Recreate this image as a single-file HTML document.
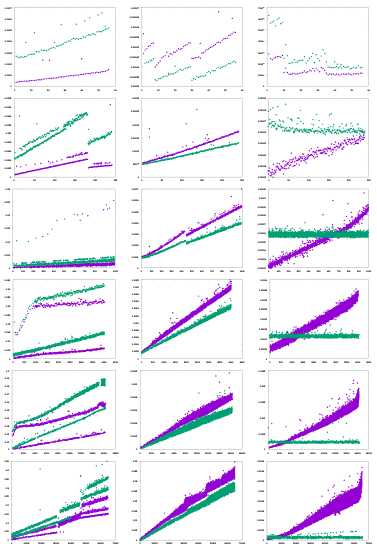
<!DOCTYPE html><html><head><meta charset="utf-8"><title>plots</title><style>html,body{margin:0;padding:0;background:#fff}svg{display:block}</style></head><body><svg width="377" height="550" viewBox="0 0 377 550">
<rect width="377" height="550" fill="#fff"/>
<g font-family="Liberation Sans, sans-serif" font-size="22" fill="#000" stroke="#000" stroke-width="1.0" text-rendering="geometricPrecision">
<g>
<rect x="14.50" y="7.50" width="101.00" height="78.85" fill="none" stroke="#8a8a8a" stroke-width="0.35"/>
<text transform="translate(14.50 90.55) scale(.1)" text-anchor="middle">0</text>
<text transform="translate(31.33 90.55) scale(.1)" text-anchor="middle">10</text>
<text transform="translate(48.17 90.55) scale(.1)" text-anchor="middle">20</text>
<text transform="translate(65.00 90.55) scale(.1)" text-anchor="middle">30</text>
<text transform="translate(81.83 90.55) scale(.1)" text-anchor="middle">40</text>
<text transform="translate(98.67 90.55) scale(.1)" text-anchor="middle">50</text>
<text transform="translate(115.50 90.55) scale(.1)" text-anchor="middle">60</text>
<text transform="translate(11.60 87.40) scale(.1)" text-anchor="end">0</text>
<text transform="translate(11.60 76.14) scale(.1)" text-anchor="end">0.0001</text>
<text transform="translate(11.60 64.87) scale(.1)" text-anchor="end">0.0002</text>
<text transform="translate(11.60 53.61) scale(.1)" text-anchor="end">0.0003</text>
<text transform="translate(11.60 42.34) scale(.1)" text-anchor="end">0.0004</text>
<text transform="translate(11.60 31.08) scale(.1)" text-anchor="end">0.0005</text>
<text transform="translate(11.60 19.81) scale(.1)" text-anchor="end">0.0006</text>
<text transform="translate(11.60 8.55) scale(.1)" text-anchor="end">0.0007</text>
<path d="M31.33 86.35v-1M31.33 7.50v1M48.17 86.35v-1M48.17 7.50v1M65.00 86.35v-1M65.00 7.50v1M81.83 86.35v-1M81.83 7.50v1M98.67 86.35v-1M98.67 7.50v1M14.50 75.09h1M115.50 75.09h-1M14.50 63.82h1M115.50 63.82h-1M14.50 52.56h1M115.50 52.56h-1M14.50 41.29h1M115.50 41.29h-1M14.50 30.03h1M115.50 30.03h-1M14.50 18.76h1M115.50 18.76h-1" stroke="#8a8a8a" stroke-width="0.3" fill="none"/>
<path transform="scale(.1)" d="M162 822h0m17-1h0m17-3h0m16-4h0m17 0h0m17-3h0m17 1h0m17 1h0m16-6h0m17-2h0m17 1h0m17-2h0m17-3h0m17-4h0m17 1h0m16 0h0m17-7h0m17 0h0m17-5h0m17 0h0m17-3h0m16 2h0m17-5h0m17 1h0m17-2h0m17-3h0m17-8h0m16 2h0m17-1h0m17-2h0m17-6h0m17 0h0m16-3h0m17-2h0m17 2h0m17-6h0m17-1h0m17 0h0m17-6h0m16-1h0m17-2h0m17-2h0m17-5h0m17 1h0m16 1h0m17-9h0m17 3h0m17-4h0m17-4h0m17 4h0m17-5h0m16-7h0m17 1h0m17-1h0m17-11h0m17-8h0" stroke="#9400d3" stroke-width="14.0" stroke-linecap="round" fill="none"/>
<path transform="scale(.1)" d="M428 602h0m67 0h0m321-15h0" stroke="#9400d3" stroke-width="14.0" stroke-linecap="round" fill="none"/>
<path transform="scale(.1)" d="M162 562h0m17 8h0m17 8h0m16-11h0m17 8h0m17-8h0m17-3h0m17-15h0m16-3h0m17-4h0m17 0h0m17-3h0m17-21h0m17-2h0m17 5h0m16-22h0m17 6h0m17-3h0m17 5h0m17-9h0m17-11h0m16-6h0m17-6h0m17 6h0m17-19h0m17-5h0m17-1h0m16-9h0m17-7h0m17-16h0m17-3h0m17-12h0m16 1h0m17-14h0m17-12h0m17 6h0m17-6h0m17 10h0m17-8h0m16 0h0m17-18h0m17 7h0m17-19h0m17-8h0m16 4h0m17-11h0m17-1h0m17 6h0m17-27h0m17-3h0m17 1h0m16-2h0m17-11h0m17-11h0m17-4h0m17-10h0" stroke="#009e73" stroke-width="14.0" stroke-linecap="round" fill="none"/>
<path transform="scale(.1)" d="M257 424h0m87-96h0m201 96h0m67-177h0m152-5h0m83-33h0m50-30h0m84-29h0m37-20h0m35 131h0" stroke="#009e73" stroke-width="14.0" stroke-linecap="round" fill="none"/>
</g>
<g>
<rect x="141.80" y="7.50" width="100.35" height="78.85" fill="none" stroke="#8a8a8a" stroke-width="0.35"/>
<text transform="translate(141.80 90.55) scale(.1)" text-anchor="middle">0</text>
<text transform="translate(158.53 90.55) scale(.1)" text-anchor="middle">10</text>
<text transform="translate(175.25 90.55) scale(.1)" text-anchor="middle">20</text>
<text transform="translate(191.97 90.55) scale(.1)" text-anchor="middle">30</text>
<text transform="translate(208.70 90.55) scale(.1)" text-anchor="middle">40</text>
<text transform="translate(225.43 90.55) scale(.1)" text-anchor="middle">50</text>
<text transform="translate(242.15 90.55) scale(.1)" text-anchor="middle">60</text>
<text transform="translate(138.90 87.40) scale(.1)" text-anchor="end">0.00003</text>
<text transform="translate(138.90 77.54) scale(.1)" text-anchor="end">0.000035</text>
<text transform="translate(138.90 67.69) scale(.1)" text-anchor="end">0.00004</text>
<text transform="translate(138.90 57.83) scale(.1)" text-anchor="end">0.000045</text>
<text transform="translate(138.90 47.97) scale(.1)" text-anchor="end">0.00005</text>
<text transform="translate(138.90 38.12) scale(.1)" text-anchor="end">0.000055</text>
<text transform="translate(138.90 28.26) scale(.1)" text-anchor="end">0.00006</text>
<text transform="translate(138.90 18.41) scale(.1)" text-anchor="end">0.000065</text>
<text transform="translate(138.90 8.55) scale(.1)" text-anchor="end">0.00007</text>
<path d="M158.53 86.35v-1M158.53 7.50v1M175.25 86.35v-1M175.25 7.50v1M191.97 86.35v-1M191.97 7.50v1M208.70 86.35v-1M208.70 7.50v1M225.43 86.35v-1M225.43 7.50v1M141.80 76.49h1M242.15 76.49h-1M141.80 66.64h1M242.15 66.64h-1M141.80 56.78h1M242.15 56.78h-1M141.80 46.92h1M242.15 46.92h-1M141.80 37.07h1M242.15 37.07h-1M141.80 27.21h1M242.15 27.21h-1M141.80 17.36h1M242.15 17.36h-1" stroke="#8a8a8a" stroke-width="0.3" fill="none"/>
<path transform="scale(.1)" d="M1435 338h0m16 163h0m17-15h0m17-22h0m17-7h0m16-22h0m17-5h0m17 240h0m17-20h0m16-23h0m17-17h0m17-30h0m16-14h0m17-10h0m17-34h0m17 41h0m16-26h0m17 5h0m17-20h0m16 0h0m17-14h0m17-21h0m17 7h0m16-9h0m17-20h0m17-11h0m17-10h0m16-15h0m17 2h0m17 154h0m16 0h0m17-7h0m17-2h0m17-6h0m16 12h0m17-52h0m17-3h0m17-17h0m16-14h0m17-9h0m17-12h0m16-7h0m17-13h0m17-10h0m17-17h0m16-7h0m17 5h0m17-25h0m17-13h0m16-2h0m17-4h0m17-28h0m16-3h0m17-13h0m17-17h0m17 4h0" stroke="#9400d3" stroke-width="14.0" stroke-linecap="round" fill="none"/>
<path transform="scale(.1)" d="M2002 434h0m184-317h0m137 67h0" stroke="#9400d3" stroke-width="14.0" stroke-linecap="round" fill="none"/>
<path transform="scale(.1)" d="M1435 535h0m16 101h0m17-15h0m17 1h0m17-15h0m16-5h0m17-15h0m17 210h0m17 11h0m16-20h0m17-1h0m17-9h0m16-10h0m17-7h0m17 1h0m17-13h0m16-6h0m17-6h0m17 2h0m16-11h0m17-9h0m17-13h0m17-13h0m16 10h0m17-7h0m17-15h0m17-2h0m16-5h0m17-6h0m17 134h0m16-17h0m17 8h0m17-27h0m17 9h0m16-10h0m17-4h0m17 1h0m17-10h0m16-26h0m17-11h0m17 12h0m16-21h0m17 1h0m17-1h0m17-25h0m16-10h0m17 11h0m17-9h0m17-9h0m16-5h0m17-13h0m17-12h0m16 4h0m17-13h0m17-12h0m17 9h0" stroke="#009e73" stroke-width="14.0" stroke-linecap="round" fill="none"/>
<path transform="scale(.1)" d="M1684 735h0m67-73h0" stroke="#009e73" stroke-width="14.0" stroke-linecap="round" fill="none"/>
</g>
<g>
<rect x="267.10" y="7.50" width="101.70" height="78.85" fill="none" stroke="#8a8a8a" stroke-width="0.35"/>
<text transform="translate(267.10 90.55) scale(.1)" text-anchor="middle">0</text>
<text transform="translate(284.05 90.55) scale(.1)" text-anchor="middle">10</text>
<text transform="translate(301.00 90.55) scale(.1)" text-anchor="middle">20</text>
<text transform="translate(317.95 90.55) scale(.1)" text-anchor="middle">30</text>
<text transform="translate(334.90 90.55) scale(.1)" text-anchor="middle">40</text>
<text transform="translate(351.85 90.55) scale(.1)" text-anchor="middle">50</text>
<text transform="translate(368.80 90.55) scale(.1)" text-anchor="middle">60</text>
<text transform="translate(264.20 87.40) scale(.1)" text-anchor="end">0</text>
<text transform="translate(264.20 76.14) scale(.1)" text-anchor="end">1x10<tspan dy='-6' font-size='14'>-7</tspan></text>
<text transform="translate(264.20 64.87) scale(.1)" text-anchor="end">2x10<tspan dy='-6' font-size='14'>-7</tspan></text>
<text transform="translate(264.20 53.61) scale(.1)" text-anchor="end">3x10<tspan dy='-6' font-size='14'>-7</tspan></text>
<text transform="translate(264.20 42.34) scale(.1)" text-anchor="end">4x10<tspan dy='-6' font-size='14'>-7</tspan></text>
<text transform="translate(264.20 31.08) scale(.1)" text-anchor="end">5x10<tspan dy='-6' font-size='14'>-7</tspan></text>
<text transform="translate(264.20 19.81) scale(.1)" text-anchor="end">6x10<tspan dy='-6' font-size='14'>-7</tspan></text>
<text transform="translate(264.20 8.55) scale(.1)" text-anchor="end">7x10<tspan dy='-6' font-size='14'>-7</tspan></text>
<path d="M284.05 86.35v-1M284.05 7.50v1M301.00 86.35v-1M301.00 7.50v1M317.95 86.35v-1M317.95 7.50v1M334.90 86.35v-1M334.90 7.50v1M351.85 86.35v-1M351.85 7.50v1M267.10 75.09h1M368.80 75.09h-1M267.10 63.82h1M368.80 63.82h-1M267.10 52.56h1M368.80 52.56h-1M267.10 41.29h1M368.80 41.29h-1M267.10 30.03h1M368.80 30.03h-1M267.10 18.76h1M368.80 18.76h-1" stroke="#8a8a8a" stroke-width="0.3" fill="none"/>
<path transform="scale(.1)" d="M2688 541h0m17 43h0m17 14h0m17-17h0m17-6h0m17-7h0m17-4h0m17 8h0m17-17h0m16 170h0m17-44h0m17 44h0m17 17h0m17 0h0m17-4h0m17-7h0m17 11h0m17-4h0m17-7h0m17 0h0m17-6h0m17-16h0m17 16h0m17-7h0m17-17h0m17 8h0m17-25h0m17 25h0m17-28h0m17 20h0m16 17h0m17-43h0m17 10h0m17 17h0m17 31h0m17 17h0m17-13h0m17 7h0m17-4h0m17 9h0m17-9h0m17 6h0m17 5h0m17-10h0m17-2h0m17 4h0m17-1h0m17-6h0m17 7h0m16 8h0m17-12h0m17 0h0m17-5h0m17 7h0m17-9h0m17 1h0" stroke="#9400d3" stroke-width="14.0" stroke-linecap="round" fill="none"/>
<path transform="scale(.1)" d="M2688 154h0m17 77h0m17-9h0m17-13h0m17 50h0m17-63h0m17-16h0m17 57h0m17-11h0m16 356h0m17-134h0m17 110h0m17 76h0m17-3h0m17-6h0m17-27h0m17 24h0m17-4h0m17-13h0m17-3h0m17 0h0m17-34h0m17 63h0m17-23h0m17-23h0m17-17h0m17-33h0m17 90h0m17-77h0m17 37h0m16 23h0m17-47h0m17-63h0m17 37h0m17 85h0m17 50h0m17 2h0m17 6h0m17-2h0m17-2h0m17-9h0m17 12h0m17-9h0m17 13h0m17-17h0m17 8h0m17 2h0m17-10h0m17 23h0m16-2h0m17-14h0m17 9h0m17-3h0m17-21h0m17 21h0m17-2h0" stroke="#009e73" stroke-width="14.0" stroke-linecap="round" fill="none"/>
<path transform="scale(.1)" d="M3346 618h0m26 24h0m40 3h0" stroke="#009e73" stroke-width="14.0" stroke-linecap="round" fill="none"/>
</g>
<g>
<rect x="14.20" y="98.25" width="101.30" height="78.85" fill="none" stroke="#8a8a8a" stroke-width="0.35"/>
<text transform="translate(14.20 181.30) scale(.1)" text-anchor="middle">0</text>
<text transform="translate(34.46 181.30) scale(.1)" text-anchor="middle">50</text>
<text transform="translate(54.72 181.30) scale(.1)" text-anchor="middle">100</text>
<text transform="translate(74.98 181.30) scale(.1)" text-anchor="middle">150</text>
<text transform="translate(95.24 181.30) scale(.1)" text-anchor="middle">200</text>
<text transform="translate(115.50 181.30) scale(.1)" text-anchor="middle">250</text>
<text transform="translate(11.30 178.15) scale(.1)" text-anchor="end">0</text>
<text transform="translate(11.30 169.39) scale(.1)" text-anchor="end">0.0002</text>
<text transform="translate(11.30 160.63) scale(.1)" text-anchor="end">0.0004</text>
<text transform="translate(11.30 151.87) scale(.1)" text-anchor="end">0.0006</text>
<text transform="translate(11.30 143.11) scale(.1)" text-anchor="end">0.0008</text>
<text transform="translate(11.30 134.34) scale(.1)" text-anchor="end">0.001</text>
<text transform="translate(11.30 125.58) scale(.1)" text-anchor="end">0.0012</text>
<text transform="translate(11.30 116.82) scale(.1)" text-anchor="end">0.0014</text>
<text transform="translate(11.30 108.06) scale(.1)" text-anchor="end">0.0016</text>
<text transform="translate(11.30 99.30) scale(.1)" text-anchor="end">0.0018</text>
<path d="M34.46 177.10v-1M34.46 98.25v1M54.72 177.10v-1M54.72 98.25v1M74.98 177.10v-1M74.98 98.25v1M95.24 177.10v-1M95.24 98.25v1M14.20 168.34h1M115.50 168.34h-1M14.20 159.58h1M115.50 159.58h-1M14.20 150.82h1M115.50 150.82h-1M14.20 142.06h1M115.50 142.06h-1M14.20 133.29h1M115.50 133.29h-1M14.20 124.53h1M115.50 124.53h-1M14.20 115.77h1M115.50 115.77h-1M14.20 107.01h1M115.50 107.01h-1" stroke="#8a8a8a" stroke-width="0.3" fill="none"/>
<path transform="scale(.1)" d="M150 1748h0m4-5h0m5 3h0m4 0h0m4-3h0m4-1h0m4 2h0m4-5h0m4-1h0m4-2h0m4 1h0m4 2h0m4-2h0m4-4h0m4-1h0m4 0h0m4 0h0m4-1h0m4-1h0m4 0h0m4-2h0m4-1h0m5 0h0m4-1h0m4 0h0m4 1h0m4-3h0m4-2h0m4-3h0m4 2h0m4-4h0m4 0h0m4 2h0m4-1h0m4-2h0m4-3h0m4 1h0m4-1h0m4 1h0m4 2h0m4-4h0m5-3h0m4-1h0m4 1h0m4-2h0m4-2h0m4 1h0m4-3h0m4 3h0m4-1h0m4-1h0m4-3h0m4 1h0m4-2h0m4-1h0m4-1h0m4-3h0m4-1h0m4 3h0m4-2h0m5-1h0m4 1h0m4-6h0m4 1h0m4 1h0m4-1h0m4-2h0m4 2h0m4-3h0m4-3h0m4 0h0m4 2h0m4-2h0m4-4h0m4 4h0m4-2h0m4 1h0m4-4h0m4-1h0m4-2h0m5 5h0m4-5h0m4 2h0m4-5h0m4 1h0m4-4h0m4 1h0m4 1h0m4-4h0m4 3h0m4-2h0m4-3h0m4 0h0m4-1h0m4 0h0m4-2h0m4-1h0m4 0h0m4-2h0m5-2h0m4 2h0m4 0h0m4-5h0m4 2h0m4-2h0m4-1h0m4 2h0m4-3h0m4 2h0m4-4h0m4 1h0m4-2h0m4-2h0m4 1h0m4-2h0m4 1h0m4-2h0m4-3h0m5 1h0m4-1h0m4 1h0m4-4h0m4 1h0m4-4h0m4 3h0m4-4h0m4-2h0m4 2h0m4 1h0m4-5h0m4 0h0m4 0h0m4-2h0m4 2h0m4-3h0m4-1h0m4 2h0m4-3h0m5 1h0m4-3h0m4-2h0m4-2h0m4 6h0m4-5h0m4 0h0m4-1h0m4-1h0m4-1h0m4 3h0m4-6h0m4-2h0m4 0h0m4-1h0m4 2h0m4 0h0m4-4h0m4-2h0m5 1h0m4 2h0m4-8h0m4 5h0m4-4h0m4 3h0m4-4h0m4 0h0m4-3h0m4 0h0m4 3h0m4-1h0m4-3h0m4-2h0m4-3h0m4 2h0m4 0h0m4-1h0m4-1h0m5-3h0m4 1h0m4 0h0m4 1h0" stroke="#9400d3" stroke-width="14.0" stroke-linecap="round" fill="none"/>
<path transform="scale(.1)" d="M886 1679h0m4-4h0m4-2h0m5 1h0m4-2h0m4 0h0m5 1h0m4-3h0m4 3h0m5-2h0m4 1h0m4-2h0m5-1h0m4-1h0m4 1h0m5-1h0m4 1h0m4-1h0m5-3h0m4 2h0m4-3h0m5 1h0m4 0h0m4-4h0m5 4h0m4 0h0m4-1h0m5-1h0m4-1h0m4-1h0m5 1h0m4-1h0m4 1h0m5-3h0m4 2h0m4-1h0m5-1h0m4-1h0m4 2h0m5-5h0m4 4h0m4-1h0m5 0h0m4-1h0m4-2h0m5 0h0m4 2h0m4-1h0m5-1h0m4-4h0m4 4h0m5 1h0m4-1h0m4-2h0m5-4h0" stroke="#9400d3" stroke-width="14.0" stroke-linecap="round" fill="none"/>
<path transform="scale(.1)" d="M672 1578h0m3-5h0m10 0h0m11-3h0m11 0h0m19 2h0m5-14h0m3 5h0m4-7h0m0 9h0m18-7h0m5-4h0m14-3h0m12-4h0m7 2h0m1-6h0m11-3h0m3-8h0m0 11h0m3-1h0m7-15h0m6 21h0m16-10h0m4-2h0m0 3h0m10-7h0m3-8h0m3 12h0m5-1h0m8-8h0" stroke="#9400d3" stroke-width="14.0" stroke-linecap="round" fill="none"/>
<path transform="scale(.1)" d="M940 1638h0m6-3h0m3 2h0m16 1h0m5-4h0m3-2h0m8 3h0m1 4h0m2-4h0m3 5h0m12-9h0m2-1h0m10 3h0m3-6h0m0 13h0m39-10h0m2 2h0m2-1h0m1-4h0m2 2h0m20 5h0m17-9h0" stroke="#9400d3" stroke-width="14.0" stroke-linecap="round" fill="none"/>
<path transform="scale(.1)" d="M167 1662h0m27-501h0m13 508h0m54-20h0m90-7h0m57-7h0m77-20h0m16 14h0m27-7h0m40-10h0m50-14h0m91-26h0m53-30h0m341-495h0" stroke="#9400d3" stroke-width="14.0" stroke-linecap="round" fill="none"/>
<path transform="scale(.1)" d="M147 1582h0m3 8h0m4-9h0m3 1h0m4-1h0m3 0h0m4-6h0m3 2h0m4-9h0m3 1h0m3-6h0m4 9h0m3-8h0m4-5h0m3 0h0m4-2h0m3 2h0m3-12h0m4 0h0m3 1h0m4 12h0m3-9h0m4-7h0m3 1h0m3 5h0m4-13h0m3-3h0m4 6h0m3-6h0m4-1h0m3-7h0m3 9h0m4-3h0m3-8h0m4-1h0m3-15h0m4 11h0m3-6h0m3 1h0m4-1h0m3-7h0m4-8h0m3 7h0m4-7h0m3 0h0m3-3h0m4-1h0m3-11h0m4 14h0m3-6h0m4 2h0m3 2h0m4-11h0m3-11h0m3 2h0m4-3h0m3 1h0m4 1h0m3-12h0m4 9h0m3-11h0m3 7h0m4-4h0m3-3h0m4-1h0m3-4h0m4-3h0m3-7h0m3 6h0m4 7h0m3-2h0m4-5h0m3-5h0m4-8h0m3 8h0m3-9h0m4-2h0m3-3h0m4-1h0m3-4h0m4 0h0m3-7h0m3 1h0m4 11h0m3-13h0m4-3h0m3 1h0m4-1h0m3-10h0m4 2h0m3 3h0m3-5h0m4-3h0m3 5h0m4-12h0m3 1h0m4-5h0m3 8h0m3-19h0m4 4h0m3-1h0m4 4h0m3-3h0m4 2h0m3-16h0m3 9h0m4-7h0m3-4h0m4 4h0m3-9h0m4-7h0m3 6h0m3-8h0m4 2h0m3 3h0m4-2h0m3 4h0m4-11h0m3-8h0m3 2h0m4-3h0m3-4h0m4 6h0m3-7h0m4-8h0m3 10h0m3-5h0m4 0h0m3-3h0m4 0h0m3-5h0m4 4h0m3-6h0m4-2h0m3-2h0m3-11h0m4 4h0m3-2h0m4 0h0m3-10h0m4 12h0m3-9h0m3-8h0m4-4h0m3 4h0m4-1h0m3-5h0m4 2h0m3-5h0m3 3h0" stroke="#009e73" stroke-width="14.0" stroke-linecap="round" fill="none"/>
<path transform="scale(.1)" d="M201 1482h0m7 2h0m7 5h0m7 10h0m7-35h0m7 0h0m7-7h0m7 10h0m7-20h0m8 1h0m7 0h0m7-12h0m7-4h0m7 1h0m7-19h0m7 2h0m7 5h0m8 1h0m7-7h0m7-17h0m7 7h0m7 7h0m7-6h0m7-10h0m7-11h0m7 10h0m8-15h0m7-9h0m7-1h0m7 16h0m7-15h0m7 4h0m7-18h0m7 9h0m8-18h0m7 0h0m7 19h0m7-19h0m7-15h0m7 0h0m7 0h0m7 3h0m7-18h0m8-15h0m7 8h0m7-1h0m7-3h0m7 6h0m7-12h0m7 0h0m7-20h0m8 13h0m7 6h0m7-15h0m7-9h0" stroke="#009e73" stroke-width="14.0" stroke-linecap="round" fill="none"/>
<path transform="scale(.1)" d="M635 1267h0m3 25h0m4-47h0m3 12h0m3 8h0m3 2h0m4-21h0m3 10h0m3-11h0m3 5h0m4-6h0m3-19h0m3 17h0m3 13h0m4-33h0m3 10h0m3 14h0m3-31h0m4 19h0m3-23h0m3 35h0m3 18h0m4-7h0m3-39h0m3 14h0m3-12h0m4-2h0m3 22h0m3-50h0m3 38h0m4-20h0m3 22h0m3-22h0m3-16h0m4 14h0m3 6h0m3-14h0m3 6h0m4-19h0m3-29h0m3 49h0m3-5h0m4-11h0m3-3h0m3 14h0m3-27h0m4-6h0m3 7h0m3 21h0m3-45h0m4 42h0m3-33h0m3-9h0m3 37h0m4-24h0m3-22h0m3 14h0m3 19h0m4 3h0m3-29h0m3 12h0m3 3h0m4-24h0m3 15h0m3-9h0m3-10h0m4-1h0m3 7h0m3-2h0m3-12h0m4 1h0m3 23h0m3-17h0m3 10h0m4 3h0" stroke="#009e73" stroke-width="14.0" stroke-linecap="round" fill="none"/>
<path transform="scale(.1)" d="M882 1434h0m4 14h0m3-30h0m4 14h0m3-12h0m3 19h0m4-3h0m3-36h0m3 8h0m4 14h0m3 0h0m4-2h0m3-9h0m3 4h0m4 0h0m3-8h0m4 9h0m3-32h0m3 26h0m4-17h0m3 17h0m4-13h0m3-7h0m3 10h0m4-13h0m3-1h0m4-8h0m3 13h0m3 4h0m4 3h0m3-12h0m3 10h0m4-11h0m3-3h0m4 5h0m3 3h0m3-14h0m4 0h0m3-1h0m4 1h0m3-11h0m3 17h0m4-15h0m3 7h0m4-13h0m3 9h0m3-1h0m4-9h0m3 22h0m3-17h0m4 12h0m3-9h0m4-17h0m3 2h0m3 6h0m4-5h0m3-1h0m4-5h0m3-16h0m3 14h0m4-20h0m3 23h0m4-12h0m3-1h0m3 3h0m4 3h0m3-17h0m4-4h0m3 5h0m3-11h0" stroke="#009e73" stroke-width="14.0" stroke-linecap="round" fill="none"/>
<path transform="scale(.1)" d="M150 1528h0m134-107h0m50 0h0m34-183h0m407-91h0m27 14h0m84 133h0" stroke="#009e73" stroke-width="14.0" stroke-linecap="round" fill="none"/>
</g>
<g>
<rect x="141.80" y="98.25" width="100.35" height="78.85" fill="none" stroke="#8a8a8a" stroke-width="0.35"/>
<text transform="translate(141.80 181.30) scale(.1)" text-anchor="middle">0</text>
<text transform="translate(161.87 181.30) scale(.1)" text-anchor="middle">50</text>
<text transform="translate(181.94 181.30) scale(.1)" text-anchor="middle">100</text>
<text transform="translate(202.01 181.30) scale(.1)" text-anchor="middle">150</text>
<text transform="translate(222.08 181.30) scale(.1)" text-anchor="middle">200</text>
<text transform="translate(242.15 181.30) scale(.1)" text-anchor="middle">250</text>
<text transform="translate(138.90 178.15) scale(.1)" text-anchor="end">0</text>
<text transform="translate(138.90 165.01) scale(.1)" text-anchor="end">5x10<tspan dy='-6' font-size='14'>-5</tspan></text>
<text transform="translate(138.90 151.87) scale(.1)" text-anchor="end">0.0001</text>
<text transform="translate(138.90 138.73) scale(.1)" text-anchor="end">0.00015</text>
<text transform="translate(138.90 125.58) scale(.1)" text-anchor="end">0.0002</text>
<text transform="translate(138.90 112.44) scale(.1)" text-anchor="end">0.00025</text>
<text transform="translate(138.90 99.30) scale(.1)" text-anchor="end">0.0003</text>
<path d="M161.87 177.10v-1M161.87 98.25v1M181.94 177.10v-1M181.94 98.25v1M202.01 177.10v-1M202.01 98.25v1M222.08 177.10v-1M222.08 98.25v1M141.80 163.96h1M242.15 163.96h-1M141.80 150.82h1M242.15 150.82h-1M141.80 137.68h1M242.15 137.68h-1M141.80 124.53h1M242.15 124.53h-1M141.80 111.39h1M242.15 111.39h-1" stroke="#8a8a8a" stroke-width="0.3" fill="none"/>
<path transform="scale(.1)" d="M1427 1629h0m4 6h0m4-9h0m4 4h0m5-7h0m4 4h0m4-3h0m4-1h0m4 1h0m4 2h0m4-5h0m4-2h0m4-4h0m4 3h0m5-3h0m4 2h0m4-4h0m4 4h0m4-12h0m4 3h0m4 3h0m4-5h0m4-3h0m4 1h0m4-5h0m5 4h0m4 5h0m4-5h0m4-8h0m4 0h0m4 0h0m4 3h0m4-7h0m4 0h0m4 3h0m5-1h0m4-5h0m4-3h0m4-3h0m4 1h0m4-5h0m4 7h0m4-5h0m4 2h0m4 3h0m5-3h0m4-8h0m4 5h0m4-1h0m4-7h0m4-1h0m4 1h0m4-6h0m4 8h0m4-13h0m5 3h0m4 2h0m4-2h0m4 0h0m4 0h0m4-3h0m4 3h0m4-11h0m4 5h0m4-3h0m5 1h0m4-1h0m4-4h0m4-1h0m4 3h0m4-2h0m4-5h0m4 7h0m4 0h0m4-12h0m5 4h0m4 5h0m4-6h0m4-3h0m4-3h0m4-2h0m4 0h0m4-2h0m4 2h0m4-5h0m5-1h0m4-4h0m4 2h0m4-4h0m4 1h0m4 2h0m4-3h0m4-1h0m4-2h0m4-2h0m5-2h0m4-2h0m4 2h0m4-7h0m4 6h0m4-6h0m4-3h0m4-1h0m4-2h0m4 1h0m5-4h0m4 4h0m4-7h0m4-6h0m4 3h0m4-5h0m4 5h0m4 2h0m4-3h0m4-7h0m5 0h0m4 6h0m4-6h0m4-2h0m4 2h0m4 3h0m4-5h0m4-5h0m4-1h0m4 0h0m5-5h0m4-3h0m4 2h0m4-5h0m4 2h0m4-1h0m4 5h0m4-11h0m4 1h0m4-2h0m5 1h0m4 0h0m4-6h0m4-2h0m4-4h0m4 1h0m4 3h0m4-3h0m4-5h0m4 1h0m5 0h0m4 0h0m4-5h0m4 0h0m4-7h0m4 1h0m4 7h0m4-13h0m4 4h0m4 1h0m4-4h0m5-2h0m4 1h0m4-2h0m4-1h0m4-7h0m4 4h0m4-4h0m4 0h0m4 1h0m4-1h0m5 0h0m4-6h0m4 3h0m4-1h0m4-2h0m4 0h0m4-7h0m4-1h0m4 1h0m4-8h0m5 3h0m4-3h0m4-1h0m4-6h0m4 1h0m4 1h0m4 1h0m4-1h0m4-4h0m4-2h0m5-4h0m4 2h0m4-3h0m4 1h0m4 2h0m4-7h0m4-6h0m4 1h0m4-4h0m4 0h0m5 6h0m4-5h0m4-7h0m4 5h0m4 0h0m4-6h0m4-2h0m4-1h0m4 0h0m4 0h0m5 0h0m4-1h0m4-2h0m4-1h0m4-3h0m4-9h0m4 3h0m4 0h0m4-4h0m4 3h0m5-6h0m4-3h0m4 6h0m4-4h0m4-3h0m4 1h0m4-1h0m4-4h0m4-10h0m4 4h0m5-1h0m4-3h0m4 2h0m4 2h0m4-7h0m4-4h0m4 9h0m4-9h0m4-4h0" stroke="#9400d3" stroke-width="14.0" stroke-linecap="round" fill="none"/>
<path transform="scale(.1)" d="M1494 1288h0m0 83h0m73 184h0m111-33h0m150-51h0m34-16h0m66-34h0m41-327h0m86 287h0m17-33h0m0 53h0m14-13h0m10 27h0" stroke="#9400d3" stroke-width="14.0" stroke-linecap="round" fill="none"/>
<path transform="scale(.1)" d="M1427 1643h0m4-1h0m4-4h0m4 4h0m5-5h0m4-2h0m4 3h0m4 1h0m4-6h0m4 3h0m4-3h0m4 8h0m4-11h0m4 5h0m5-5h0m4-1h0m4 2h0m4 0h0m4 0h0m4-4h0m4-3h0m4-1h0m4 2h0m4 0h0m4 1h0m5-3h0m4 1h0m4 0h0m4-5h0m4-5h0m4 0h0m4-2h0m4 8h0m4-8h0m4 6h0m5-3h0m4 3h0m4-3h0m4-5h0m4-1h0m4 0h0m4 0h0m4-3h0m4 1h0m4 4h0m5-11h0m4 5h0m4-4h0m4 2h0m4 1h0m4-3h0m4 1h0m4-7h0m4 7h0m4-6h0m5 3h0m4-2h0m4-10h0m4 5h0m4 2h0m4 3h0m4-4h0m4-1h0m4-6h0m4 8h0m5 0h0m4-6h0m4-2h0m4-5h0m4 7h0m4 5h0m4-7h0m4 1h0m4-3h0m4-6h0m5 6h0m4-8h0m4 2h0m4 1h0m4 1h0m4-2h0m4-1h0m4-5h0m4-2h0m4 3h0m5-3h0m4-3h0m4-1h0m4 1h0m4-5h0m4 1h0m4-2h0m4 4h0m4 0h0m4 4h0m5-12h0m4 2h0m4 4h0m4-5h0m4-1h0m4 5h0m4-7h0m4-4h0m4-1h0m4 4h0m5-1h0m4-6h0m4 0h0m4 4h0m4-1h0m4-5h0m4 3h0m4-1h0m4-8h0m4 3h0m5 1h0m4-4h0m4-5h0m4 4h0m4 2h0m4 2h0m4-12h0m4 13h0m4-12h0m4 5h0m5 0h0m4-2h0m4-3h0m4-5h0m4 4h0m4-5h0m4-6h0m4 15h0m4-7h0m4 2h0m5-9h0m4 6h0m4-1h0m4-1h0m4-6h0m4-4h0m4 2h0m4-7h0m4 0h0m4 5h0m5-4h0m4 1h0m4-1h0m4 5h0m4-2h0m4-5h0m4 2h0m4-7h0m4 1h0m4 3h0m4-8h0m5 2h0m4-4h0m4 3h0m4 4h0m4-8h0m4 2h0m4-5h0m4-2h0m4-1h0m4 8h0m5 1h0m4-6h0m4-5h0m4 4h0m4-4h0m4 2h0m4-2h0m4-1h0m4 0h0m4-5h0m5 0h0m4-5h0m4 3h0m4-4h0m4 3h0m4-3h0m4 2h0m4 0h0m4-6h0m4 1h0m5-2h0m4 5h0m4 2h0m4-4h0m4-4h0m4 4h0m4-10h0m4 9h0m4-8h0m4-7h0m5 15h0m4-4h0m4-9h0m4 3h0m4-2h0m4 0h0m4-5h0m4 1h0m4 3h0m4-2h0m5 2h0m4-4h0m4 6h0m4-10h0m4 2h0m4-8h0m4 1h0m4 7h0m4-8h0m4 4h0m5-3h0m4-4h0m4 2h0m4-2h0m4-1h0m4 3h0m4-1h0m4-5h0m4-1h0m4 2h0m5-2h0m4 3h0m4 4h0m4-7h0m4-3h0m4-1h0m4-3h0m4-1h0m4-2h0" stroke="#009e73" stroke-width="14.0" stroke-linecap="round" fill="none"/>
<path transform="scale(.1)" d="M1621 1588h0m57-6h0m184-344h0m110 243h0m140-33h0m24 7h0m160-27h0" stroke="#009e73" stroke-width="14.0" stroke-linecap="round" fill="none"/>
</g>
<g>
<rect x="268.80" y="98.25" width="100.00" height="78.85" fill="none" stroke="#8a8a8a" stroke-width="0.35"/>
<text transform="translate(268.80 181.30) scale(.1)" text-anchor="middle">0</text>
<text transform="translate(288.80 181.30) scale(.1)" text-anchor="middle">50</text>
<text transform="translate(308.80 181.30) scale(.1)" text-anchor="middle">100</text>
<text transform="translate(328.80 181.30) scale(.1)" text-anchor="middle">150</text>
<text transform="translate(348.80 181.30) scale(.1)" text-anchor="middle">200</text>
<text transform="translate(368.80 181.30) scale(.1)" text-anchor="middle">250</text>
<text transform="translate(265.90 178.15) scale(.1)" text-anchor="end">0.00002</text>
<text transform="translate(265.90 166.89) scale(.1)" text-anchor="end">0.00003</text>
<text transform="translate(265.90 155.62) scale(.1)" text-anchor="end">0.00004</text>
<text transform="translate(265.90 144.36) scale(.1)" text-anchor="end">0.00005</text>
<text transform="translate(265.90 133.09) scale(.1)" text-anchor="end">0.00006</text>
<text transform="translate(265.90 121.83) scale(.1)" text-anchor="end">0.00007</text>
<text transform="translate(265.90 110.56) scale(.1)" text-anchor="end">0.00008</text>
<text transform="translate(265.90 99.30) scale(.1)" text-anchor="end">0.00009</text>
<path d="M288.80 177.10v-1M288.80 98.25v1M308.80 177.10v-1M308.80 98.25v1M328.80 177.10v-1M328.80 98.25v1M348.80 177.10v-1M348.80 98.25v1M268.80 165.84h1M368.80 165.84h-1M268.80 154.57h1M368.80 154.57h-1M268.80 143.31h1M368.80 143.31h-1M268.80 132.04h1M368.80 132.04h-1M268.80 120.78h1M368.80 120.78h-1M268.80 109.51h1M368.80 109.51h-1" stroke="#8a8a8a" stroke-width="0.3" fill="none"/>
<path transform="scale(.1)" d="M2681 1709h0m4 30h0m5-32h0m4 3h0m4-29h0m4 75h0m4-32h0m4 33h0m4-28h0m5 16h0m4-48h0m4 24h0m4 52h0m4-131h0m4 87h0m4 12h0m5-36h0m4 8h0m4 12h0m4-54h0m4 28h0m4-37h0m4-31h0m5 34h0m4 12h0m4 6h0m4 7h0m4-53h0m4 61h0m4 6h0m5-13h0m4-34h0m4 8h0m4 16h0m4-6h0m4-59h0m4 65h0m5 58h0m4-132h0m4 76h0m4-19h0m4-15h0m4 40h0m4-72h0m5 35h0m4 34h0m4-47h0m4-8h0m4 13h0m4-17h0m4 53h0m5-69h0m4 47h0m4-60h0m4 51h0m4-23h0m4-94h0m4 94h0m4-31h0m5 16h0m4 52h0m4-74h0m4 0h0m4 67h0m4-38h0m4 37h0m5-82h0m4 12h0m4 21h0m4 34h0m4-34h0m4-3h0m4 0h0m5-7h0m4-14h0m4 67h0m4-54h0m4-33h0m4 16h0m4 32h0m5-4h0m4-23h0m4-16h0m4 18h0m4-48h0m4 9h0m4 56h0m5-36h0m4 22h0m4 22h0m4-17h0m4-19h0m4 56h0m4-41h0m5-29h0m4 28h0m4-10h0m4-36h0m4 24h0m4-8h0m4-51h0m5 48h0m4-4h0m4-5h0m4-59h0m4 58h0m4 7h0m4 3h0m5-35h0m4 47h0m4-52h0m4 26h0m4 40h0m4-56h0m4-6h0m5 52h0m4-41h0m4-23h0m4 37h0m4 21h0m4-91h0m4 37h0m5-6h0m4-4h0m4 5h0m4-1h0m4 30h0m4-34h0m4 27h0m5 6h0m4-32h0m4 22h0m4 5h0m4-2h0m4-28h0m4 14h0m5-24h0m4 31h0m4 15h0m4-48h0m4 5h0m4 46h0m4-46h0m5 18h0m4-35h0m4 5h0m4 7h0m4 70h0m4-70h0m4-5h0m5-2h0m4 10h0m4 20h0m4-70h0m4 105h0m4-51h0m4 32h0m5-33h0m4 8h0m4-56h0m4 30h0m4 4h0m4-6h0m4-53h0m5 80h0m4-36h0m4-2h0m4 3h0m4-1h0m4 16h0m4-47h0m5 8h0m4 31h0m4-5h0m4-16h0m4-6h0m4-9h0m4 19h0m5 32h0m4-61h0m4 67h0m4-19h0m4-36h0m4 31h0m4-61h0m5-9h0m4 10h0m4 22h0m4 1h0m4-6h0m4 15h0m4-62h0m5 69h0m4-52h0m4 18h0m4 5h0m4-21h0m4-7h0m4 8h0m5 25h0m4 15h0m4-2h0m4-48h0m4 9h0m4-5h0m4 35h0m5-68h0m4 86h0m4-48h0m4-9h0m4 28h0m4 18h0m4-20h0m5 17h0m4-26h0m4 28h0m4-1h0m4-38h0m4 40h0m4-35h0m5-20h0m4-12h0m4 15h0m4 27h0m4-57h0m4 13h0m4 28h0m5-3h0m4-68h0m4 55h0m4 18h0m4-39h0m4 21h0m4-67h0" stroke="#9400d3" stroke-width="14.0" stroke-linecap="round" fill="none"/>
<path transform="scale(.1)" d="M2681 1265h0m4-151h0m5 132h0m4-8h0m4-44h0m4 40h0m4-137h0m4 135h0m4 39h0m5-52h0m4 34h0m4 1h0m4-38h0m4 39h0m4 12h0m4-9h0m5-42h0m4 27h0m4-10h0m4 51h0m4 13h0m4-16h0m4 2h0m5-32h0m4 2h0m4 8h0m4 4h0m4-66h0m4 65h0m4-52h0m5 38h0m4 25h0m4 4h0m4-10h0m4 1h0m4 37h0m4-97h0m5 9h0m4 53h0m4 29h0m4 13h0m4-24h0m4-248h0m4 239h0m5 22h0m4-27h0m4 34h0m4 1h0m4-132h0m4 122h0m4 3h0m5 12h0m4-42h0m4 28h0m4-112h0m4 96h0m4 4h0m4-96h0m4 13h0m5 69h0m4 10h0m4 33h0m4 8h0m4-18h0m4 8h0m4-24h0m9 12h0m4-21h0m4 3h0m4-47h0m4 57h0m4-117h0m5 128h0m4-124h0m4 133h0m4-14h0m4-4h0m4-193h0m4 108h0m5 81h0m4 4h0m4 16h0m4-1h0m4 9h0m4-88h0m4 65h0m5-10h0m4 19h0m4-9h0m4-1h0m4 19h0m4-8h0m4-19h0m5 35h0m4-4h0m4-22h0m4 20h0m4-22h0m4 27h0m4-24h0m5-6h0m4 9h0m4-5h0m4 14h0m4 0h0m4-72h0m4 44h0m5-89h0m4 117h0m4-64h0m4 66h0m4 13h0m4-12h0m4-9h0m5 4h0m4 0h0m4-167h0m4 162h0m4-5h0m4 30h0m4-17h0m5-42h0m4-66h0m4 110h0m4-4h0m4 9h0m4 5h0m4-38h0m5 17h0m4-1h0m4 15h0m4-78h0m4 70h0m4 24h0m4-5h0m5-44h0m4 12h0m4 47h0m4-25h0m4 3h0m4-10h0m4-18h0m5 1h0m4-1h0m4-18h0m4 35h0m4-13h0m4-4h0m4 16h0m5-44h0m4 51h0m4 5h0m4 8h0m4-3h0m4-21h0m4-4h0m5-36h0m4-23h0m4 57h0m4 28h0m4-30h0m4 25h0m4-5h0m5 6h0m4 11h0m4-35h0m4 8h0m4-13h0m4 39h0m4-2h0m5-25h0m4-9h0m4-31h0m4 39h0m4 10h0m4-4h0m4 10h0m5-86h0m4 91h0m4-12h0m4-35h0m4 34h0m4-5h0m4-4h0m5 6h0m4 8h0m4-9h0m4-51h0m4-12h0m4 54h0m4 24h0m5-4h0m4-29h0m4 10h0m4 6h0m4-4h0m4-12h0m4 34h0m5-37h0m4-58h0m4 52h0m4 35h0m4-60h0m4 57h0m4-21h0m5-6h0m4 22h0m4-9h0m4 17h0m4 3h0m4-9h0m4-7h0m5 19h0m4 26h0m4-43h0m4 14h0m4-83h0m4 42h0m4 11h0m5 15h0m4 30h0m4-23h0m4-7h0m4-21h0m4 34h0m4-10h0m5 7h0m4-18h0m4 15h0m4 15h0m4 16h0m4-17h0m4-6h0" stroke="#009e73" stroke-width="14.0" stroke-linecap="round" fill="none"/>
<path transform="scale(.1)" d="M2727 1077h0m34 70h0m16-80h0m518 80h0m17-10h0m261 107h0" stroke="#009e73" stroke-width="14.0" stroke-linecap="round" fill="none"/>
</g>
<g>
<rect x="12.80" y="189.00" width="102.70" height="78.85" fill="none" stroke="#8a8a8a" stroke-width="0.35"/>
<text transform="translate(12.80 272.05) scale(.1)" text-anchor="middle">0</text>
<text transform="translate(23.07 272.05) scale(.1)" text-anchor="middle">100</text>
<text transform="translate(33.34 272.05) scale(.1)" text-anchor="middle">200</text>
<text transform="translate(43.61 272.05) scale(.1)" text-anchor="middle">300</text>
<text transform="translate(53.88 272.05) scale(.1)" text-anchor="middle">400</text>
<text transform="translate(64.15 272.05) scale(.1)" text-anchor="middle">500</text>
<text transform="translate(74.42 272.05) scale(.1)" text-anchor="middle">600</text>
<text transform="translate(84.69 272.05) scale(.1)" text-anchor="middle">700</text>
<text transform="translate(94.96 272.05) scale(.1)" text-anchor="middle">800</text>
<text transform="translate(105.23 272.05) scale(.1)" text-anchor="middle">900</text>
<text transform="translate(115.50 272.05) scale(.1)" text-anchor="middle">1000</text>
<text transform="translate(9.90 268.90) scale(.1)" text-anchor="end">0</text>
<text transform="translate(9.90 255.76) scale(.1)" text-anchor="end">0.005</text>
<text transform="translate(9.90 242.62) scale(.1)" text-anchor="end">0.01</text>
<text transform="translate(9.90 229.48) scale(.1)" text-anchor="end">0.015</text>
<text transform="translate(9.90 216.33) scale(.1)" text-anchor="end">0.02</text>
<text transform="translate(9.90 203.19) scale(.1)" text-anchor="end">0.025</text>
<text transform="translate(9.90 190.05) scale(.1)" text-anchor="end">0.03</text>
<path d="M23.07 267.85v-1M23.07 189.00v1M33.34 267.85v-1M33.34 189.00v1M43.61 267.85v-1M43.61 189.00v1M53.88 267.85v-1M53.88 189.00v1M64.15 267.85v-1M64.15 189.00v1M74.42 267.85v-1M74.42 189.00v1M84.69 267.85v-1M84.69 189.00v1M94.96 267.85v-1M94.96 189.00v1M105.23 267.85v-1M105.23 189.00v1M12.80 254.71h1M115.50 254.71h-1M12.80 241.57h1M115.50 241.57h-1M12.80 228.43h1M115.50 228.43h-1M12.80 215.28h1M115.50 215.28h-1M12.80 202.14h1M115.50 202.14h-1" stroke="#8a8a8a" stroke-width="0.3" fill="none"/>
<polygon points="13.4,267.1 115,262.4 115,265.6 13.4,267.9" fill="#9400d3" stroke="none"/>
<path transform="scale(.1)" d="M144 2670h0m0 3h0m30-3h0m2-2h0m30 1h0m17 4h0m1-3h0m19-3h0m1 2h0m3-3h0m0 4h0m9-2h0m1-1h0m16-1h0m28-2h0m2 0h0m6 0h0m11 2h0m19-2h0m13-3h0m13 2h0m6-1h0m3 4h0m5-1h0m12-1h0m1-6h0m19 2h0m3-7h0m8 6h0m21-3h0m2 3h0m9-3h0m6 0h0m6 5h0m11-5h0m6-2h0m9 5h0m17-7h0m9 1h0m7 4h0m3 0h0m2 3h0m7-12h0m3 11h0m3-5h0m21 0h0m1-1h0m3 0h0m3 3h0m4-3h0m3-3h0m4-3h0m2 13h0m4-11h0m24 4h0m6-5h0m3 3h0m5 0h0m5 0h0m1-4h0m4 7h0m21-5h0m12 1h0m3-2h0m3 0h0m13-4h0m7 2h0m7 2h0m11-3h0m13 2h0m1-1h0m11-2h0m1 4h0m1-2h0m11-1h0m21 4h0m2 1h0m8-6h0m16-1h0m15-2h0m4 3h0m3-2h0m4 1h0m12 0h0m11-4h0m3 1h0m8 2h0m6-5h0m0 3h0m5 1h0m1-3h0m2 2h0m25 0h0m6-3h0m9 2h0m15-2h0m4-1h0m13-2h0m17-1h0m14 4h0m8-1h0m1 1h0m9-6h0m32 1h0m10 1h0m12 4h0m4-5h0m8-2h0m5 1h0m6 1h0m3-2h0m24 0h0m5 1h0m0 1h0m6-3h0m13-1h0m2-1h0m3 4h0m14-1h0m3-4h0" stroke="#9400d3" stroke-width="14.0" stroke-linecap="round" fill="none"/>
<path transform="scale(.1)" d="M135 2678h0m4 1h0m0 2h0m6-5h0m1 2h0m20-2h0m10 0h0m30 4h0m62-4h0m30 0h0m3 1h0m14-5h0m0 2h0m0 3h0m2-3h0m18-1h0m3-1h0m10 1h0m27 1h0m11-3h0m7 3h0m33-3h0m5-2h0m3 2h0m6 1h0m25-1h0m20 0h0m14 0h0m24-3h0m4 4h0m14-5h0m20 3h0m2-3h0m4 3h0m14 0h0m18-4h0m8 3h0m3-3h0m5 0h0m3 0h0m2 1h0m5 2h0m27-2h0m30-3h0m15 0h0m7 1h0m5 0h0m15-1h0m6-1h0m32 2h0m10-2h0m12-1h0m6 3h0m8-6h0m3 5h0m16-3h0m4-1h0m42 2h0m5-3h0m11 1h0m22-2h0m6 4h0m8-3h0m3-1h0m1 4h0m40-5h0m9 0h0m3-1h0m7 0h0m13 2h0m17 0h0m10 2h0m16-3h0m7 0h0m13-2h0m2 4h0m11-3h0m27 0h0m16-4h0m7 0h0" stroke="#9400d3" stroke-width="14.0" stroke-linecap="round" fill="none"/>
<path transform="scale(.1)" d="M752 2643h0m4 0h0m2-1h0m4 3h0m4-4h0m5 1h0m3 4h0m5 1h0m3-4h0m9-2h0m2-1h0m15 2h0m1-1h0m13 1h0m5-4h0m1 3h0m1-4h0m1 4h0m1-2h0m2 3h0m14-6h0m2 1h0m4 5h0m5-3h0m4 3h0m8 1h0m1-7h0m3 7h0m3-4h0m3 8h0m2-10h0m2 0h0m1 6h0m9-3h0m2-1h0m2-1h0m0 1h0m2 1h0m1 7h0" stroke="#9400d3" stroke-width="14.0" stroke-linecap="round" fill="none"/>
<path transform="scale(.1)" d="M167 2639h0m144-7h0m63 7h0m34-7h0m20-267h0m50-24h0m324-137h0m77-46h0m157-61h0m40-6h0m20-10h0" stroke="#9400d3" stroke-width="14.0" stroke-linecap="round" fill="none"/>
<polygon points="13.4,265.6 115,259 115,261.4 13.4,266.6" fill="#009e73" stroke="none"/>
<path transform="scale(.1)" d="M139 2650h0m8 3h0m5 2h0m7-5h0m1 4h0m31-3h0m7 2h0m3 1h0m12-4h0m6 0h0m5 2h0m1-2h0m3-4h0m9 3h0m5 0h0m18 2h0m1-10h0m0 3h0m0 3h0m3-1h0m9-2h0m0 10h0m12-5h0m7-4h0m5 0h0m5 1h0m4 0h0m13 0h0m13-2h0m2-4h0m0 3h0m2 0h0m13 1h0m2-2h0m1-1h0m4-1h0m9 3h0m12-4h0m0 1h0m10-3h0m3 0h0m6-1h0m6 1h0m2 3h0m5 0h0m1-4h0m0 3h0m2-4h0m5 4h0m14 0h0m8-4h0m2 1h0m1 0h0m6-1h0m4-6h0m10 5h0m1 1h0m3-4h0m1 2h0m1 2h0m3 2h0m12-2h0m6-2h0m3-2h0m1 1h0m30-2h0m3 1h0m5-5h0m0 4h0m11 1h0m3-1h0m2-4h0m4 2h0m0 6h0m1-8h0m9 3h0m18-1h0m8-2h0m17-2h0m6-1h0m13 3h0m10-6h0m19 1h0m20 2h0m4-4h0m1 0h0m5 5h0m3-4h0m14-1h0m1 0h0m2 1h0m30-4h0m4 1h0m1-3h0m4 0h0m6 2h0m1-2h0m0 6h0m6-5h0m3 1h0m5 0h0m2 2h0m3-2h0m24 2h0m11-4h0m3-3h0m14 1h0m7-1h0m7 3h0m9-6h0m4 7h0m26-4h0m18-5h0m6-3h0m15 0h0m2 9h0m4-7h0m6-2h0m9 6h0m3-3h0m4 2h0m18-7h0m3 0h0m16 3h0m1-1h0m1 0h0m1-2h0m8 2h0m2-1h0m7-4h0m13 3h0m5-8h0m0 4h0m11 0h0m4-2h0m15 3h0m13 1h0m4-4h0m2 0h0m18 4h0m5-5h0m2 2h0m3-2h0m6 2h0m4-3h0m4-2h0m12-3h0m2-1h0m0 8h0m7 0h0m3-5h0m6 1h0m2 0h0m3 0h0m3 0h0m1-4h0" stroke="#009e73" stroke-width="14.0" stroke-linecap="round" fill="none"/>
<path transform="scale(.1)" d="M161 2667h0m5-5h0m5 0h0m1 2h0m9-1h0m13 0h0m6 1h0m9-2h0m1-1h0m8-2h0m12 3h0m17-1h0m8 1h0m26-5h0m2 0h0m3 1h0m2-1h0m4 4h0m9-6h0m15 2h0m2 2h0m2-1h0m12-2h0m3 0h0m4 1h0m8-2h0m4-1h0m7-1h0m22 0h0m4 1h0m1 2h0m8-4h0m3 0h0m16-1h0m18-3h0m19 3h0m18-3h0m15-1h0m1 2h0m11-3h0m3 2h0m3-4h0m0 2h0m1-1h0m7 2h0m22 0h0m13-3h0m21 0h0m3 1h0m3-5h0m8 3h0m22 2h0m8-2h0m3 0h0m3-1h0m8-1h0m14-1h0m3-1h0m7 4h0m35-4h0m1-2h0m0 2h0m5-1h0m0 2h0m6-3h0m1 1h0m14-3h0m10 2h0m4-2h0m6 3h0m20-4h0m3 2h0m35-2h0m7-4h0m6 2h0m4-1h0m8-3h0m1 3h0m5 0h0m10 0h0m12 1h0m8-3h0m8-1h0m0 3h0m50-8h0m4 6h0m22-6h0m41 2h0m1-3h0m0 3h0m22-6h0m6 2h0m15-2h0m10 1h0m30-2h0m36-2h0m10-2h0m10-1h0m21 4h0" stroke="#009e73" stroke-width="14.0" stroke-linecap="round" fill="none"/>
<path transform="scale(.1)" d="M216 2631h0m1-1h0m0 3h0m2-3h0m3-2h0m0 2h0m5 3h0m1-4h0m1 2h0m9 1h0m1-2h0m2 3h0m7-1h0m8-6h0m5 1h0m4 3h0" stroke="#009e73" stroke-width="14.0" stroke-linecap="round" fill="none"/>
<path transform="scale(.1)" d="M321 2622h0m6 2h0m2 0h0m0 4h0m5-4h0m2-5h0m2 5h0m2 1h0m3-2h0m2-1h0m3 3h0m16-5h0m0 2h0m0 3h0m5-5h0m11 3h0m2-1h0m0 1h0m5-6h0m3 6h0m1-2h0m8-3h0" stroke="#009e73" stroke-width="14.0" stroke-linecap="round" fill="none"/>
<path transform="scale(.1)" d="M418 2618h0m10-1h0m1 0h0m4 5h0m3-6h0m4 3h0m1-4h0m7-1h0m1 4h0" stroke="#009e73" stroke-width="14.0" stroke-linecap="round" fill="none"/>
<path transform="scale(.1)" d="M536 2610h0m0 2h0m3-4h0m1 5h0m4-2h0m2-2h0m6 1h0m1 0h0m4-4h0m2 1h0m0 1h0m1 1h0m6 0h0m4 1h0m14-3h0m1 1h0m4 0h0m4-2h0m3 1h0m0 1h0m12-5h0m0 1h0" stroke="#009e73" stroke-width="14.0" stroke-linecap="round" fill="none"/>
<path transform="scale(.1)" d="M637 2603h0m1-1h0m17 3h0m2 2h0m3-5h0m2 0h0m0 1h0m0 1h0m4 0h0m4-2h0m4 4h0m1-4h0m5 1h0" stroke="#009e73" stroke-width="14.0" stroke-linecap="round" fill="none"/>
<path transform="scale(.1)" d="M746 2598h0m1 1h0m2-2h0m3 3h0m1-3h0m3 0h0m2-1h0m9 1h0m7 0h0m8-6h0m1 1h0m3 2h0m2 1h0m0 2h0m1-4h0m3 0h0m1 2h0m3-2h0m3 0h0m2-1h0m5 2h0m0 1h0m5-3h0m0 3h0m4 0h0m2-6h0m2 1h0m5 4h0m2 1h0m10 1h0m2-8h0m4 3h0m8 2h0m1-3h0m1-3h0m0 6h0m10-3h0m4 0h0m1 0h0m2 1h0m2-2h0m1 0h0m2-3h0m2 1h0m0 5h0m19-3h0m3-4h0m1 2h0m0 2h0m1 0h0m6-2h0m16-3h0m4 5h0m7-9h0m0 4h0m1 0h0m2 4h0m3-6h0m5 3h0m7 1h0" stroke="#009e73" stroke-width="14.0" stroke-linecap="round" fill="none"/>
<path transform="scale(.1)" d="M1007 2576h0m15-1h0m0 2h0m1 0h0m2 0h0m3-2h0m1 5h0m2-4h0m6 4h0m2-1h0m2-2h0m4 1h0m1 3h0m4-1h0m4-4h0m6-1h0m0 4h0m3-3h0m2 0h0m7-4h0m1 1h0m2 0h0m2 4h0m1 0h0m2-2h0m4-2h0m18-1h0m4 0h0m0 3h0m1-2h0m1-1h0m2-3h0m0 6h0m1-1h0m16-3h0m4 2h0m1-4h0m3 1h0m1 2h0m4-7h0m0 6h0" stroke="#009e73" stroke-width="14.0" stroke-linecap="round" fill="none"/>
<path transform="scale(.1)" d="M140 2632h0m27-224h0m117 7h0m77-34h0m157-90h0m50-87h0m77-13h0m97-50h0m33 7h0m51-11h0m237-90h0m73-43h0" stroke="#009e73" stroke-width="14.0" stroke-linecap="round" fill="none"/>
</g>
<g>
<rect x="141.40" y="189.00" width="100.75" height="78.85" fill="none" stroke="#8a8a8a" stroke-width="0.35"/>
<text transform="translate(141.40 272.05) scale(.1)" text-anchor="middle">0</text>
<text transform="translate(151.47 272.05) scale(.1)" text-anchor="middle">100</text>
<text transform="translate(161.55 272.05) scale(.1)" text-anchor="middle">200</text>
<text transform="translate(171.62 272.05) scale(.1)" text-anchor="middle">300</text>
<text transform="translate(181.70 272.05) scale(.1)" text-anchor="middle">400</text>
<text transform="translate(191.78 272.05) scale(.1)" text-anchor="middle">500</text>
<text transform="translate(201.85 272.05) scale(.1)" text-anchor="middle">600</text>
<text transform="translate(211.93 272.05) scale(.1)" text-anchor="middle">700</text>
<text transform="translate(222.00 272.05) scale(.1)" text-anchor="middle">800</text>
<text transform="translate(232.07 272.05) scale(.1)" text-anchor="middle">900</text>
<text transform="translate(242.15 272.05) scale(.1)" text-anchor="middle">1000</text>
<text transform="translate(138.50 268.90) scale(.1)" text-anchor="end">0</text>
<text transform="translate(138.50 257.64) scale(.1)" text-anchor="end">0.0001</text>
<text transform="translate(138.50 246.37) scale(.1)" text-anchor="end">0.0002</text>
<text transform="translate(138.50 235.11) scale(.1)" text-anchor="end">0.0003</text>
<text transform="translate(138.50 223.84) scale(.1)" text-anchor="end">0.0004</text>
<text transform="translate(138.50 212.58) scale(.1)" text-anchor="end">0.0005</text>
<text transform="translate(138.50 201.31) scale(.1)" text-anchor="end">0.0006</text>
<text transform="translate(138.50 190.05) scale(.1)" text-anchor="end">0.0007</text>
<path d="M151.47 267.85v-1M151.47 189.00v1M161.55 267.85v-1M161.55 189.00v1M171.62 267.85v-1M171.62 189.00v1M181.70 267.85v-1M181.70 189.00v1M191.78 267.85v-1M191.78 189.00v1M201.85 267.85v-1M201.85 189.00v1M211.93 267.85v-1M211.93 189.00v1M222.00 267.85v-1M222.00 189.00v1M232.07 267.85v-1M232.07 189.00v1M141.40 256.59h1M242.15 256.59h-1M141.40 245.32h1M242.15 245.32h-1M141.40 234.06h1M242.15 234.06h-1M141.40 222.79h1M242.15 222.79h-1M141.40 211.53h1M242.15 211.53h-1M141.40 200.26h1M242.15 200.26h-1" stroke="#8a8a8a" stroke-width="0.3" fill="none"/>
<polygon points="142,256.9 148.3,254.5 159.4,248.5 170.6,241.1 185.5,230.8 185.5,231.6 170.6,241.9 159.4,249.2 148.3,255.2 142,257.7" fill="#9400d3" stroke="none"/>
<path transform="scale(.1)" d="M1422 2568h0m7-6h0m4 4h0m2-7h0m0 3h0m1-1h0m4 1h0m1 0h0m0 1h0m1-3h0m0 2h0m5-2h0m1-3h0m2 0h0m1-1h0m3 0h0m1-2h0m1 3h0m2-3h0m13-7h0m0 2h0m1-3h0m2 3h0m1-3h0m1 2h0m1-5h0m2 4h0m0 1h0m8-5h0m11-6h0m1-3h0m1 0h0m2-3h0m2 0h0m1 3h0m1 0h0m11-8h0m5-3h0m2-1h0m5-2h0m1-2h0m1 2h0m4-9h0m2 3h0m0 3h0m3-6h0m3-1h0m2 2h0m1-3h0m0 2h0m2-3h0m0 3h0m5-4h0m1-2h0m1 2h0m3-3h0m1 1h0m2-1h0m1-2h0m4-2h0m6-6h0m0 3h0m2-3h0m11-6h0m2 2h0m6-4h0m5-8h0m0 4h0m6-3h0m3-2h0m7-10h0m0 4h0m4-1h0m5-7h0m6-6h0m16-7h0m7-4h0m3-6h0m2 4h0m1-1h0m6-5h0m1-4h0m1-2h0m2 4h0m6-6h0m6-4h0m0 3h0m5-8h0m0 4h0m14-9h0m2-2h0m1 0h0m1-2h0m2-1h0m13-10h0m3-5h0m0 6h0m33-25h0m0 1h0m2-1h0m5-5h0m1 0h0m2-2h0m5-4h0m3 0h0m4-6h0m1 0h0m1 1h0m1 0h0m3-2h0m6-8h0m0 5h0m3-2h0m2-7h0m9-3h0m3-1h0m3-5h0m8-5h0m3 0h0m4-4h0m1 1h0m2-4h0m4 0h0m4-9h0m0 4h0m3 1h0m6-10h0" stroke="#9400d3" stroke-width="14.0" stroke-linecap="round" fill="none"/>
<path transform="scale(.1)" d="M1430 2572h0m2-1h0m3-2h0m7-2h0m3-1h0m0 1h0m13-5h0m3-2h0m10-4h0m2-1h0m2-1h0m6-2h0m12-7h0m1 0h0m7-3h0m4-3h0m5-2h0m1-1h0m11-6h0m1 0h0m5-4h0m3-1h0m6-2h0m2-3h0m1 2h0m1-2h0m7-4h0m1 0h0m4-3h0m19-11h0m3 0h0m2-1h0m5-2h0m4-4h0m10-4h0m1-1h0m14-9h0m2-2h0m9-7h0m25-16h0m21-13h0m6-4h0m14-9h0m5-4h0m14-8h0m4-4h0m3-2h0m5-3h0m10-8h0m12-8h0m2 1h0m12-10h0m2-1h0m1-1h0m4-1h0m10-9h0m3-1h0m9-8h0m3-1h0m2-2h0m5-3h0m5-2h0m4-4h0m28-19h0" stroke="#9400d3" stroke-width="14.0" stroke-linecap="round" fill="none"/>
<path transform="scale(.1)" d="M1422 2564h0m29-9h0m30-19h0m15-14h0m1 10h0m24-14h0m29-14h0m42-24h0m10-20h0m10 3h0m3-1h0m63-34h0m10-27h0m14-11h0m33-6h0m1 2h0m6-15h0m3 0h0m1 3h0m11-3h0m38-35h0m20-5h0m4-18h0m6 0h0m1 11h0" stroke="#9400d3" stroke-width="14.0" stroke-linecap="round" fill="none"/>
<polygon points="186.3,235 241.5,205.9 241.5,207.1 186.3,236.2" fill="#9400d3" stroke="none"/>
<path transform="scale(.1)" d="M1865 2344h0m0 2h0m3-1h0m4-1h0m1 0h0m2 1h0m6-5h0m6-7h0m9-1h0m0 2h0m5-2h0m1-2h0m1-2h0m0 1h0m0 1h0m4-3h0m7-5h0m4-6h0m5 4h0m2-2h0m2 0h0m5-6h0m4 0h0m2-5h0m10-9h0m3 3h0m0 1h0m0 2h0m5-7h0m0 5h0m1 0h0m1 0h0m7-7h0m6 0h0m1-5h0m7-5h0m5 2h0m1-4h0m3-3h0m0 3h0m1-1h0m4 1h0m4-5h0m0 3h0m1-6h0m10 0h0m2-6h0m1 3h0m0 1h0m3-1h0m1 0h0m5-8h0m2 3h0m3-9h0m2 4h0m2 1h0m1-3h0m3-4h0m0 3h0m3-1h0m5-2h0m6-2h0m1-3h0m3-4h0m0 3h0m1-6h0m2 6h0m4-3h0m1 1h0m8-7h0m1 0h0m1 0h0m3-3h0m0 4h0m7-6h0m4-1h0m5-3h0m1 0h0m5-7h0m1 0h0m0 3h0m3-3h0m3-1h0m1 0h0m1 1h0m1-4h0m3 1h0m1-1h0m3-7h0m2 5h0m2-2h0m1 1h0m11-8h0m1 2h0m5-6h0m1-2h0m3 1h0m13-10h0m13-8h0m0 4h0m1-1h0m1 2h0m4-5h0m5-1h0m5-5h0m2 0h0m4 0h0m10-12h0m5-1h0m2 3h0m4-2h0m0 1h0m1-1h0m3-3h0m3-2h0m1 3h0m1-12h0m2 10h0m7-4h0m5-4h0m1 0h0m1-2h0m2-4h0m1 4h0m0 1h0m1-4h0m1 2h0m3-3h0m8-3h0m1-1h0m1-3h0m3 2h0m3-3h0m6-3h0m1-1h0m1 2h0m4-3h0m2-1h0m2-1h0m8-6h0m3-1h0m4-3h0m1 0h0m0 1h0m1-5h0m2 4h0m1 0h0m2-2h0m1 0h0m2 0h0m12-10h0m2-2h0m2 3h0m6-4h0m7-6h0m0 1h0m0 2h0m4-4h0m3 0h0m5-6h0m0 4h0m10-8h0m9-5h0m1-1h0m1 2h0m2-2h0m1 1h0m4-8h0m0 5h0m2-3h0m1-3h0m0 3h0m2 1h0m4-4h0m2-6h0m0 6h0m4-3h0m2 0h0m1-7h0m3 0h0m2 5h0m2-3h0m7-3h0m0 1h0m3-4h0m0 1h0m1 1h0m1-2h0m2-5h0m1 3h0m7-3h0m2 0h0m1-1h0" stroke="#9400d3" stroke-width="14.0" stroke-linecap="round" fill="none"/>
<path transform="scale(.1)" d="M1868 2360h0m4-4h0m5-3h0m7-3h0m5-3h0m1 0h0m7-5h0m0 2h0m1-2h0m1 0h0m3-2h0m1 0h0m1-1h0m0 1h0m8-5h0m4-2h0m4 0h0m9-7h0m7-3h0m20-11h0m1-1h0m17-9h0m1 2h0m6-6h0m5-2h0m1-1h0m3-1h0m1-1h0m3-1h0m5-4h0m18-8h0m10-6h0m6-3h0m7 1h0m3-5h0m6-3h0m11-7h0m1 0h0m9-5h0m24-12h0m11-7h0m28-13h0m18-11h0m4-1h0m30-17h0m3-1h0m3-3h0m3-1h0m0 2h0m9-7h0m2 1h0m1-2h0m4-2h0m3-2h0m1 0h0m7-4h0m7-3h0m12-6h0m3-2h0m8-2h0m5-5h0m1 2h0m4-5h0m4-2h0m1 0h0m1-1h0m10-4h0m3-2h0m1-1h0m5-1h0m16-10h0m2-1h0m3-2h0m4-1h0m5-3h0m8-5h0m4-1h0m1-1h0m1-1h0m1 0h0m4-3h0m13-6h0m10-6h0m4-2h0m3 2h0m6-7h0m2-1h0m3-1h0m3-3h0m10-3h0m4-2h0m2-2h0m9-3h0m1-1h0m1-3h0m3 1h0m6-4h0" stroke="#9400d3" stroke-width="14.0" stroke-linecap="round" fill="none"/>
<path transform="scale(.1)" d="M1888 2279h0m0 57h0m12-31h0m12-4h0m5-16h0m1 20h0m9-4h0m11-7h0m3 12h0m2-10h0m0 8h0m1 1h0m3-1h0m1-1h0m6-7h0m14-9h0m9 1h0m21-9h0m15-31h0m25-2h0m10 1h0m2-2h0m6-4h0m19-10h0m4 5h0m15-8h0m17-35h0m10 19h0m27-53h0m4-21h0m19 33h0m0 6h0m6 6h0m25-40h0m10 20h0m10-26h0m16-12h0m11 6h0m2-21h0m25 23h0m6-22h0m15 9h0m3-9h0m0 4h0m1-1h0m6 1h0m13-10h0m12-28h0m0 18h0m9-38h0m4 39h0m4-26h0m11 10h0m2-26h0m21-9h0m1 25h0m5 3h0m3-2h0m14-8h0m6-7h0" stroke="#9400d3" stroke-width="14.0" stroke-linecap="round" fill="none"/>
<path transform="scale(.1)" d="M1494 2465h0m495-234h0m33 10h0m291-277h0m103-74h0" stroke="#9400d3" stroke-width="14.0" stroke-linecap="round" fill="none"/>
<polygon points="142,257.7 148.3,256.2 159.4,252.2 170.6,247.3 185.5,240.5 185.5,241.3 170.6,248.1 159.4,253 148.3,257 142,258.5" fill="#009e73" stroke="none"/>
<path transform="scale(.1)" d="M1421 2578h0m3-1h0m1-1h0m2 0h0m1-1h0m4-2h0m9 0h0m5-1h0m11-2h0m7-3h0m2 0h0m2 0h0m1 0h0m1 0h0m1-3h0m1 0h0m0 1h0m4-1h0m5-3h0m1 0h0m6 0h0m1 1h0m3-2h0m1-4h0m2 4h0m6-2h0m1-1h0m1-4h0m6 0h0m2-2h0m2-4h0m2 3h0m5-1h0m5-5h0m0 3h0m0 1h0m3-2h0m0 2h0m3-5h0m0 3h0m5-3h0m5-5h0m2 3h0m2 0h0m1-6h0m0 2h0m2-2h0m6-3h0m0 4h0m3-3h0m0 4h0m3-4h0m0 2h0m12-4h0m1 0h0m1-2h0m7-2h0m1-1h0m1-1h0m0 2h0m3-1h0m10-4h0m1-3h0m2 0h0m0 2h0m1 0h0m1-6h0m5 2h0m3-6h0m9-1h0m1 2h0m5-3h0m5-4h0m4-2h0m6 0h0m14-9h0m0 3h0m3-2h0m2-3h0m7-2h0m1-2h0m2 2h0m6-6h0m2 4h0m2-5h0m5-3h0m4 1h0m1 0h0m3-6h0m1 5h0m8-4h0m2-4h0m6 0h0m6-2h0m19-9h0m5-3h0m2 1h0m4-2h0m1 0h0m1-1h0m12-7h0m5-1h0m1-2h0m5-2h0m5-2h0m2-3h0m2 1h0m3 0h0m11-11h0m0 6h0m6-8h0m16-6h0m0 3h0m1 1h0m4-2h0m1-5h0m9 0h0m0 1h0m3-3h0m6-1h0m3-3h0m7-5h0m3-1h0" stroke="#009e73" stroke-width="14.0" stroke-linecap="round" fill="none"/>
<path transform="scale(.1)" d="M1423 2583h0m3-1h0m19-4h0m5-2h0m3 1h0m2-1h0m3-1h0m7-2h0m7-1h0m6-2h0m3-1h0m5 1h0m4-2h0m6-4h0m2 1h0m3-3h0m20-7h0m1 1h0m9-4h0m25-10h0m2 2h0m8-3h0m8-5h0m5-1h0m8-3h0m8-4h0m18-6h0m6-4h0m6-2h0m1 0h0m6-3h0m11-4h0m1-2h0m0 1h0m11-5h0m13-6h0m1-2h0m6-1h0m1-2h0m9-4h0m8-3h0m0 1h0m2-1h0m13-7h0m3-1h0m2-1h0m1 0h0m4-1h0m1-2h0m11-3h0m3-3h0m5-2h0m1 1h0m8-5h0m3-1h0m2-1h0m1 1h0m1-2h0m12-5h0m19-9h0m2 0h0m52-24h0m2-2h0m5-2h0m6-3h0" stroke="#009e73" stroke-width="14.0" stroke-linecap="round" fill="none"/>
<path transform="scale(.1)" d="M1443 2566h0m7 3h0m19-15h0m4 7h0m100-35h0m2-2h0m13-3h0m1-3h0m1 2h0m7-5h0m11-3h0m16-6h0m7 0h0m9-6h0m72-39h0m15-3h0m40-18h0m28-14h0m13-9h0m46-12h0" stroke="#009e73" stroke-width="14.0" stroke-linecap="round" fill="none"/>
<polygon points="186.3,242.9 241.5,222.6 241.5,223.8 186.3,244" fill="#009e73" stroke="none"/>
<path transform="scale(.1)" d="M1866 2427h0m5-3h0m2-4h0m0 6h0m11-6h0m7-2h0m0 1h0m2-3h0m6-1h0m3 0h0m5-1h0m11-4h0m1-2h0m2 0h0m2-8h0m0 3h0m2-1h0m6 2h0m2-3h0m2 3h0m6-2h0m3-7h0m0 2h0m6 1h0m4-4h0m0 3h0m3-4h0m3-2h0m3 1h0m1-4h0m8-2h0m3-1h0m3 2h0m2-3h0m1-3h0m1-1h0m0 6h0m1-1h0m4-5h0m0 4h0m1-3h0m3 2h0m6-3h0m1 0h0m1-3h0m0 1h0m4-4h0m2 2h0m3 0h0m6-2h0m1-2h0m3 0h0m3-2h0m5 0h0m2-1h0m1-4h0m2 1h0m1-3h0m4 3h0m5-2h0m7-2h0m8-7h0m2 4h0m1-1h0m1-4h0m1 2h0m1-2h0m16-3h0m3-7h0m1 3h0m4 1h0m7-3h0m2-1h0m0 1h0m4-3h0m5-1h0m2-3h0m0 2h0m2-5h0m0 5h0m2 0h0m11-7h0m3 2h0m5-7h0m0 3h0m1-2h0m2-4h0m1 3h0m8 0h0m1-1h0m2-2h0m1-1h0m1 1h0m1 0h0m2-7h0m4 1h0m1 4h0m3-6h0m1-4h0m1 6h0m9-1h0m3-2h0m3-1h0m1-2h0m1-3h0m0 5h0m1-2h0m1-1h0m1-1h0m5-1h0m4-5h0m3-1h0m3 1h0m5-2h0m0 1h0m1-1h0m10-1h0m2-6h0m4 5h0m2-7h0m5 0h0m1-5h0m1 2h0m0 1h0m1 3h0m1-1h0m2-2h0m4 2h0m3-4h0m0 3h0m1 0h0m2-4h0m4 1h0m5-6h0m2 0h0m4 2h0m5-5h0m0 3h0m1-1h0m7-6h0m0 4h0m1 1h0m9-4h0m1-2h0m0 1h0m1 0h0m3-3h0m1-3h0m0 3h0m0 2h0m1-1h0m3-3h0m2-2h0m1-1h0m0 4h0m8-8h0m0 2h0m4-4h0m0 6h0m2-10h0m15 4h0m4-3h0m0 1h0m2-1h0m3-1h0m1-1h0m1 1h0m2-1h0m6-4h0m1-1h0m0 3h0m1-5h0m6 3h0m6-3h0m5-4h0m2-1h0m2-8h0m2 9h0m2-1h0m2-4h0m2 1h0m1 1h0m2-1h0m2-5h0m0 1h0m1 1h0m2-1h0m2 2h0m4-5h0m3-1h0m0 1h0m1-1h0m4 0h0m3-1h0m7-5h0m4 0h0m3 1h0m3-4h0" stroke="#009e73" stroke-width="14.0" stroke-linecap="round" fill="none"/>
<path transform="scale(.1)" d="M1865 2439h0m7-3h0m2 0h0m5-2h0m2 1h0m4-4h0m1 0h0m2-1h0m25-9h0m19-7h0m6-1h0m7-4h0m11-3h0m7-4h0m0 1h0m15-5h0m6-1h0m9-5h0m1 0h0m1-2h0m0 1h0m0 3h0m5-5h0m0 1h0m13-6h0m8-2h0m1 0h0m10-4h0m2 0h0m2-1h0m10-4h0m1 0h0m13-5h0m1-2h0m5 1h0m5-3h0m17-7h0m1-1h0m13-4h0m3-1h0m7-2h0m2 0h0m10-4h0m7-3h0m6-2h0m9-2h0m6-4h0m1 1h0m17-7h0m4-3h0m1 2h0m1-3h0m1 0h0m13-4h0m3-1h0m1-1h0m9-4h0m0 1h0m11-4h0m3 1h0m5-5h0m0 2h0m3-2h0m3 0h0m1-2h0m7-3h0m5 0h0m2 0h0m4-3h0m1 1h0m1-2h0m10 0h0m4-4h0m1-1h0m19-7h0m4-2h0m17-5h0m3-3h0m5-1h0m6-1h0m3-2h0m5 0h0m9-6h0m5-1h0m28-11h0m0 2h0m10-5h0m3-2h0m7-1h0m1-2h0m0 1h0m11-4h0m7-3h0m0 2h0m2-3h0" stroke="#009e73" stroke-width="14.0" stroke-linecap="round" fill="none"/>
<path transform="scale(.1)" d="M1869 2415h0m17 4h0m25-10h0m4-20h0m58-8h0m5-10h0m31 2h0m2-13h0m0 12h0m10-23h0m0 18h0m29-16h0m8 2h0m13-67h0m0 36h0m27 15h0m7-16h0m37-1h0m10-18h0m3-29h0m0 48h0m13-13h0m2 2h0m1-5h0m4 5h0m1-8h0m1 0h0m13-13h0m16-6h0m8 4h0m2-10h0m5-1h0m3-18h0m9 20h0m0 1h0m7 0h0m2-11h0m8 9h0m22-1h0m6 0h0m55-34h0m0 4h0m6-3h0m18-13h0m10-30h0m4 42h0m10-21h0m4 16h0m13-71h0m1 24h0" stroke="#009e73" stroke-width="14.0" stroke-linecap="round" fill="none"/>
<path transform="scale(.1)" d="M1979 2224h0m150-43h0" stroke="#009e73" stroke-width="14.0" stroke-linecap="round" fill="none"/>
</g>
<g>
<rect x="268.60" y="189.00" width="100.20" height="78.85" fill="none" stroke="#8a8a8a" stroke-width="0.35"/>
<text transform="translate(268.60 272.05) scale(.1)" text-anchor="middle">0</text>
<text transform="translate(278.62 272.05) scale(.1)" text-anchor="middle">100</text>
<text transform="translate(288.64 272.05) scale(.1)" text-anchor="middle">200</text>
<text transform="translate(298.66 272.05) scale(.1)" text-anchor="middle">300</text>
<text transform="translate(308.68 272.05) scale(.1)" text-anchor="middle">400</text>
<text transform="translate(318.70 272.05) scale(.1)" text-anchor="middle">500</text>
<text transform="translate(328.72 272.05) scale(.1)" text-anchor="middle">600</text>
<text transform="translate(338.74 272.05) scale(.1)" text-anchor="middle">700</text>
<text transform="translate(348.76 272.05) scale(.1)" text-anchor="middle">800</text>
<text transform="translate(358.78 272.05) scale(.1)" text-anchor="middle">900</text>
<text transform="translate(368.80 272.05) scale(.1)" text-anchor="middle">1000</text>
<text transform="translate(265.70 268.90) scale(.1)" text-anchor="end">0.00002</text>
<text transform="translate(265.70 260.14) scale(.1)" text-anchor="end">0.00003</text>
<text transform="translate(265.70 251.38) scale(.1)" text-anchor="end">0.00004</text>
<text transform="translate(265.70 242.62) scale(.1)" text-anchor="end">0.00005</text>
<text transform="translate(265.70 233.86) scale(.1)" text-anchor="end">0.00006</text>
<text transform="translate(265.70 225.09) scale(.1)" text-anchor="end">0.00007</text>
<text transform="translate(265.70 216.33) scale(.1)" text-anchor="end">0.00008</text>
<text transform="translate(265.70 207.57) scale(.1)" text-anchor="end">0.00009</text>
<text transform="translate(265.70 198.81) scale(.1)" text-anchor="end">0.0001</text>
<text transform="translate(265.70 190.05) scale(.1)" text-anchor="end">0.00011</text>
<path d="M278.62 267.85v-1M278.62 189.00v1M288.64 267.85v-1M288.64 189.00v1M298.66 267.85v-1M298.66 189.00v1M308.68 267.85v-1M308.68 189.00v1M318.70 267.85v-1M318.70 189.00v1M328.72 267.85v-1M328.72 189.00v1M338.74 267.85v-1M338.74 189.00v1M348.76 267.85v-1M348.76 189.00v1M358.78 267.85v-1M358.78 189.00v1M268.60 259.09h1M368.80 259.09h-1M268.60 250.33h1M368.80 250.33h-1M268.60 241.57h1M368.80 241.57h-1M268.60 232.81h1M368.80 232.81h-1M268.60 224.04h1M368.80 224.04h-1M268.60 215.28h1M368.80 215.28h-1M268.60 206.52h1M368.80 206.52h-1M268.60 197.76h1M368.80 197.76h-1" stroke="#8a8a8a" stroke-width="0.3" fill="none"/>
<polygon points="268.4,266.6 273.3,264 284.4,258.5 295.6,253.5 306.7,247.8 317.8,242.5 334.6,234.8 351.3,225.1 361.3,216.4 368.6,208.4 368.6,209.5 361.3,217.6 351.3,226.2 334.6,235.9 317.8,243.6 306.7,249 295.6,254.7 284.4,259.7 273.3,265.1 268.4,267.7" fill="#9400d3" stroke="none"/>
<path transform="scale(.1)" d="M2689 2659h0m5 0h0m1 0h0m4-14h0m1 5h0m1 7h0m1-5h0m3-21h0m3 8h0m6-9h0m0 15h0m1 3h0m1-4h0m1-5h0m3 8h0m4-9h0m1-7h0m4 8h0m0 1h0m1-8h0m2-11h0m0 8h0m0 3h0m3-2h0m1 7h0m1-15h0m2 8h0m6-3h0m5 4h0m1-3h0m13-8h0m1-6h0m3 10h0m4-13h0m3 5h0m0 1h0m1 0h0m5-6h0m1-10h0m1 15h0m0 1h0m1-4h0m0 3h0m3-4h0m1-6h0m5 3h0m3-11h0m0 12h0m1-13h0m1 5h0m3-2h0m0 1h0m0 4h0m5-13h0m0 5h0m2-9h0m0 15h0m4-27h0m2 21h0m9-6h0m6-11h0m2 2h0m1-11h0m0 12h0m1 8h0m5-15h0m0 7h0m6 4h0m1-10h0m1-13h0m0 20h0m3-3h0m1 1h0m2-18h0m0 18h0m1-6h0m2 6h0m1-9h0m6-5h0m2-9h0m0 9h0m2 8h0m4-11h0m2 4h0m2 2h0m1-5h0m4-3h0m1-8h0m0 8h0m0 2h0m6-13h0m1 5h0m2-8h0m1 3h0m0 13h0m2-4h0m1-14h0m3 2h0m5-4h0m0 14h0m2-20h0m0 16h0m1-1h0m1-9h0m0 14h0m2-6h0m1-3h0m0 6h0m2-27h0m7 23h0m8-2h0m7-20h0m1 5h0m1 0h0m2 4h0m2-1h0m3-24h0m2 3h0m2-2h0m0 24h0m3-9h0m4 1h0m4-4h0m0 6h0m4-14h0m2-1h0m4 6h0m2 2h0m1-5h0m1-5h0m1 10h0m1-9h0m2 3h0m0 6h0m1-4h0m5-4h0m1 4h0m1 0h0m2-17h0m1 11h0m2-7h0m0 3h0m0 4h0m3-5h0m1-6h0m3-6h0m3 14h0m2-5h0m2-1h0m2-3h0m2-6h0m0 10h0m1-3h0m7-15h0m0 8h0m0 8h0m1-2h0m7-26h0m0 15h0m1 7h0m1 2h0m9-15h0m3-10h0m0 16h0m1-2h0m0 2h0m0 3h0m3-10h0m14-8h0m0 5h0m0 4h0m1-12h0m6 0h0m3 7h0m4-15h0m2-1h0m3-1h0m0 8h0m1-8h0m0 5h0m1-26h0m2 17h0m1 12h0m1 1h0m3-8h0m2-4h0m7 3h0m6-5h0m0 4h0m3-15h0m0 12h0m6-9h0m2 9h0m1-15h0m0 12h0m3 1h0m2-8h0m1 0h0m1 5h0m1-13h0m2 11h0m3-14h0m1 0h0m3 1h0m3 5h0m1-3h0m2-8h0m2 11h0m14-16h0m1 3h0m3-5h0m4 2h0m0 7h0m1-28h0m0 14h0m2 9h0m4-2h0m1-21h0m6 22h0m2-4h0m2-28h0m0 17h0m5-7h0m2 12h0m3-1h0m3-12h0m1 11h0m1-2h0m2-10h0m0 3h0m0 5h0m2-12h0m3 1h0m0 9h0m1 1h0m1 3h0m3-31h0m3 24h0m0 1h0m5-1h0m1-15h0m2 8h0m4-5h0m0 10h0m1-5h0m0 5h0m3-13h0m2-1h0m4 9h0m4-25h0m0 1h0m0 23h0m4-5h0m0 3h0m4-16h0m1 12h0m2 0h0m1-7h0m0 6h0m1-12h0m2-6h0m0 10h0m2 3h0m2 3h0m1-9h0m0 7h0m3 0h0m2-32h0m0 14h0m1 16h0m1-6h0m4-14h0m2 12h0m1 6h0m1-6h0m1-5h0m0 7h0m1-8h0m0 11h0m1-2h0m2-10h0m1 5h0m2-16h0m1-4h0m2 18h0m2-15h0m1 11h0m1-16h0m1 12h0m3 1h0m6-2h0m1-1h0m7 2h0m1-3h0m2-8h0m0 7h0m1-8h0m0 6h0m5 1h0m3-4h0m1-2h0m1-2h0m1 9h0m1-11h0m1 8h0m2-6h0m0 1h0m3 3h0m2-10h0m2 9h0m1-8h0m0 4h0m5-9h0m0 7h0m4-12h0m0 10h0m1-14h0m1 12h0m1-4h0m0 5h0m1-8h0m0 7h0m0 4h0m2-18h0m7 4h0m0 4h0m3-6h0m1-3h0m1-1h0m1 9h0m0 4h0m1-1h0m2-2h0m1-6h0m1-6h0m0 10h0m1-6h0m0 3h0m2-1h0m2 2h0m2-5h0m2-8h0m0 11h0m1-20h0m0 15h0m1-1h0m5-1h0m4-8h0m1-6h0m2 7h0m0 6h0m1-17h0m7 4h0m3 2h0m2-2h0m1-2h0m2-11h0m5-2h0m1 5h0m3 2h0m1 4h0m1-2h0m5-21h0m1 9h0m2 0h0m1 10h0m4-2h0m3-12h0m2-1h0m3 3h0m4-11h0m1 4h0m0 6h0m0 2h0m1-15h0m1 11h0m3-14h0m0 9h0m1 7h0m1-11h0m1 8h0m1 1h0m3-17h0m4 7h0m5-10h0m0 3h0m2 5h0m4 1h0m1-6h0m1 5h0m1-10h0m2-18h0m1 20h0m1-9h0m0 7h0m1-4h0m1 7h0m2-10h0m0 9h0m9-14h0m0 2h0m0 10h0m7-19h0m0 12h0m7-21h0m0 19h0m2 0h0m2-7h0m1 4h0m3-7h0m1-9h0m0 7h0m3-7h0m0 1h0m0 8h0m1-11h0m2 12h0m2-7h0m3-8h0m0 13h0m5-7h0m4-17h0m3 11h0m3-12h0m2 0h0m3 4h0m3-2h0m7-6h0m0 3h0m1-19h0m0 18h0m5-5h0m5-10h0m6-1h0m2-5h0m2 4h0m2-8h0m1-11h0m2 2h0m1-7h0m2-6h0m1 15h0m3-9h0m4-10h0m1 14h0m7-20h0m2 18h0m14-33h0m1 1h0m1 1h0m1 16h0m3-10h0m1 0h0m1-13h0m0 18h0m1-14h0m1 6h0m2-7h0m2 8h0m0 1h0m1-21h0m1 19h0m7-13h0m1-2h0m1-14h0m0 6h0m0 6h0m2-7h0m1 3h0m0 3h0m5-3h0m3-12h0m1 1h0m2-1h0m0 2h0m2-3h0m4-2h0m6-4h0m2-22h0m0 12h0m0 7h0m1-1h0m1 0h0m1-15h0m0 7h0m1 6h0m1-5h0m4-2h0m1-11h0m2 7h0m4-1h0m1-14h0m2 4h0m8-17h0" stroke="#9400d3" stroke-width="14.0" stroke-linecap="round" fill="none"/>
<path transform="scale(.1)" d="M2688 2679h0m1-2h0m4 1h0m1-7h0m5 1h0m1-4h0m2 0h0m3-3h0m3 2h0m0 17h0m7-22h0m0 6h0m1 0h0m5-7h0m0 1h0m1 7h0m1-12h0m1-1h0m2 15h0m3-16h0m0 4h0m16-9h0m0 11h0m4-12h0m1 2h0m5-9h0m7-5h0m2-2h0m0 9h0m1-2h0m3-8h0m0 4h0m7 8h0m1-11h0m2 2h0m9-8h0m6-2h0m4-7h0m3 5h0m5-3h0m4-9h0m3 9h0m3 2h0m1-3h0m4-14h0m6 1h0m1 2h0m21-6h0m4-8h0m5 0h0m5-7h0m2 0h0m0 6h0m2-7h0m0 11h0m2-6h0m2-5h0m2-3h0m1-3h0m5 4h0m7-3h0m5-4h0m3 2h0m6-4h0m4-2h0m27-16h0m15 0h0m1-6h0m3-1h0m7 9h0m8-19h0m1-2h0m2 4h0m2 1h0m6 1h0m7-13h0m8-3h0m1-3h0m3 6h0m1-7h0m2 0h0m1 2h0m0 8h0m10-15h0m6-6h0m15-4h0m9-7h0m2-1h0m3 2h0m1-2h0m1-1h0m1 0h0m1 2h0m7-9h0m6 0h0m3 4h0m4-11h0m0 9h0m2-9h0m0 2h0m3 11h0m7-7h0m1-6h0m5-6h0m2 4h0m1-2h0m5 1h0m6-6h0m6-7h0m4-1h0m0 3h0m13 1h0m7-8h0m12-9h0m0 3h0m6 4h0m3-5h0m1-6h0m2-4h0m1 5h0m1-9h0m0 8h0m4-2h0m1-1h0m0 4h0m1-12h0m4 3h0m2 8h0m4-13h0m4 3h0m11 0h0m9-17h0m1 8h0m1-5h0m12-2h0m1-4h0m4-5h0m3 4h0m5-2h0m3-1h0m11-6h0m5 4h0m4-13h0m3-1h0m4 3h0m9-9h0m6-4h0m3 5h0m10-7h0m3-2h0m8 4h0m3 6h0m23-24h0m5-1h0m1 0h0m7-8h0m5-4h0m13 3h0m11-11h0m9-1h0m8-5h0m6-10h0m3 4h0m1-7h0m2 5h0m1-5h0m4 1h0m5-3h0m1-6h0m1 7h0m6-11h0m1 2h0m6 4h0m11-11h0m5-1h0m7-11h0m0 5h0m4-9h0m1 1h0m4-4h0m0 6h0m4 9h0m13-24h0m4-1h0m1 4h0m1-6h0m1 4h0m1-2h0m9 3h0m1-4h0m4-10h0m2 4h0m5-6h0m0 6h0m2-7h0m1 3h0m2-4h0m1 1h0m7-9h0m6 1h0m0 3h0m0 1h0m8-15h0m6-1h0m1 1h0m3-5h0m3-3h0m11-10h0m2 1h0m1-2h0m0 4h0m3 0h0m9-13h0m2-6h0m3 4h0m3-10h0m3 5h0m1-7h0m3 4h0m5-8h0m1-3h0m2 4h0m3 2h0m1-12h0m4 3h0m11-10h0m5-7h0m7-12h0m4-1h0m0 1h0m9-6h0m1 1h0m6-13h0m0 2h0m5-6h0m3-1h0m7-9h0m0 2h0m2-7h0m2-2h0m6-4h0m2-5h0m2 1h0m2-3h0m4-6h0m0 1h0m1-3h0m1 4h0m3-7h0m12-15h0" stroke="#9400d3" stroke-width="14.0" stroke-linecap="round" fill="none"/>
<path transform="scale(.1)" d="M2684 2651h0m8 10h0m5-28h0m6-40h0m13 50h0m18-80h0m5 46h0m17 7h0m1 5h0m5-21h0m3 20h0m17-44h0m10 2h0m10-19h0m14-38h0m12 42h0m23 11h0m46-38h0m31-31h0m6 37h0m14-9h0m16-16h0m7-18h0m24-20h0m11 13h0m45-19h0m15-135h0m4 88h0m5-24h0m2-63h0m3 125h0m2-5h0m10-2h0m2 8h0m1-61h0m8 10h0m2 35h0m3-27h0m14 16h0m9-6h0m20-3h0m0 3h0m7-17h0m5-29h0m10 15h0m13 1h0m2 13h0m4 3h0m2-18h0m1-26h0m11-82h0m1 111h0m5-8h0m48-82h0m7 46h0m12 4h0m12-5h0m3-65h0m7 53h0m3-38h0m6 42h0m3-21h0m0 32h0m2-5h0m9-25h0m1-83h0m6 103h0m0 1h0m7-9h0m4-18h0m4-12h0m8 3h0m2 18h0m3 6h0m16-27h0m1 8h0m4 3h0m11-34h0m2 26h0m1-20h0m33-5h0m5 0h0m7-15h0m4-72h0m2 77h0m17-6h0m16-21h0m4 14h0m1-3h0m13-19h0m1-39h0m5 26h0m3 5h0m14-70h0m1 6h0m0 70h0m6-34h0m8 8h0m17-14h0m13-8h0m2 1h0m8-12h0m8-64h0m11 31h0m2 22h0m1-65h0m7 48h0m3 11h0m6-12h0m12-31h0m2 24h0m8-9h0m4-55h0m21-18h0m7-7h0m0 39h0m5-37h0m0 36h0m6-50h0m8 32h0" stroke="#9400d3" stroke-width="14.0" stroke-linecap="round" fill="none"/>
<path transform="scale(.1)" d="M2686 2657h0m4-2h0m5 0h0m1 15h0m2-2h0m1-25h0m0 23h0m3-48h0m2 57h0m1-1h0m4-5h0m6-39h0m1 48h0m1-26h0m7-1h0m1-35h0m0 26h0m2-41h0m15 50h0m7-37h0m1 15h0m1 34h0m4 0h0m1-82h0m2 16h0m5 35h0m1 12h0m2-12h0m1-41h0m1 49h0m2-35h0m0 27h0m1 10h0m5 8h0m6-41h0m1 18h0m5 7h0m3-26h0m5 40h0m1-35h0m0 17h0m7-11h0m2 35h0m8-16h0m1-18h0m1-39h0m2-14h0m0 39h0m3 22h0m3-49h0m0 6h0m3-24h0m1 65h0m3-107h0m3 24h0m3 43h0m6 11h0m1-6h0m1-23h0m0 12h0m1 12h0m1-31h0m6 1h0m1 12h0m2-38h0m3 37h0m10-52h0m1 74h0m2-5h0m4 17h0m1-68h0m2 2h0m0 21h0m1 13h0m1-17h0m1 74h0m4-66h0m0 12h0m2-3h0m4-27h0m2 45h0m1-25h0m3 18h0m2-56h0m4 8h0m3 2h0m12 31h0m4-9h0m2-37h0m3 16h0m1-7h0m12 104h0m2-91h0m2-7h0m4-3h0m4-5h0m3-27h0m0 67h0m1-35h0m3-15h0m8 4h0m0 17h0m3 23h0m6-26h0m2-15h0m7-18h0m9 4h0m2-5h0m1-9h0m2 31h0m1 0h0m0 25h0m2-25h0m6-72h0m2 36h0m0 30h0m1 8h0m2-29h0m6 9h0m2-13h0m0 43h0m1-125h0m1 72h0m3 45h0m1-98h0m0 118h0m1-62h0m4 19h0m0 65h0m3-11h0m3-74h0m1 75h0m3-31h0m1-95h0m0 35h0m0 29h0m1-34h0m4 23h0m3-57h0m1 60h0m2-11h0m0 39h0m2-37h0m1 20h0m5-24h0m3 23h0m2 29h0m4-12h0m1-71h0m0 26h0m2-13h0m1 100h0m1-96h0m3 0h0m3-44h0m0 27h0m3 38h0m3-65h0m0 60h0m6-26h0m3 25h0m3 23h0m9-41h0m2-12h0m11-47h0m1 66h0m0 26h0m2-42h0m2 5h0m2-17h0m4-30h0m7 14h0m3 12h0m4 11h0m5-43h0m4 8h0m4 24h0m2-69h0m5 86h0m9-31h0m1 1h0m4-40h0m5 34h0m3-32h0m4 21h0m2 31h0m1-64h0m4 27h0m6 26h0m1-16h0m4-24h0m3 40h0m8-35h0m0 5h0m1 23h0m1-53h0m1-2h0m7 46h0m1-24h0m2 43h0m2-2h0m6-27h0m3 32h0m3-64h0m2-9h0m1 20h0m2 44h0m1-12h0m2-60h0m6 71h0m3-3h0m1-58h0m1-4h0m0 33h0m3 19h0m2-28h0m4-29h0m9 41h0m4-31h0m10 26h0m1 19h0m9-53h0m8 6h0m3-45h0m0 83h0m2-56h0m1 21h0m2-20h0m3-65h0m5 86h0m8-15h0m2-28h0m8-3h0m1 17h0m3-41h0m0 56h0m4-4h0m5-13h0m4-25h0m1-5h0m4 48h0m2-31h0m0 8h0m2-2h0m1-51h0m0 106h0m13-100h0m2 55h0m2-21h0m10-35h0m7 17h0m2 30h0m4-32h0m1 11h0m9-16h0m7-18h0m5-36h0m0 85h0m10-40h0m6 2h0m3-1h0m1-31h0m0 61h0m1-15h0m3 48h0m1-32h0m4-72h0m3 38h0m3-26h0m2 10h0m7-18h0m1 20h0m5 6h0m13-13h0m2 18h0m2-52h0m1-1h0m5 51h0m5-20h0m7-54h0m1 26h0m3 6h0m2 0h0m6-9h0m2-3h0m1-24h0m2 67h0m7-78h0m1 29h0m1-30h0m3-3h0m0 59h0m1-66h0m1 21h0m5 18h0m4 1h0m5 13h0m5-58h0m1 39h0m1 15h0m1-76h0m4 30h0m0 38h0m1-77h0m1 33h0m0 7h0m1-30h0m1 68h0m0 1h0m2-36h0m1 56h0m3-70h0m0 3h0m9 11h0m1-27h0m0 2h0m3 1h0m5 9h0m2 6h0m1-13h0m3-47h0m1 117h0m3-65h0m5 25h0m4-119h0m2 28h0m0 47h0m8-42h0m2 31h0m3-12h0m4-44h0m0 58h0m1-50h0m0 51h0m3-2h0m2-37h0m1 40h0m4 1h0m5-34h0m4 32h0m1-19h0m3-32h0m4-9h0m5 27h0m1-57h0m0 28h0" stroke="#9400d3" stroke-width="14.0" stroke-linecap="round" fill="none"/>
<path transform="scale(.1)" d="M3229 2148h0m100-144h0m134 160h0m16-127h0m34 87h0m127-194h0" stroke="#9400d3" stroke-width="14.0" stroke-linecap="round" fill="none"/>
<polygon points="268.4,233 368.6,233 368.6,236.9 268.4,236.9" fill="#009e73" stroke="none"/>
<path transform="scale(.1)" d="M2689 2323h0m0 4h0m1-3h0m1 7h0m4-12h0m1 0h0m3 4h0m1 6h0m9-5h0m1-7h0m0 13h0m9-4h0m3 4h0m3 1h0m1-8h0m1 6h0m3-10h0m2 1h0m4 9h0m1-3h0m2 0h0m2-3h0m2 3h0m1-5h0m0 5h0m0 4h0m2-11h0m0 5h0m5 5h0m5 1h0m3-7h0m2-5h0m6 1h0m1 8h0m5 0h0m1 3h0m3-9h0m9 4h0m3 1h0m1-1h0m1 2h0m6-2h0m4 3h0m2-9h0m0 10h0m6 2h0m1-11h0m0 10h0m3-7h0m0 5h0m6-10h0m1 4h0m0 9h0m4-4h0m0 4h0m2 0h0m6 0h0m3-2h0m5 2h0m1-5h0m0 5h0m9-3h0m3-5h0m4-5h0m4 4h0m2 6h0m0 3h0m5 0h0m1-5h0m1-2h0m2 4h0m1-1h0m1-8h0m2 7h0m0 4h0m2 1h0m4-8h0m4 6h0m2 1h0m3-5h0m2 6h0m1-1h0m2-8h0m1 3h0m0 6h0m4 0h0m3 0h0m3-5h0m7 4h0m1 0h0m1-6h0m1 3h0m3-4h0m3-1h0m1 5h0m3-5h0m2 2h0m1 2h0m7 5h0m10-7h0m0 5h0m1-5h0m6 2h0m1-9h0m3 9h0m4-2h0m3 2h0m1 1h0m3 2h0m9-5h0m3-6h0m4 12h0m1-9h0m0 2h0m0 2h0m2-8h0m1 13h0m1 0h0m2-2h0m0 1h0m3-10h0m0 9h0m2-4h0m2-4h0m1 10h0m1-6h0m7 5h0m1 0h0m2-4h0m9 0h0m4 3h0m3-9h0m0 1h0m0 8h0m1 1h0m2-1h0m2-2h0m1 2h0m4-4h0m2 2h0m2-1h0m6 3h0m1 1h0m3 2h0m3-7h0m0 3h0m0 3h0m3-6h0m1-4h0m1 7h0m2 2h0m1-2h0m5-5h0m0 7h0m1-9h0m2 8h0m3-7h0m1 7h0m0 2h0m1 0h0m1-8h0m1 7h0m5-10h0m0 7h0m3 4h0m1-1h0m1-7h0m1 2h0m1-1h0m2 4h0m3-1h0m2 1h0m4-1h0m2-5h0m3 10h0m1 0h0m2-8h0m0 5h0m3-7h0m1 9h0m10-1h0m2-1h0m3 1h0m9-8h0m0 1h0m3 2h0m8 6h0m2 1h0m3-1h0m4-3h0m21-4h0m1 3h0m0 2h0m0 2h0m3-21h0m1 19h0m0 1h0m1-4h0m1-1h0m6-2h0m2 5h0m5 3h0m1-5h0m0 1h0m4 1h0m1-4h0m0 4h0m1-9h0m0 10h0m1-6h0m0 4h0m2-1h0m0 2h0m3-6h0m10 6h0m1 2h0m1-12h0m4 12h0m0 1h0m3-6h0m6-5h0m6-5h0m4 7h0m4-2h0m0 11h0m2-2h0m1-2h0m0 2h0m2-6h0m1 7h0m1-6h0m0 1h0m4 3h0m5 1h0m3-3h0m4 6h0m6-11h0m5 3h0m0 5h0m1-8h0m0 10h0m2-1h0m0 1h0m2 1h0m1 0h0m1-6h0m0 6h0m1-4h0m0 2h0m6-6h0m4-3h0m1 5h0m4 2h0m11-8h0m4 9h0m1-4h0m1-6h0m1 7h0m0 2h0m1-5h0m2 4h0m2 4h0m4 0h0m4-3h0m0 4h0m1-4h0m5 2h0m3-8h0m1-1h0m0 8h0m0 3h0m6-4h0m1-7h0m1 9h0m6-8h0m8 6h0m12 0h0m1 4h0m2-6h0m3 3h0m6-6h0m1 1h0m0 6h0m2-4h0m1 4h0m3-2h0m2-4h0m0 7h0m3-1h0m1-4h0m3 1h0m2-2h0m6 6h0m5-1h0m3 1h0m0 1h0m10-2h0m4-2h0m3-8h0m2 4h0m7-1h0m0 8h0m1 0h0m1-4h0m1-4h0m0 7h0m2 0h0m3-1h0m1-4h0m0 3h0m6-3h0m0 3h0m0 3h0m3-5h0m0 3h0m8-5h0m2 5h0m1-1h0m1 2h0m6-1h0m5-9h0m0 3h0m1 5h0m3-6h0m0 7h0m1-1h0m2 2h0m1-2h0m2-1h0m4-12h0m11 8h0m0 9h0m1-16h0m0 10h0m4 5h0m2-13h0m4 14h0m2-4h0m0 3h0m3-15h0m0 12h0m3 3h0m1-4h0m2 3h0m3-8h0m5 10h0m1-5h0m1 1h0m1-1h0m6 5h0m5-8h0m3 7h0m3-2h0m4-10h0m1 13h0m1-1h0m6-1h0m5-13h0m5 7h0m4 7h0m3-11h0m0 1h0m0 1h0m3 9h0m1-1h0m1-4h0m1-6h0m0 10h0m2 1h0m2-5h0m2 5h0m2-5h0m6 2h0m1-7h0m0 5h0m1-8h0m6 14h0m1-7h0m3-6h0m0 11h0m3-5h0m0 3h0m1 4h0m3-7h0m0 6h0m1 0h0m1-5h0m6 1h0m11 2h0m0 1h0m4-11h0m2 13h0m1-4h0m0 1h0m9 1h0m11 1h0m2-5h0m2-3h0" stroke="#009e73" stroke-width="14.0" stroke-linecap="round" fill="none"/>
<path transform="scale(.1)" d="M2696 2373h0m1-2h0m0 2h0m1-3h0m12 0h0m3 0h0m1 1h0m5-2h0m8 1h0m3-2h0m0 4h0m1 4h0m4-6h0m15-1h0m1-1h0m1 1h0m12-1h0m0 4h0m1-5h0m18 5h0m2-3h0m5 0h0m4-1h0m1 0h0m3 1h0m5 6h0m3-6h0m1 1h0m10-2h0m4 2h0m4 0h0m3 2h0m2 1h0m5-4h0m8 2h0m6 1h0m3-3h0m1 7h0m12-2h0m16-4h0m4 2h0m17 7h0m14-3h0m12-5h0m7 2h0m7 4h0m9-5h0m25-1h0m3 5h0m2-1h0m10 0h0m2-2h0m8-3h0m6-2h0m2 5h0m12-3h0m6-2h0m6 6h0m3-5h0m1-1h0m8 4h0m10-3h0m0 1h0m7 5h0m3-5h0m0 2h0m0 5h0m1-7h0m3 0h0m3 1h0m3-3h0m1 5h0m4-4h0m2 0h0m4 0h0m21 0h0m2-1h0m12 0h0m10 0h0m2 3h0m2-2h0m3 0h0m9 0h0m8 1h0m7 5h0m3-6h0m11-1h0m6 1h0m12 1h0m2 2h0m2-4h0m11 3h0m1 0h0m3-2h0m8 6h0m5-3h0m3-4h0m7 2h0m1 2h0m5-2h0m3-1h0m5 0h0m1-1h0m9 3h0m1-1h0m10 0h0m1-1h0m6 1h0m8-2h0m2 0h0m5 6h0m3-4h0m9 1h0m4-1h0m18 2h0m4-3h0m7 0h0m3 3h0m1-4h0m0 1h0m3 2h0m11 0h0m3-3h0m6 3h0m2-1h0m7-2h0m3 4h0m1-5h0m1 9h0m3-8h0m10 6h0m3 0h0m0 1h0m3-6h0m2 6h0m15-6h0m1 1h0m1 1h0m2-3h0m0 5h0m12-3h0m3-1h0m12 3h0m2-4h0m19 0h0m1 6h0m2-3h0m0 6h0m2-6h0m16-1h0m1-2h0m2 0h0m5 0h0m4 5h0m4-2h0m2 4h0m3-5h0m1 7h0m6-10h0m0 3h0m7 0h0m4 7h0m6-6h0m1-1h0m6 0h0m5 0h0m0 2h0m1 7h0m2-5h0m7-3h0m5 0h0m2 3h0m3-4h0m9-1h0m11 0h0m0 3h0m5-4h0m0 3h0m1-1h0m4 0h0m3 1h0m2 2h0m12-3h0m3 2h0m9-4h0m7 0h0m4 2h0m2 1h0m7-3h0m10 5h0m9-2h0m3-3h0m2 4h0m4-5h0m2 3h0m7-1h0" stroke="#009e73" stroke-width="14.0" stroke-linecap="round" fill="none"/>
<path transform="scale(.1)" d="M2688 2317h0m0 3h0m4-31h0m4 19h0m0 1h0m6 19h0m19-25h0m0 16h0m2-33h0m1 30h0m5-14h0m2 0h0m0 21h0m20 2h0m5-54h0m3 16h0m5 36h0m2-33h0m3 31h0m1-33h0m1 38h0m16-7h0m4-12h0m0 10h0m1-10h0m6-19h0m0 15h0m0 19h0m6-1h0m0 3h0m0 2h0m1-35h0m9 30h0m1-14h0m0 7h0m3 10h0m2-33h0m13 35h0m2-1h0m5-24h0m0 20h0m6-15h0m1 4h0m6-25h0m6-1h0m4 44h0m6-6h0m5-62h0m2 69h0m7-2h0m5-3h0m1-20h0m2 23h0m14-8h0m4-26h0m0 13h0m1-2h0m13 22h0m1-43h0m5 37h0m4 7h0m8-1h0m1-5h0m2-25h0m10 33h0m27-5h0m1 4h0m21-47h0m2 30h0m9-8h0m0 25h0m3-13h0m3-13h0m3 21h0m1-23h0m3 18h0m1-9h0m3-7h0m10 21h0m9-95h0m9 98h0m1-14h0m1 16h0m2-8h0m1 2h0m9-4h0m5 7h0m3 4h0m1-15h0m1 4h0m4 1h0m4-19h0m3-4h0m4 33h0m1-13h0m5 10h0m11-6h0m3-5h0m13 3h0m5 8h0m9-34h0m6 35h0m2-20h0m0 18h0m15-6h0m9-13h0m2 20h0m6-2h0m2 2h0m2-12h0m2 1h0m3-14h0m24 27h0m1 0h0m7 1h0m26-21h0m1-15h0m7 35h0m7-11h0m3 2h0m1-47h0m2 30h0m6-2h0m3 18h0m6-3h0m2-34h0m6 45h0m4 1h0m5-2h0m5-8h0m1-9h0m0 19h0m2-3h0m2-2h0m4 4h0m3-53h0m4 31h0m1-37h0m6 60h0m7-29h0m6 25h0m0 6h0m3-1h0m5-11h0m5-22h0m2 32h0m18-2h0m2-4h0m5 6h0m10-10h0m5 5h0m11 3h0m8-3h0m1-11h0m0 5h0m1 13h0m3-29h0m2 23h0m5-21h0m1 27h0m1-10h0m2 10h0m4-23h0m6 18h0m4-35h0m2 24h0m10-14h0m5 9h0m3 19h0m4 0h0m1 0h0m1 1h0m1-1h0m7 0h0m2-3h0m0 3h0m6-23h0m1 25h0m9-11h0m3 11h0m3 1h0m5-2h0m4 0h0m1-70h0m3 66h0m12 1h0m10-6h0m4 8h0m1-1h0m14-2h0m3 4h0m5-24h0m2 14h0m6-6h0m5 3h0m7 7h0m0 2h0m2-15h0m5 9h0m8-7h0m1-10h0m15 21h0m7 7h0m2-3h0m4-11h0m2 7h0m1 7h0m2-27h0m2 25h0m1-2h0m9-3h0m12 4h0m1-17h0m2 13h0m5-12h0m4 4h0m0 6h0m2 2h0m6-20h0m0 26h0" stroke="#009e73" stroke-width="14.0" stroke-linecap="round" fill="none"/>
</g>
<g>
<rect x="13.00" y="279.75" width="102.50" height="78.85" fill="none" stroke="#8a8a8a" stroke-width="0.35"/>
<text transform="translate(13.00 362.80) scale(.1)" text-anchor="middle">0</text>
<text transform="translate(24.39 362.80) scale(.1)" text-anchor="middle">500</text>
<text transform="translate(35.78 362.80) scale(.1)" text-anchor="middle">1000</text>
<text transform="translate(47.17 362.80) scale(.1)" text-anchor="middle">1500</text>
<text transform="translate(58.56 362.80) scale(.1)" text-anchor="middle">2000</text>
<text transform="translate(69.94 362.80) scale(.1)" text-anchor="middle">2500</text>
<text transform="translate(81.33 362.80) scale(.1)" text-anchor="middle">3000</text>
<text transform="translate(92.72 362.80) scale(.1)" text-anchor="middle">3500</text>
<text transform="translate(104.11 362.80) scale(.1)" text-anchor="middle">4000</text>
<text transform="translate(115.50 362.80) scale(.1)" text-anchor="middle">4500</text>
<text transform="translate(10.10 359.65) scale(.1)" text-anchor="end">0</text>
<text transform="translate(10.10 350.89) scale(.1)" text-anchor="end">0.005</text>
<text transform="translate(10.10 342.13) scale(.1)" text-anchor="end">0.01</text>
<text transform="translate(10.10 333.37) scale(.1)" text-anchor="end">0.015</text>
<text transform="translate(10.10 324.61) scale(.1)" text-anchor="end">0.02</text>
<text transform="translate(10.10 315.84) scale(.1)" text-anchor="end">0.025</text>
<text transform="translate(10.10 307.08) scale(.1)" text-anchor="end">0.03</text>
<text transform="translate(10.10 298.32) scale(.1)" text-anchor="end">0.035</text>
<text transform="translate(10.10 289.56) scale(.1)" text-anchor="end">0.04</text>
<text transform="translate(10.10 280.80) scale(.1)" text-anchor="end">0.045</text>
<path d="M24.39 358.60v-1M24.39 279.75v1M35.78 358.60v-1M35.78 279.75v1M47.17 358.60v-1M47.17 279.75v1M58.56 358.60v-1M58.56 279.75v1M69.94 358.60v-1M69.94 279.75v1M81.33 358.60v-1M81.33 279.75v1M92.72 358.60v-1M92.72 279.75v1M104.11 358.60v-1M104.11 279.75v1M13.00 349.84h1M115.50 349.84h-1M13.00 341.08h1M115.50 341.08h-1M13.00 332.32h1M115.50 332.32h-1M13.00 323.56h1M115.50 323.56h-1M13.00 314.79h1M115.50 314.79h-1M13.00 306.03h1M115.50 306.03h-1M13.00 297.27h1M115.50 297.27h-1M13.00 288.51h1M115.50 288.51h-1" stroke="#8a8a8a" stroke-width="0.3" fill="none"/>
<polygon points="13.4,358 42,353.8 84,350.6 104.4,348.1 104.4,349.1 84,351.6 42,354.8 13.4,358.6" fill="#9400d3" stroke="none"/>
<path transform="scale(.1)" d="M147 3579h0m4-3h0m21-1h0m6-2h0m8 0h0m9-2h0m0 1h0m8-9h0m0 8h0m1 0h0m2-1h0m7-1h0m1-5h0m1 5h0m1 0h0m9-2h0m11-1h0m3-1h0m7-3h0m6-2h0m2 4h0m10-6h0m0 3h0m1-2h0m2 0h0m17-3h0m6 1h0m1 0h0m5 0h0m5-1h0m4-3h0m6 2h0m1 0h0m4-5h0m0 2h0m1 1h0m0 1h0m1 0h0m3-1h0m1-1h0m2 2h0m9-3h0m1-1h0m13 0h0m3 0h0m1-1h0m11-4h0m3 3h0m2-3h0m8 1h0m10-3h0m1 0h0m0 1h0m15-2h0m1-2h0m5 1h0m4 0h0m1-1h0m20-5h0m3 0h0m12 1h0m2-2h0m3 1h0m1 0h0m1 0h0m1-1h0m4 1h0m2 1h0m1-4h0m10 3h0m3 0h0m7-1h0m1-2h0m7 1h0m4 0h0m3 0h0m5-2h0m8 1h0m2-1h0m2-3h0m1 3h0m4-2h0m6 2h0m7-1h0m6-2h0m1 2h0m1-1h0m9-1h0m0 1h0m2-1h0m0 1h0m2 0h0m4-1h0m7 0h0m5-4h0m0 1h0m2 2h0m7 0h0m3 0h0m2-3h0m5-1h0m4 3h0m3 0h0m8-3h0m1-3h0m2 3h0m7-3h0m5 3h0m2 1h0m17-1h0m1 0h0m7-2h0m3 1h0m6 0h0m4-3h0m7-1h0m15-2h0m1 4h0m4-1h0m7-2h0m2-2h0m5 3h0m5 0h0m13-5h0m3 1h0m6 1h0m0 1h0m3-1h0m3-1h0m5 1h0m8 0h0m3 0h0m1 0h0m2-2h0m5-3h0m0 4h0m27-4h0m8-2h0m0 1h0m1 1h0m8 0h0m3-2h0m0 3h0m1 0h0m10-2h0m9-1h0m4 0h0m4-2h0m4 0h0m3 2h0m3-4h0m1 3h0m7-3h0m0 1h0m9 1h0m6-3h0m3 0h0m2 1h0m2-4h0m11 3h0m2-3h0m6-2h0m5 2h0m6-1h0m2-1h0m14-1h0m5 0h0m2-4h0m14-1h0m6 2h0m2-4h0m0 2h0m4 0h0m3 2h0m1-3h0m8-1h0m2-2h0m7 2h0m7-2h0m1 2h0m0 1h0m2-1h0m3-2h0m5 1h0m4 0h0m2-1h0m4-2h0m0 2h0m5-6h0m3 5h0m10-5h0m0 4h0m5-3h0m6 2h0m5-1h0m3-3h0m7 1h0" stroke="#9400d3" stroke-width="14.0" stroke-linecap="round" fill="none"/>
<path transform="scale(.1)" d="M141 3584h0m11-1h0m8-1h0m9-1h0m17-3h0m13-1h0m3-1h0m32-3h0m7-2h0m8 0h0m10-2h0m23-3h0m15-3h0m2 0h0m2 0h0m6-1h0m5-1h0m2 1h0m3-2h0m10-1h0m8-1h0m6 0h0m7-2h0m0 1h0m3 0h0m10-3h0m25-3h0m1 1h0m4 0h0m24-3h0m14-3h0m11-1h0m9-1h0m14-1h0m23-2h0m13 0h0m5-1h0m11 0h0m7-1h0m18-2h0m13 0h0m9 0h0m9-1h0m3 0h0m15 0h0m5-2h0m13-1h0m1 0h0m10-1h0m9-1h0m7 0h0m9-1h0m1 0h0m2 1h0m1-1h0m2-1h0m3 0h0m6 1h0m5-1h0m9 0h0m1 0h0m6-2h0m2 0h0m3 0h0m6-1h0m4 0h0m6-1h0m4 0h0m22 0h0m23-3h0m1 0h0m5-1h0m7 0h0m1-1h0m4 1h0m17-2h0m3 0h0m12-1h0m7 0h0m21-2h0m8-1h0m13-1h0m9-1h0m35-4h0m8-1h0m6-1h0m5 0h0m6-1h0m11-1h0m4-2h0m17-2h0m7 0h0m5-1h0m9-1h0m5-1h0m17-2h0m18-2h0m0 1h0m27-4h0" stroke="#9400d3" stroke-width="14.0" stroke-linecap="round" fill="none"/>
<path transform="scale(.1)" d="M145 3575h0m36-6h0m12-1h0m33-7h0m29-7h0m18 4h0m27-7h0m8-1h0m12-23h0m26-5h0m26 13h0m9 7h0m52-15h0m1-5h0m63 6h0m1-38h0m7 37h0m75-2h0m12-3h0m38-23h0m28 17h0m50-1h0m13-22h0m26 3h0m7 11h0m119-13h0m32 4h0m104-15h0m1-30h0m1 23h0" stroke="#9400d3" stroke-width="14.0" stroke-linecap="round" fill="none"/>
<path transform="scale(.1)" d="M154 3325h0m20 20h0m22-43h0m16-24h0m11-20h0m18-40h0m20-40h0m20-44h0m20-39h0m22-11h0m11-22h0m18-5h0m16 16h0" stroke="#9400d3" stroke-width="14.0" stroke-linecap="round" fill="none"/>
<path transform="scale(.1)" d="M348 3079h0m4-16h0m5 2h0m5-10h0m4 12h0m5-8h0m5-1h0m4 8h0m5-3h0m5-26h0m4 19h0m5 10h0m5-37h0m4 15h0m5-6h0m5 16h0m4 1h0m5 7h0m5-11h0m4 24h0m5-26h0m5 1h0m4 14h0m5 9h0m5-19h0m4-2h0m5-20h0m5 32h0m4-11h0m5-8h0m5 11h0m4 9h0m5-7h0m5 14h0m4-12h0m5-14h0m5 5h0m4 5h0m5-2h0m5 2h0m4 4h0m5-62h0m5 53h0m4 9h0m5-25h0m5 1h0m4 23h0m5-26h0m5 11h0m4 6h0m5-5h0m5-16h0m4 13h0m5-9h0m5 15h0m4-3h0m5 1h0m5-39h0m4 42h0m5-7h0m5-1h0m4-11h0m5 12h0m5-13h0m4 9h0m5 7h0m5-6h0m4-3h0m5 9h0m5 8h0m4-16h0m5-9h0m5 8h0m4 22h0m5-25h0m5 19h0m4-14h0m5 9h0m5-8h0m4-18h0m5 14h0m5 24h0m4-22h0m5 7h0m5-9h0m4-2h0m5 0h0m5 9h0m4 16h0m5-21h0m5-2h0m4-5h0m5-6h0m5-3h0m4 21h0m5-58h0m4 64h0m5-5h0m5-31h0m4-18h0m5 0h0m5 40h0m4 10h0m5-23h0m5 8h0m4-11h0m5 12h0m5-4h0m4-10h0m5-12h0m5 21h0m4 4h0m5-5h0m5 28h0m4-11h0m5-7h0m5 13h0m4-19h0m5-4h0m5 26h0m4-31h0m5 5h0m5 2h0m4 13h0m5-17h0m5 12h0m4-18h0m5-1h0m5 14h0m4-1h0m5-15h0m5-12h0m4 13h0m5 20h0m5-5h0m4-2h0m5-5h0m5-2h0m4 8h0m5-10h0m5-29h0m4 27h0m5 4h0m5-6h0m4 18h0m5-29h0m5 1h0m4 21h0m5-13h0m5 11h0" stroke="#9400d3" stroke-width="14.0" stroke-linecap="round" fill="none"/>
<polygon points="13.4,354.7 42,347.7 84,337.6 104.4,332.5 104.4,334.6 84,339.6 42,349.6 13.4,356.3" fill="#009e73" stroke="none"/>
<path transform="scale(.1)" d="M134 3548h0m13-4h0m3-4h0m2 4h0m3-4h0m0 1h0m4 0h0m2 0h0m1-3h0m1 2h0m16-3h0m9-6h0m2 3h0m15-5h0m2 1h0m13-3h0m5-8h0m2 4h0m2 1h0m11-5h0m1-2h0m2 0h0m2 3h0m6-3h0m2 2h0m9-3h0m2-4h0m2 4h0m5-2h0m2-1h0m2-1h0m0 1h0m1-3h0m1 1h0m1 1h0m1-2h0m6 0h0m6-2h0m1-2h0m1 2h0m4-2h0m3 1h0m3-2h0m4 1h0m10-7h0m0 4h0m7-3h0m16-3h0m2-2h0m2-1h0m3 1h0m3-1h0m1-3h0m0 3h0m9-2h0m9-3h0m4-2h0m1 0h0m11-5h0m16 1h0m3-1h0m3-6h0m11 3h0m16-7h0m1-1h0m16 0h0m18-8h0m9-1h0m4-1h0m2-1h0m3-2h0m2 3h0m2-2h0m3-1h0m1-4h0m1 3h0m1 0h0m0 3h0m3-1h0m14-6h0m2-3h0m4 2h0m0 1h0m0 1h0m9-4h0m2-1h0m0 2h0m4-1h0m1-5h0m0 5h0m5-5h0m1 3h0m15-5h0m5-3h0m1 2h0m14-3h0m2 1h0m4-2h0m1-2h0m0 1h0m1-1h0m2 1h0m7-7h0m8 2h0m0 3h0m2-7h0m0 1h0m9 2h0m1-1h0m11-2h0m4-1h0m5-3h0m2 1h0m5-8h0m4 7h0m1 0h0m4-3h0m11-2h0m6-1h0m5-2h0m4-1h0m3 1h0m1-3h0m3 2h0m3-6h0m5-2h0m2 0h0m1 2h0m0 2h0m1-1h0m4 2h0m14-5h0m5-5h0m0 5h0m4-5h0m0 4h0m1-1h0m2-5h0m9 3h0m12-7h0m9 1h0m12-6h0m5-3h0m2 2h0m4-1h0m1-3h0m1 5h0m1-2h0m21-8h0m1 5h0m2-1h0m3 0h0m5-2h0m1-5h0m11-4h0m8 4h0m2-3h0m10-5h0m3 4h0m1 1h0m2-1h0m11-6h0m3 2h0m7-4h0m1 2h0m1-2h0m3 1h0m0 1h0m13-7h0m2-1h0m1 2h0m0 1h0m6-7h0m0 5h0m1 0h0m5-4h0m2 1h0m6-2h0m4 1h0m1-2h0m1-3h0m5 1h0m5-4h0m3-1h0m6 2h0m7-3h0m2 3h0m1-6h0m2 3h0m1 2h0m4-3h0m6-6h0m9 3h0m1-2h0m2 3h0m2-6h0m0 3h0m14-1h0m3-1h0m4-7h0m2 4h0m5-6h0m0 5h0m3-3h0m4-3h0m10-2h0m3 0h0m6-1h0m2 1h0m1 1h0m2-6h0m0 2h0m4-3h0m0 7h0m6-4h0" stroke="#009e73" stroke-width="14.0" stroke-linecap="round" fill="none"/>
<path transform="scale(.1)" d="M136 3562h0m5-2h0m3-1h0m13-3h0m1 0h0m4-1h0m5-1h0m20-5h0m5-1h0m6-1h0m13-4h0m8-1h0m23-6h0m0 1h0m1-1h0m26-6h0m4-1h0m18-3h0m8-3h0m11-3h0m1 0h0m13-3h0m1 0h0m0 1h0m8-2h0m8-2h0m1 0h0m7-2h0m4-1h0m8-1h0m7-3h0m5-1h0m14-4h0m2 1h0m2-1h0m4-1h0m4-1h0m4 0h0m5-2h0m13-3h0m29-7h0m4-1h0m9-2h0m7-2h0m4-1h0m6-2h0m9-1h0m3 0h0m5-2h0m1-1h0m5-1h0m2 0h0m4-1h0m7-2h0m5-1h0m20-4h0m4-1h0m13-3h0m2-2h0m12-3h0m16-3h0m13-3h0m12-3h0m5-1h0m6-2h0m2 1h0m3-2h0m10-2h0m9-3h0m1 0h0m33-8h0m6-1h0m9-1h0m26-8h0m18-2h0m11-4h0m1 0h0m2 0h0m11-3h0m11-4h0m1 1h0m4-1h0m2 0h0m4-1h0m6-2h0m12-4h0m10-2h0m33-8h0m3 0h0m3-1h0m1-1h0m6 0h0m5-2h0m28-6h0m5-2h0m11-3h0m10-3h0m7-1h0m3-1h0m1 0h0m10-2h0m7-2h0m8-2h0m3-1h0m69-17h0m1 0h0m13-4h0m0 1h0" stroke="#009e73" stroke-width="14.0" stroke-linecap="round" fill="none"/>
<path transform="scale(.1)" d="M134 3541h0m19-8h0m6 7h0m60-18h0m1-10h0m31 5h0m22-5h0m81-21h0m9-7h0m22-9h0m5-46h0m7 50h0m24-6h0m133-30h0m3-8h0m18 0h0m39-19h0m8 6h0m2-7h0m2 6h0m28-24h0m22 1h0m25 5h0m14-22h0m13-6h0m19 17h0m8-5h0m11-1h0m9 3h0m31-8h0m12-2h0m3-13h0m10 4h0m23-18h0m13 10h0m15 3h0m17-32h0m67 2h0m40-7h0m14-10h0" stroke="#009e73" stroke-width="14.0" stroke-linecap="round" fill="none"/>
<path transform="scale(.1)" d="M139 3538h0m1-3h0m6 2h0m6-3h0m4 2h0m4-5h0m0 1h0m0 3h0m0 2h0m3-5h0m12 1h0m2-6h0m7 1h0m6-2h0m9 2h0m2 1h0m3-5h0m3-3h0m1 4h0m12-4h0m2 2h0m1-6h0m0 3h0m1-1h0m3-2h0m0 7h0m2-6h0m3 1h0m3 1h0m1 2h0m4-7h0m2 1h0m9-3h0m1 3h0m2-2h0m0 5h0m1-8h0m2-2h0m0 3h0m7 0h0m5 4h0m6-12h0m3 10h0m6-4h0m2 1h0m1-6h0m3 5h0m1-2h0m4-6h0m4 2h0m2 3h0m1 0h0m2-1h0m6-2h0m6-3h0m2-6h0m0 8h0m4-3h0m0 2h0m6-4h0m1 4h0m1 3h0m1-7h0m1 9h0m21-12h0m1 1h0m1-4h0m0 7h0m9-8h0m2 6h0" stroke="#009e73" stroke-width="14.0" stroke-linecap="round" fill="none"/>
<path transform="scale(.1)" d="M145 3221h0m15 126h0m14-22h0m22-34h0m11-40h0m16-40h0m11-16h0m16 0h0m7-24h0m10-20h0m10-40h0m8-31h0m11-18h0m16-11h0m18-16h0m15-18h0m12-17h0" stroke="#009e73" stroke-width="14.0" stroke-linecap="round" fill="none"/>
<path transform="scale(.1)" d="M348 3011h0m3 9h0m4-7h0m4 4h0m3-8h0m4 19h0m4-11h0m3-30h0m4 17h0m4-3h0m3-26h0m4 15h0m4 2h0m3-13h0m4 0h0m4-6h0m3 27h0m4 0h0m4-5h0m3-7h0m4 2h0m4-5h0m4 0h0m3-11h0m4 32h0m4-23h0m3 7h0m4-10h0m4 1h0m3-7h0m4 14h0m4-6h0m3 6h0m4 7h0m4-15h0m3 3h0m4 5h0m4-10h0m3-17h0m4 20h0m4-1h0m3-11h0m4 14h0m4-15h0m3 5h0m4 7h0m4-12h0m3 7h0m4-10h0m4 7h0m4 14h0m3-21h0m4-11h0m4 17h0m3-2h0m4 8h0m4-26h0m3 5h0m4 7h0m4-14h0m3 20h0m4-26h0m4-3h0m3 7h0m4 7h0m4 9h0m3 1h0m4-4h0m4-9h0m3-14h0m4 22h0m4-29h0m3 20h0m4 0h0m4-2h0m3 9h0m4-37h0m4 47h0m3-12h0m4-4h0m4-17h0m4 23h0m3-27h0m4 35h0m4-29h0m3 12h0m4-9h0m4-7h0m3 14h0m4-11h0m4-14h0m3 27h0m4-11h0m4 9h0m3-18h0m4-8h0m4 3h0m3 10h0m4 25h0m4-57h0m3 26h0m4 13h0m4 11h0m3-19h0m4 4h0m4-20h0m3 4h0m4-2h0m4 1h0m4 20h0m3-12h0m4-9h0m4 5h0m3-13h0m4 11h0m4-13h0m3 17h0m4 2h0m4-25h0m3 17h0m4-3h0m4-10h0m3 6h0m4-2h0m4 13h0m3-6h0m4-8h0m4 5h0m3 5h0m4-10h0m4 14h0m3-21h0m4-6h0m4 2h0m3 4h0m4-36h0m4 42h0m4-8h0m3 17h0m4-19h0m4 15h0m3-22h0m4 2h0m4 10h0m3-7h0m4 5h0m4-5h0m3-10h0m4 7h0m4 9h0m3-26h0m4 8h0m4 4h0m3 6h0m4-12h0m4-9h0m3 20h0m4-11h0m4 13h0m3-9h0m4 5h0m4-6h0m3 3h0m4-18h0m4 18h0m4-20h0m3-3h0m4 7h0m4-20h0m3 27h0m4 1h0m4-18h0m3 16h0m4-8h0m4-10h0m3 17h0m4-16h0m4-6h0m3 19h0m4 0h0m4-15h0m3 15h0m4-1h0m4-24h0m3 13h0m4-2h0m4 2h0m3-25h0m4 27h0m4-13h0" stroke="#009e73" stroke-width="14.0" stroke-linecap="round" fill="none"/>
<path transform="scale(.1)" d="M652 3385h0m67-23h0" stroke="#009e73" stroke-width="14.0" stroke-linecap="round" fill="none"/>
</g>
<g>
<rect x="141.70" y="279.75" width="100.45" height="78.85" fill="none" stroke="#8a8a8a" stroke-width="0.35"/>
<text transform="translate(141.70 362.80) scale(.1)" text-anchor="middle">0</text>
<text transform="translate(152.86 362.80) scale(.1)" text-anchor="middle">500</text>
<text transform="translate(164.02 362.80) scale(.1)" text-anchor="middle">1000</text>
<text transform="translate(175.18 362.80) scale(.1)" text-anchor="middle">1500</text>
<text transform="translate(186.34 362.80) scale(.1)" text-anchor="middle">2000</text>
<text transform="translate(197.51 362.80) scale(.1)" text-anchor="middle">2500</text>
<text transform="translate(208.67 362.80) scale(.1)" text-anchor="middle">3000</text>
<text transform="translate(219.83 362.80) scale(.1)" text-anchor="middle">3500</text>
<text transform="translate(230.99 362.80) scale(.1)" text-anchor="middle">4000</text>
<text transform="translate(242.15 362.80) scale(.1)" text-anchor="middle">4500</text>
<text transform="translate(138.80 359.65) scale(.1)" text-anchor="end">0</text>
<text transform="translate(138.80 352.48) scale(.1)" text-anchor="end">0.0002</text>
<text transform="translate(138.80 345.31) scale(.1)" text-anchor="end">0.0004</text>
<text transform="translate(138.80 338.15) scale(.1)" text-anchor="end">0.0006</text>
<text transform="translate(138.80 330.98) scale(.1)" text-anchor="end">0.0008</text>
<text transform="translate(138.80 323.81) scale(.1)" text-anchor="end">0.001</text>
<text transform="translate(138.80 316.64) scale(.1)" text-anchor="end">0.0012</text>
<text transform="translate(138.80 309.47) scale(.1)" text-anchor="end">0.0014</text>
<text transform="translate(138.80 302.30) scale(.1)" text-anchor="end">0.0016</text>
<text transform="translate(138.80 295.14) scale(.1)" text-anchor="end">0.0018</text>
<text transform="translate(138.80 287.97) scale(.1)" text-anchor="end">0.002</text>
<text transform="translate(138.80 280.80) scale(.1)" text-anchor="end">0.0022</text>
<path d="M152.86 358.60v-1M152.86 279.75v1M164.02 358.60v-1M164.02 279.75v1M175.18 358.60v-1M175.18 279.75v1M186.34 358.60v-1M186.34 279.75v1M197.51 358.60v-1M197.51 279.75v1M208.67 358.60v-1M208.67 279.75v1M219.83 358.60v-1M219.83 279.75v1M230.99 358.60v-1M230.99 279.75v1M141.70 351.43h1M242.15 351.43h-1M141.70 344.26h1M242.15 344.26h-1M141.70 337.10h1M242.15 337.10h-1M141.70 329.93h1M242.15 329.93h-1M141.70 322.76h1M242.15 322.76h-1M141.70 315.59h1M242.15 315.59h-1M141.70 308.42h1M242.15 308.42h-1M141.70 301.25h1M242.15 301.25h-1M141.70 294.09h1M242.15 294.09h-1M141.70 286.92h1M242.15 286.92h-1" stroke="#8a8a8a" stroke-width="0.3" fill="none"/>
<polygon points="141.6,352.6 159.4,337.3 181.7,320.6 210,300.5 231.5,285.4 231.5,289.5 210,304.4 141.6,352.8" fill="#9400d3" stroke="none"/>
<path transform="scale(.1)" d="M1416 3522h0m3-2h0m3-8h0m4 4h0m2 0h0m6-13h0m2 4h0m3-4h0m2-3h0m0 3h0m1-6h0m3 4h0m2-8h0m1 4h0m0 1h0m1-4h0m1-1h0m1 1h0m2 0h0m4-3h0m3-2h0m2-10h0m8 1h0m3-5h0m2-1h0m1 2h0m3-3h0m8-8h0m9-9h0m13-11h0m2-4h0m3-3h0m3 2h0m2-3h0m0 2h0m3-4h0m3-7h0m0 5h0m7-6h0m1-7h0m0 5h0m2-9h0m0 6h0m0 1h0m2-5h0m1 4h0m3-11h0m7-7h0m2 7h0m0 1h0m1-1h0m0 1h0m5-5h0m1-7h0m0 1h0m0 2h0m4 0h0m1-1h0m5-15h0m7 4h0m2-5h0m3 0h0m1 1h0m12-15h0m7-11h0m0 10h0m6-5h0m2-3h0m2-2h0m0 1h0m2-9h0m0 4h0m2-1h0m8-10h0m0 3h0m1 1h0m8-2h0m5-5h0m3-9h0m2-8h0m1 11h0m2-7h0m6 1h0m4-5h0m6-10h0m0 6h0m1 0h0m0 1h0m3-10h0m1 9h0m6-15h0m2 9h0m5-9h0m0 3h0m1-6h0m0 2h0m0 3h0m7-4h0m1-2h0m5-5h0m5-3h0m1 0h0m1-5h0m11-12h0m6 0h0m1 2h0m1-7h0m3 1h0m3 1h0m0 3h0m3-5h0m2 0h0m5-8h0m0 3h0m2-1h0m0 1h0m5-13h0m4 6h0m1-2h0m5-2h0m7-7h0m0 1h0m2-1h0m1 0h0m2-12h0m0 10h0m1 0h0m3-3h0m1-5h0m1 4h0m3-9h0m4 1h0m2 0h0m2-1h0m7-8h0m4-3h0m0 1h0m4 0h0m1-7h0m2 1h0m2 2h0m2-11h0m3-1h0m3-2h0m1 7h0m4-11h0m4 5h0m3-10h0m1 3h0m2 2h0m1-7h0m0 7h0m1-8h0m2-1h0m2 3h0m0 1h0m4-3h0m5-9h0m1 5h0m4-7h0m2 2h0m1-1h0m0 2h0m2-1h0m7-7h0m4-1h0m1-2h0m1-3h0m0 3h0m0 1h0m6-7h0m2 1h0m1-5h0m2-3h0m0 2h0m2 1h0m1-1h0m6-9h0m0 1h0m1 4h0m12-11h0m5-6h0m0 2h0m1-3h0m0 6h0m1-2h0m12-22h0m1 10h0m3-1h0m1 1h0m4-4h0m1-3h0m2-8h0m0 7h0m1 3h0m2-9h0m0 6h0m1-9h0m6 0h0m3-2h0m1-2h0m0 8h0m7-8h0m2-1h0m1-4h0m5 2h0m9-8h0m3-4h0m8-9h0m2 2h0m2 0h0m3-5h0m0 4h0m1-5h0m8 0h0m9-15h0m3-1h0m4 1h0m8-9h0m0 5h0m1-1h0m2-4h0m0 2h0m1-3h0m1 2h0m4-3h0m3-4h0m2 2h0m0 1h0m2-11h0m0 8h0m3-15h0m6-1h0m1 0h0m1-4h0m1 6h0m0 5h0m3-4h0m1-5h0m1 2h0m1 0h0m2 3h0m9-7h0m3-2h0m2-2h0m3-5h0m0 2h0m7-5h0m1-1h0m7-7h0m0 1h0m1 1h0m2-5h0m0 5h0m4-8h0m0 4h0m1 0h0m4-6h0m0 3h0m1-4h0m0 2h0m1-3h0m5-8h0m3-2h0m8-6h0m0 2h0m2-4h0m0 1h0m0 8h0m4-8h0m8 0h0m2-6h0m2-3h0m6-8h0m0 4h0m2-1h0m5-4h0m1 4h0m2-2h0m1-5h0m2-3h0m3-1h0m0 7h0m6-12h0m1 3h0m7-6h0m1 1h0m1-1h0m0 3h0m2-10h0m2 7h0m4-7h0m6-3h0m0 3h0m1-5h0m2-1h0m4 2h0m5-8h0m13-10h0m0 2h0m2-8h0m2 6h0m0 2h0m6-8h0m4 1h0m1-2h0m3-1h0m3-7h0m0 5h0m2-12h0m3-1h0m0 6h0m1-4h0m0 2h0m0 1h0m1 4h0m3-7h0m7-1h0m3-2h0m2-2h0m2-3h0m1-5h0m1 5h0m4-12h0m1 10h0m2-12h0m1 7h0m1-10h0m0 7h0m4-1h0m11-7h0m2-4h0m1-5h0m5 1h0m3-6h0m1 7h0m3-4h0m0 2h0m2-1h0m3-8h0m6-1h0m4-2h0m2 0h0m2-7h0" stroke="#9400d3" stroke-width="14.0" stroke-linecap="round" fill="none"/>
<path transform="scale(.1)" d="M1427 3520h0m0 1h0m5-5h0m4-3h0m2-1h0m2-2h0m7-3h0m4-5h0m7-5h0m13-8h0m14-10h0m3-2h0m12-9h0m16-12h0m5-3h0m4-2h0m10-8h0m10-6h0m6-5h0m1 0h0m4-5h0m0 1h0m9-5h0m1-1h0m4-4h0m11-8h0m3-2h0m9-6h0m1-1h0m5-3h0m2-2h0m0 3h0m7-6h0m7-7h0m3-1h0m14-11h0m5-3h0m6-5h0m3-1h0m9-6h0m4-4h0m7-4h0m3-2h0m3-3h0m0 3h0m1-4h0m2-1h0m2-1h0m8-5h0m4-4h0m7-4h0m1 1h0m6-6h0m1-2h0m7-5h0m1 3h0m4-7h0m10-6h0m1 0h0m21-15h0m5-4h0m15-10h0m7-6h0m8-5h0m8-7h0m10-7h0m4-3h0m5-2h0m10-7h0m1 0h0m18-14h0m2-1h0m7-6h0m6-4h0m5-3h0m7-3h0m3-4h0m7-5h0m7-5h0m2-1h0m10-7h0m2 0h0m2-4h0m3-1h0m5-5h0m18-12h0m1 0h0m0 1h0m3-4h0m0 1h0m2-2h0m27-18h0m11-8h0m2-1h0m1-3h0m6-4h0m4-1h0m9-8h0m8-5h0m6-5h0m1 1h0m1-3h0m2 0h0m12-9h0m0 3h0m6-7h0m17-12h0m5-2h0m6-6h0m2-2h0m1 1h0m3-3h0m27-19h0m2-1h0m15-10h0m5-5h0m0 1h0m5-5h0m3-2h0m1 2h0m12-10h0m2-2h0m3-1h0m3-3h0m11-6h0m3-3h0m1-1h0m1-1h0m1-1h0m2-1h0m9-6h0m17-12h0m2-1h0m6-4h0m12-9h0m0 2h0m1-2h0m5-5h0m0 1h0m6-4h0m0 2h0m8-8h0m7-3h0m1-2h0m2-1h0m1 0h0m2-2h0m1-2h0m1 1h0m1-2h0m7-5h0m3 0h0m9-8h0m2-1h0m1-1h0m0 2h0m2-1h0m8-6h0m2-1h0m2-4h0m1 0h0m5-5h0m3 0h0m2-3h0m2-2h0m0 2h0m2-2h0m1 0h0m15-11h0" stroke="#9400d3" stroke-width="14.0" stroke-linecap="round" fill="none"/>
<path transform="scale(.1)" d="M1433 3507h0m6-6h0m8-9h0m19-10h0m59-66h0m5-15h0m10 12h0m3-1h0m4-6h0m0 2h0m3 1h0m7-25h0m29-8h0m11-14h0m13-5h0m38-34h0m1 4h0m1-3h0m3-6h0m2 5h0m9-14h0m4 1h0m2-5h0m25-15h0m5-1h0m25-17h0m5-39h0m4 33h0m4-11h0m10-33h0m26 11h0m10-8h0m20-12h0m11-9h0m7-4h0m37-25h0m2-9h0m5 2h0m34-24h0m10-5h0m9-9h0m9-9h0m11-4h0m6-5h0m40-26h0m5-13h0m1 1h0m16-8h0m4-9h0m3-51h0m1 49h0m0 1h0m6-58h0m0 58h0m1 1h0m22-22h0m18-51h0m4 41h0m4-35h0m2-9h0m3 25h0m4-5h0m1 15h0m15-15h0m13-5h0m34-73h0m3 15h0m8 9h0m5-37h0m11 31h0m2 9h0m8-63h0m1 40h0m18-55h0m25 36h0m1 0h0m2 1h0m1-24h0m43-27h0m4-11h0m3 1h0m14-19h0m3 29h0m5 5h0m0 1h0m2-65h0m4 59h0m4-19h0m1-1h0m4-21h0" stroke="#9400d3" stroke-width="14.0" stroke-linecap="round" fill="none"/>
<path transform="scale(.1)" d="M1594 3328h0m10 14h0m101-158h0m13 44h0m10-100h0m43 56h0m214-223h0m54 56h0m123-117h0m24-56h0m43 40h0m74-67h0" stroke="#9400d3" stroke-width="14.0" stroke-linecap="round" fill="none"/>
<polygon points="141.6,353.1 210,316.1 231.5,305 231.5,308.6 210,318.9 141.6,353.3" fill="#009e73" stroke="none"/>
<path transform="scale(.1)" d="M1417 3524h0m1 6h0m8-4h0m1 1h0m6-9h0m2-7h0m4 6h0m5 0h0m1-4h0m0 4h0m9-8h0m1-4h0m1 1h0m3-4h0m6-1h0m7-1h0m1-3h0m7 0h0m1-7h0m2 4h0m0 1h0m1-2h0m2 1h0m1 0h0m10-16h0m7 3h0m4-8h0m0 4h0m3 0h0m3 0h0m1-3h0m0 2h0m4-3h0m1 3h0m3-3h0m0 1h0m3-6h0m2-9h0m2 5h0m0 6h0m4-8h0m1 3h0m1-4h0m3 1h0m6-6h0m6-3h0m1 2h0m1 2h0m4-3h0m0 2h0m1-1h0m8-4h0m2-6h0m4-5h0m6 3h0m2-5h0m1 3h0m4-4h0m3 1h0m2-1h0m1-4h0m8-10h0m1 2h0m1 1h0m0 5h0m0 2h0m1-6h0m0 5h0m4-4h0m1-6h0m0 7h0m10-6h0m2-11h0m5 1h0m1 5h0m4-5h0m9-5h0m0 2h0m0 2h0m2-5h0m0 1h0m3-3h0m10-3h0m1 1h0m1-3h0m0 2h0m3-2h0m1-8h0m2 3h0m2 1h0m7-6h0m3-4h0m3-4h0m3 8h0m1-3h0m1 0h0m0 1h0m6-9h0m2 4h0m2-5h0m2 3h0m2-9h0m0 9h0m3-2h0m1 1h0m2-7h0m1 0h0m0 5h0m3-11h0m1-1h0m11 1h0m3-3h0m1 0h0m4-2h0m2-4h0m2 5h0m2-8h0m3 3h0m2-3h0m6 1h0m3-13h0m1 2h0m1 6h0m3-5h0m1 5h0m1-6h0m4 4h0m3-7h0m0 3h0m1-6h0m0 7h0m5-6h0m3 2h0m7-8h0m2-5h0m2-1h0m2 1h0m5 1h0m0 2h0m1-8h0m6 5h0m1-6h0m3-4h0m4 4h0m4-4h0m8-2h0m3-3h0m1-3h0m2 1h0m1-6h0m2-3h0m1 4h0m0 3h0m1 0h0m1-9h0m4 4h0m1 4h0m8-6h0m3-2h0m5-2h0m3-2h0m1 0h0m1-8h0m2 4h0m1-5h0m2 5h0m1-3h0m3-1h0m1 1h0m1-3h0m1 3h0m2-5h0m2-2h0m4 0h0m1-2h0m8-3h0m2 2h0m10-6h0m5-8h0m0 4h0m3-3h0m1 2h0m2-4h0m10-7h0m2 0h0m1 0h0m4-4h0m2 4h0m3-2h0m2-3h0m11-3h0m5-6h0m1 2h0m7-16h0m0 10h0m1 0h0m1 0h0m2-3h0m0 1h0m0 1h0m4-5h0m0 1h0m5 0h0m1-4h0m6-4h0m10-8h0m0 7h0m1-6h0m1-6h0m1 6h0m2-2h0m2 3h0m4-6h0m3 1h0m0 1h0m1 2h0m2-1h0m5-8h0m0 1h0m0 2h0m6-6h0m0 4h0m6-6h0m0 3h0m3-4h0m1 0h0m8-11h0m4 5h0m3-5h0m0 4h0m1-1h0m9-10h0m3 1h0m0 2h0m4-4h0m1 1h0m2 0h0m6-6h0m1 3h0m2-1h0m2-9h0m4 7h0m2-5h0m8-11h0m0 7h0m1-7h0m1 9h0m3-9h0m0 3h0m1 3h0m3-2h0m1-5h0m2-6h0m0 3h0m0 5h0m0 2h0m3-2h0m3-10h0m3 2h0m2 1h0m2 1h0m1-4h0m3-1h0m1 2h0m0 1h0m5-11h0m3 7h0m2-1h0m0 1h0m2-13h0m0 7h0m1 1h0m6-6h0m3 4h0m3-4h0m0 1h0m1-2h0m3-8h0m3 2h0m2 3h0m4 0h0m1 0h0m2-10h0m2 7h0m4-3h0m1 0h0m3-5h0m3 2h0m7-3h0m9-8h0m0 1h0m1-4h0m2 4h0m6-2h0m1-4h0m2-7h0m3 7h0m4-7h0m6-1h0m1 3h0m2-1h0m1 0h0m1-2h0m2-6h0m0 3h0m1-13h0m1 15h0m1 0h0m7-5h0m2-1h0m2-3h0m5-7h0m1 6h0m1-1h0m2-9h0m3 7h0m2-9h0m4-3h0m6 1h0m1-9h0m1 6h0m0 6h0m1-5h0m3 1h0m1 2h0m1-10h0m0 10h0m4-5h0m2 2h0m12-11h0m0 2h0m4 1h0m4-6h0m8-6h0m1-4h0m0 1h0m3 2h0m0 1h0m4 1h0m3-2h0m3-2h0m1-3h0m6-3h0" stroke="#009e73" stroke-width="14.0" stroke-linecap="round" fill="none"/>
<path transform="scale(.1)" d="M1421 3530h0m1 1h0m10-6h0m3-3h0m3 0h0m4-4h0m2 3h0m1-3h0m11-5h0m4-2h0m2-1h0m4-4h0m1 0h0m12-6h0m3-1h0m2 0h0m24-13h0m1 1h0m7-4h0m11-7h0m29-12h0m1-3h0m0 3h0m3-4h0m2-2h0m5-2h0m2 0h0m3-3h0m0 1h0m3-2h0m1 1h0m8-6h0m9-4h0m13-5h0m5-3h0m2-1h0m2-1h0m2-2h0m9-4h0m4-2h0m22-9h0m2-4h0m2 0h0m3 0h0m1-1h0m6-5h0m4 0h0m1-1h0m5-4h0m6-1h0m11-7h0m5-3h0m6 0h0m1-3h0m4-3h0m8-3h0m10-5h0m7-4h0m6-2h0m8-5h0m8-4h0m0 1h0m8-4h0m1-1h0m1 0h0m7-3h0m27-15h0m1 0h0m6-4h0m29-14h0m4-3h0m7 0h0m6-6h0m3 0h0m4-3h0m3 0h0m3-4h0m14-5h0m0 2h0m4-5h0m4-2h0m5-2h0m2-2h0m1 0h0m2 1h0m11-7h0m2-2h0m3 1h0m3-2h0m3-3h0m3 0h0m6-5h0m1-1h0m9-4h0m0 2h0m8-7h0m2 0h0m5-3h0m3 0h0m15-9h0m3 1h0m5-2h0m3-2h0m10-8h0m4-2h0m2 0h0m3 0h0m1-2h0m7-4h0m4-1h0m0 1h0m1-3h0m10-4h0m1 0h0m11-7h0m2 0h0m5 0h0m4-5h0m1-1h0m8-2h0m1 0h0m3-3h0m0 1h0m0 1h0m6-5h0m7-3h0m10-5h0m3-3h0m4-1h0m11-5h0m5-2h0m3-3h0m1 2h0m6-4h0m10-6h0m7-2h0m1-2h0m4-2h0m4 0h0m2 0h0m1-3h0m8-4h0m0 1h0m1-1h0m22-10h0m15-7h0m4-1h0m2-3h0m0 2h0m1-2h0m16-8h0m2 1h0m1 0h0m11-8h0m2-1h0m0 2h0m4-4h0m8-4h0m4 1h0m2-4h0m0 1h0m9-4h0m5-3h0m23-10h0m2-1h0m1-1h0m11-6h0m4-1h0" stroke="#009e73" stroke-width="14.0" stroke-linecap="round" fill="none"/>
<path transform="scale(.1)" d="M1418 3528h0m1 0h0m1-2h0m1-1h0m10-12h0m6-3h0m11-4h0m3 6h0m2-2h0m3-2h0m1-12h0m4 7h0m9-10h0m13-7h0m1 3h0m4-2h0m2-1h0m19-14h0m36-23h0m4 10h0m3-6h0m5-20h0m6 8h0m3 4h0m21-7h0m16-9h0m2 0h0m1-2h0m5-3h0m12-9h0m2-15h0m15 8h0m1-8h0m6 2h0m9-9h0m13-18h0m4-5h0m11 11h0m10-9h0m0 2h0m2 5h0m1-14h0m7 10h0m4-12h0m0 4h0m8-2h0m2-19h0m0 18h0m7-9h0m2-9h0m10 7h0m1-17h0m0 19h0m1-17h0m19 1h0m11-16h0m1 11h0m9-26h0m4 7h0m5 2h0m15-10h0m6-7h0m0 16h0m7-6h0m4-8h0m2-11h0m0 20h0m3-1h0m3-7h0m6-3h0m15-23h0m15 10h0m16-10h0m4 1h0m7-7h0m5-11h0m21-12h0m10 3h0m14-21h0m7 9h0m1-4h0m1-18h0m3 10h0m19 3h0m5-32h0m5 27h0m6-6h0m3-1h0m1-18h0m0 4h0m10 9h0m4-23h0m3 13h0m8-1h0m7 0h0m10-34h0m8-3h0m3 24h0m2-21h0m1 18h0m9-37h0m0 14h0m2 2h0m4 16h0m9-5h0m36-63h0m38 23h0m4-8h0m25-7h0m1-17h0m2-8h0m3 16h0m2-12h0m2 16h0m7-6h0m1-21h0m5 7h0m3-1h0m9-21h0m1 5h0m5-20h0m11 27h0m5-148h0m0 147h0m2-16h0m15 11h0m21-22h0m0 14h0m18-21h0m15-1h0" stroke="#009e73" stroke-width="14.0" stroke-linecap="round" fill="none"/>
<path transform="scale(.1)" d="M2196 3057h0m53-33h0m54-40h0m6 20h0" stroke="#009e73" stroke-width="14.0" stroke-linecap="round" fill="none"/>
</g>
<g>
<rect x="269.90" y="279.75" width="98.90" height="78.85" fill="none" stroke="#8a8a8a" stroke-width="0.35"/>
<text transform="translate(269.90 362.80) scale(.1)" text-anchor="middle">0</text>
<text transform="translate(280.89 362.80) scale(.1)" text-anchor="middle">500</text>
<text transform="translate(291.88 362.80) scale(.1)" text-anchor="middle">1000</text>
<text transform="translate(302.87 362.80) scale(.1)" text-anchor="middle">1500</text>
<text transform="translate(313.86 362.80) scale(.1)" text-anchor="middle">2000</text>
<text transform="translate(324.84 362.80) scale(.1)" text-anchor="middle">2500</text>
<text transform="translate(335.83 362.80) scale(.1)" text-anchor="middle">3000</text>
<text transform="translate(346.82 362.80) scale(.1)" text-anchor="middle">3500</text>
<text transform="translate(357.81 362.80) scale(.1)" text-anchor="middle">4000</text>
<text transform="translate(368.80 362.80) scale(.1)" text-anchor="middle">4500</text>
<text transform="translate(267.00 359.65) scale(.1)" text-anchor="end">0</text>
<text transform="translate(267.00 349.79) scale(.1)" text-anchor="end">0.00005</text>
<text transform="translate(267.00 339.94) scale(.1)" text-anchor="end">0.0001</text>
<text transform="translate(267.00 330.08) scale(.1)" text-anchor="end">0.00015</text>
<text transform="translate(267.00 320.23) scale(.1)" text-anchor="end">0.0002</text>
<text transform="translate(267.00 310.37) scale(.1)" text-anchor="end">0.00025</text>
<text transform="translate(267.00 300.51) scale(.1)" text-anchor="end">0.0003</text>
<text transform="translate(267.00 290.66) scale(.1)" text-anchor="end">0.00035</text>
<text transform="translate(267.00 280.80) scale(.1)" text-anchor="end">0.0004</text>
<path d="M280.89 358.60v-1M280.89 279.75v1M291.88 358.60v-1M291.88 279.75v1M302.87 358.60v-1M302.87 279.75v1M313.86 358.60v-1M313.86 279.75v1M324.84 358.60v-1M324.84 279.75v1M335.83 358.60v-1M335.83 279.75v1M346.82 358.60v-1M346.82 279.75v1M357.81 358.60v-1M357.81 279.75v1M269.90 348.74h1M368.80 348.74h-1M269.90 338.89h1M368.80 338.89h-1M269.90 329.03h1M368.80 329.03h-1M269.90 319.18h1M368.80 319.18h-1M269.90 309.32h1M368.80 309.32h-1M269.90 299.46h1M368.80 299.46h-1M269.90 289.61h1M368.80 289.61h-1" stroke="#8a8a8a" stroke-width="0.3" fill="none"/>
<polygon points="270,347.5 284.4,339.2 295.6,332.2 315.3,320.8 326.4,314.1 337.6,306.8 348.7,300.1 355.4,295.7 358.3,291.7 359,295.4 356.5,302.1 348.7,308.5 337.6,315.2 326.4,321.9 315.3,327.5 304.1,333.5 295.6,339.7 284.4,345.2 270,351.2" fill="#9400d3" stroke="none"/>
<path transform="scale(.1)" d="M2701 3470h0m3 1h0m4 0h0m2-8h0m0 7h0m4-3h0m3-6h0m1-1h0m2 1h0m0 2h0m2-6h0m0 3h0m4-17h0m0 2h0m1 6h0m5-7h0m2 5h0m0 1h0m2 1h0m3-12h0m1 1h0m1 4h0m4-3h0m2 2h0m0 5h0m3-2h0m1-4h0m1 4h0m1-7h0m0 4h0m1-5h0m1-5h0m1 9h0m1 0h0m1-14h0m0 9h0m1-1h0m2 4h0m2-10h0m1 4h0m1-3h0m3 2h0m1-1h0m4-4h0m5-6h0m1 4h0m0 1h0m0 1h0m2-3h0m0 1h0m0 3h0m2-13h0m0 4h0m2 0h0m0 3h0m1-11h0m1 9h0m3 3h0m3-5h0m0 1h0m4-11h0m0 8h0m6-10h0m5 1h0m1-5h0m2 9h0m2-12h0m0 3h0m7 1h0m2-3h0m1-8h0m1 7h0m0 3h0m2-1h0m1-16h0m0 5h0m0 7h0m0 4h0m1-4h0m1 0h0m3-5h0m6-4h0m0 6h0m2-7h0m0 6h0m1-8h0m3-2h0m1 7h0m2-3h0m0 2h0m1-3h0m1-15h0m4 13h0m1-10h0m2 3h0m0 1h0m1-4h0m0 9h0m4-13h0m0 9h0m2-8h0m3 5h0m2 1h0m1-7h0m0 2h0m7-2h0m1-9h0m0 6h0m0 3h0m0 1h0m1-6h0m1-2h0m2-3h0m1 4h0m5 1h0m1-6h0m1 5h0m1-18h0m2 12h0m1 3h0m1-3h0m5-10h0m3-4h0m1 11h0m1-11h0m1 9h0m2-1h0m8-9h0m1-6h0m0 4h0m0 5h0m3-9h0m0 4h0m2-1h0m2-12h0m0 13h0m4-8h0m4 0h0m3-7h0m1 0h0m0 5h0m1-11h0m1 6h0m1 2h0m1 1h0m1-7h0m2-7h0m1 4h0m0 11h0m1-6h0m1-2h0m1-8h0m0 6h0m1 0h0m4-10h0m1 1h0m0 4h0m3 3h0m0 1h0m1-2h0m4 1h0m1-9h0m3-8h0m0 10h0m4-2h0m6-16h0m1 10h0m4-9h0m0 13h0m4-20h0m3-1h0m4 8h0m1 2h0m0 2h0m3-4h0m0 1h0m1-1h0m5-4h0m1-2h0m0 7h0m0 1h0m2-2h0m1-2h0m2-5h0m0 2h0m1-5h0m0 7h0m2-6h0m1-1h0m5-11h0m4 10h0m1 0h0m6-11h0m3-2h0m0 7h0m2-5h0m3-3h0m6-7h0m0 9h0m5-11h0m2 4h0m1-10h0m0 13h0m1-8h0m2 3h0m3-7h0m2-4h0m1 1h0m0 8h0m0 1h0m2-9h0m1 1h0m1-6h0m0 7h0m1 0h0m0 1h0m1-5h0m0 2h0m4 5h0m1-6h0m4-2h0m1-1h0m2-2h0m1 0h0m6-8h0m3-3h0m1-2h0m0 8h0m0 2h0m6-5h0m2-6h0m3 6h0m5-5h0m6-17h0m0 6h0m0 5h0m1-3h0m3-2h0m0 5h0m0 5h0m6-12h0m2-1h0m4-9h0m1 8h0m1-15h0m0 17h0m0 2h0m0 2h0m1-6h0m1 0h0m1 1h0m0 2h0m1-4h0m1-19h0m0 19h0m5-17h0m3 11h0m0 2h0m8-4h0m4-10h0m2 0h0m4 4h0m7-4h0m1-1h0m0 3h0m2-2h0m1 0h0m1-16h0m0 15h0m0 1h0m3-12h0m1 9h0m2-7h0m0 2h0m1-16h0m0 11h0m0 1h0m1-5h0m2 5h0m3-2h0m5 3h0m5-14h0m4 1h0m4 5h0m3-19h0m1 16h0m3-5h0m1-9h0m1-2h0m4 1h0m0 4h0m1 1h0m1-16h0m1 15h0m1 3h0m1-7h0m9-5h0m3 5h0m1-3h0m5-4h0m0 1h0m2-5h0m4 0h0m1-2h0m0 4h0m4-5h0m1 0h0m3-1h0m1 2h0m2-20h0m3 10h0m5-13h0m0 11h0m1 1h0m3-4h0m2-6h0m2 4h0m3-4h0m6-7h0m3 3h0m3-9h0m1-5h0m6-5h0m3 6h0m2-6h0m0 11h0m4-3h0m1-1h0m1-7h0m0 5h0m0 3h0m0 1h0m4-1h0m1-12h0m1 7h0m1-8h0m0 10h0m4-2h0m4-8h0m1-5h0m1 3h0m1 5h0m1-10h0m3 2h0m3-3h0m3 2h0m2 2h0m3-16h0m1 10h0m0 2h0m4-4h0m1-3h0m2 1h0m1-9h0m5 1h0m3 4h0m1-1h0m1 1h0m1-2h0m1-5h0m1-10h0m1 14h0m1-9h0m1-5h0m0 13h0m9-18h0m0 9h0m1-3h0m1 1h0m2-3h0m3-9h0m3 8h0m7-14h0m2 3h0m1 1h0m1 3h0m1 2h0m1-1h0m3-8h0m1 5h0m1-4h0m2-14h0m2 11h0m1-5h0m0 3h0m1-6h0m1 4h0m2-5h0m0 4h0m0 1h0m1 6h0m2-16h0m0 6h0m3-8h0m1 6h0m1 7h0m4-10h0m0 3h0m7-3h0m0 2h0m1-2h0m3-2h0m1-5h0m0 6h0m1-9h0m1 4h0m0 5h0m9-5h0m1 0h0m1-5h0m1 2h0m8-3h0m3-7h0m0 2h0m5-1h0m10-9h0m0 3h0m0 1h0m1-10h0m2 7h0m7-8h0m4 3h0m2-8h0m2-7h0m3 6h0m1-3h0m1-3h0m0 5h0m0 2h0m0 1h0m1-14h0m3 0h0m0 8h0m3 0h0m0 2h0m2-6h0m1-2h0m2-4h0m0 1h0m2 3h0m0 3h0m3-2h0m2-4h0m4-6h0m1 5h0m2-4h0m3-4h0m1 0h0m2-5h0m1-11h0m4 3h0m0 11h0m1-14h0m3 10h0m0 4h0m5-6h0m1-5h0m2-1h0m0 3h0m2 2h0m4-18h0m1 2h0m2-4h0m2 1h0m0 12h0m2-4h0m2-7h0m0 2h0m2-7h0m1-1h0m0 4h0m2-6h0m0 1h0m2 0h0m2-5h0m2-6h0m0 4h0m1-6h0m1 3h0m0 5h0m4-14h0m1 1h0m0 4h0m2-7h0m1 0h0m1-5h0" stroke="#9400d3" stroke-width="14.0" stroke-linecap="round" fill="none"/>
<path transform="scale(.1)" d="M2700 3512h0m1-2h0m2 2h0m2-3h0m16-5h0m2 6h0m1-4h0m9-5h0m1-4h0m14 2h0m1-4h0m1 2h0m4-8h0m12-5h0m0 1h0m0 9h0m3-7h0m5-7h0m1 3h0m1-3h0m0 1h0m5 1h0m12 0h0m2-8h0m4 1h0m1-6h0m1 3h0m3-2h0m2 0h0m1-4h0m4 4h0m4-7h0m4 6h0m4-2h0m1-7h0m2 3h0m4-6h0m3-1h0m1 0h0m0 2h0m2 1h0m7-5h0m6 2h0m2-9h0m2 0h0m3 0h0m3 1h0m7-2h0m3-6h0m1-2h0m8-3h0m1 9h0m3-11h0m3 2h0m0 2h0m3-1h0m8-10h0m11-5h0m2 8h0m3-9h0m6 1h0m13-13h0m0 8h0m4-9h0m4-2h0m2 3h0m0 5h0m1-5h0m1 0h0m0 1h0m4-4h0m0 3h0m1-8h0m1 7h0m3 0h0m1-9h0m2 1h0m4-3h0m2-4h0m0 4h0m9-8h0m15-12h0m1-2h0m4 1h0m1-4h0m8-4h0m4 2h0m2-9h0m2-1h0m2-2h0m4 2h0m1-3h0m0 3h0m7-4h0m1-4h0m1-3h0m4 5h0m3-11h0m0 1h0m6 2h0m5-9h0m1 1h0m6-6h0m1-1h0m11-6h0m4-1h0m1 3h0m2-3h0m2 3h0m2-6h0m3-3h0m4-1h0m2-2h0m1 1h0m3-2h0m2-1h0m14-7h0m1 0h0m3 0h0m16-14h0m1 0h0m0 8h0m1-7h0m3 3h0m4-2h0m3-3h0m8-7h0m0 2h0m1-5h0m1 1h0m1 0h0m3 4h0m9-7h0m8-10h0m1 12h0m1-12h0m3 2h0m22-12h0m10-5h0m3 0h0m3-5h0m20-10h0m2 0h0m1 3h0m2-1h0m7-6h0m1-3h0m4-3h0m1 1h0m2 1h0m2-4h0m4 2h0m10-9h0m3 2h0m2-3h0m7-2h0m2-5h0m4 3h0m1-1h0m2-2h0m0 4h0m4-9h0m12-8h0m1-1h0m0 1h0m1-3h0m6-3h0m7 0h0m2-5h0m0 3h0m1-2h0m1-1h0m1 6h0m1-7h0m8-3h0m0 1h0m8-7h0m19-7h0m1-7h0m3 6h0m3-7h0m7-5h0m3 2h0m3-4h0m1-2h0m2-3h0m0 1h0m1 4h0m7-9h0m1 1h0m6-3h0m5-2h0m9-10h0m0 3h0m3 1h0m2-6h0m7-4h0m0 5h0m4-4h0m4-5h0m5-1h0m1-3h0m0 1h0m0 3h0m3-6h0m0 3h0m4 3h0m1-1h0m1-7h0m2 3h0m5-10h0m3 0h0m1-2h0m4-3h0m2 9h0m8-9h0m0 1h0m3-7h0m5 2h0m2-1h0m6-6h0m1-5h0m7-4h0m5-4h0m3-1h0m1 0h0m6-3h0m5-9h0m4 0h0m0 4h0m4-8h0m2-2h0m0 2h0m4-3h0m0 5h0m4-11h0m1 0h0m13-14h0m6-4h0m2-2h0m2 2h0m4-4h0m11-16h0m1-2h0m3-8h0m2-6h0" stroke="#9400d3" stroke-width="14.0" stroke-linecap="round" fill="none"/>
<path transform="scale(.1)" d="M2701 3461h0m5-13h0m11 9h0m3-46h0m14 42h0m5-12h0m5 6h0m17-18h0m0 6h0m9-6h0m9-13h0m0 12h0m12-42h0m3-4h0m31 11h0m1 4h0m2-15h0m0 10h0m10-1h0m3-3h0m2-24h0m2 25h0m9-25h0m3 15h0m2-13h0m5-2h0m2-36h0m7-14h0m2 11h0m11 20h0m3-14h0m7 23h0m13-23h0m1 8h0m17-3h0m4-2h0m1-36h0m7-27h0m14 43h0m2-14h0m5-30h0m4 37h0m8-19h0m2 17h0m6 0h0m2-6h0m16-3h0m12-16h0m6-5h0m2 10h0m14-20h0m8-3h0m2-15h0m5 9h0m12 4h0m1-6h0m3 4h0m7-5h0m13-33h0m31-18h0m8 18h0m1-1h0m28-18h0m1-35h0m16 11h0m0 19h0m5-2h0m4-19h0m5 2h0m7-9h0m8-11h0m14 14h0m6-9h0m23-39h0m0 29h0m22-43h0m1 32h0m1-14h0m12-8h0m4-17h0m26 9h0m24-20h0m31-65h0m4 5h0m15-1h0m16-21h0m4 21h0m9 16h0m1-22h0m5 4h0m0 2h0m8-8h0m6 0h0m9-23h0m2 23h0m5-7h0m3 4h0m9-8h0m6 4h0m3-13h0m15-2h0m1-25h0m25 10h0m6-3h0m2-3h0m2-32h0m3 19h0m20-55h0m0 40h0m7 10h0m2-18h0m5 13h0m4-35h0m2-31h0m3 38h0m3 4h0m3-2h0m4-17h0m10 1h0" stroke="#9400d3" stroke-width="14.0" stroke-linecap="round" fill="none"/>
<path transform="scale(.1)" d="M2702 3528h0m20-21h0m17-5h0m19-9h0m1 2h0m9-7h0m25-11h0m7 7h0m4-3h0m21-16h0m2-3h0m14-4h0m12-2h0m6-7h0m5-3h0m18-9h0m1 17h0m3-7h0m29-25h0m4-6h0m9-4h0m6 5h0m56-38h0m1-2h0m16-15h0m12 1h0m3-9h0m21 38h0m1-56h0m13 28h0m14-35h0m14-11h0m11-7h0m53-30h0m27-17h0m2 0h0m36-10h0m37-23h0m3 7h0m48 13h0m20-63h0m0 4h0m20-2h0m17 6h0m11-27h0m17-11h0m1 2h0m1-15h0m1 5h0m23-18h0m18-10h0m4-2h0m4-5h0m19 2h0m9-8h0m2 4h0m7-3h0m26-17h0m73-87h0m2 5h0" stroke="#9400d3" stroke-width="14.0" stroke-linecap="round" fill="none"/>
<polygon points="269.4,335.2 359,335.2 359,337.7 269.4,337.7" fill="#009e73" stroke="none"/>
<path transform="scale(.1)" d="M2698 3350h0m7 2h0m1-3h0m2 2h0m2-4h0m6 1h0m13 4h0m2 0h0m1-3h0m3 2h0m3-1h0m5-4h0m0 1h0m1-1h0m3 7h0m1-2h0m1-1h0m7-1h0m3 3h0m3-6h0m3-1h0m1 7h0m3-2h0m1-3h0m1 4h0m9 0h0m1 0h0m6 1h0m3 0h0m5 0h0m1-4h0m2 2h0m1 0h0m2 0h0m3-3h0m0 2h0m2-3h0m4 3h0m4 2h0m4-2h0m0 3h0m1-2h0m1-3h0m0 1h0m3 2h0m1 0h0m1 1h0m6 0h0m3 0h0m1-2h0m0 3h0m0 1h0m9-5h0m5 4h0m7-8h0m0 4h0m1 4h0m2-4h0m7-2h0m0 7h0m1 0h0m2 0h0m9-2h0m1 0h0m4-1h0m5-2h0m2 3h0m3 0h0m3-2h0m2 3h0m6-3h0m0 3h0m1-2h0m2-1h0m3-6h0m6 10h0m1-6h0m3 3h0m5-1h0m5 2h0m1-3h0m5 0h0m2 0h0m3 4h0m1-3h0m6 2h0m4-1h0m1 1h0m0 2h0m3-2h0m2-2h0m3 3h0m5-2h0m2 0h0m2 3h0m4 0h0m1-6h0m1 0h0m0 6h0m6 0h0m3-1h0m1 1h0m11-2h0m2-3h0m1 3h0m1-5h0m0 1h0m2-1h0m0 7h0m10 0h0m2-5h0m1 0h0m4 3h0m3 2h0m1-2h0m3 2h0m3-8h0m2 4h0m1 3h0m3-4h0m4 2h0m3-3h0m1 2h0m0 1h0m2 2h0m3-1h0m7 1h0m2-1h0m1-2h0m3-1h0m1 4h0m1-5h0m4 6h0m3-2h0m1-5h0m0 2h0m0 4h0m3-3h0m12 3h0m1 1h0m3-2h0m3 0h0m2-1h0m1 0h0m1 2h0m12-1h0m1 0h0m7-2h0m0 3h0m2-1h0m2-5h0m1 4h0m1-5h0m0 7h0m4-2h0m3 3h0m2 0h0m16-5h0m0 3h0m1 1h0m4-3h0m1 1h0m1 3h0m5 0h0m2 0h0m5 0h0m13-1h0m7-4h0m11 3h0m4-2h0m0 1h0m3 2h0m5-5h0m1 5h0m2-2h0m4 2h0m2-3h0m10 0h0m1 1h0m0 2h0m4-2h0m0 1h0m1-2h0m2 3h0m2-3h0m3 3h0m7-2h0m0 1h0m1 0h0m4 2h0m3-2h0m5 2h0m16-7h0m1 4h0m9 2h0m3-4h0m2 3h0m2 0h0m1 0h0m1 1h0m9-3h0m4 1h0m2-5h0m0 7h0m3-2h0m0 1h0m1-3h0m5 2h0m10 2h0m14-3h0m1 1h0m7-2h0m2-3h0m2 7h0m5-4h0m0 2h0m2 3h0m3 0h0m3-6h0m2 2h0m1-2h0m4 1h0m3 5h0m10-3h0m3 2h0m3-7h0m1 8h0m2-4h0m2 3h0m0 1h0m1-2h0m11 2h0m8-10h0m1 9h0m1-1h0m6 0h0m5 1h0m1 1h0m4-2h0m1 1h0m3-3h0m0 1h0m6 0h0m0 2h0m2-4h0m1 2h0m4-7h0m0 10h0m1-9h0m0 6h0m5 0h0m1-7h0m1 5h0m5 1h0m2 3h0m4-3h0m1 1h0m0 2h0m3-1h0m1-3h0m0 3h0m1-1h0m3 2h0m1-7h0m3 8h0m6-1h0m6 1h0m9-8h0m0 3h0m4 2h0m3 1h0m6 0h0m3-4h0m4 4h0m1 2h0m9-5h0m2 0h0m0 4h0m2-1h0m1 2h0m4-6h0m0 3h0m3 1h0m4-7h0m0 7h0m8-7h0m2 9h0m1-2h0m1 2h0m1-3h0m8-1h0m1 2h0m6 0h0m4-5h0m0 3h0" stroke="#009e73" stroke-width="14.0" stroke-linecap="round" fill="none"/>
<path transform="scale(.1)" d="M2695 3379h0m7-1h0m3 1h0m2-3h0m0 1h0m4-1h0m2 3h0m10-1h0m19-2h0m6 0h0m1 2h0m28-1h0m12 2h0m5 2h0m14-1h0m2 0h0m1-1h0m12-1h0m4-1h0m3 1h0m15-2h0m9 0h0m6 2h0m6-1h0m34 0h0m1-1h0m1 3h0m8-2h0m3-1h0m16 3h0m1-1h0m13-1h0m5-1h0m7 0h0m1 0h0m4 2h0m1-2h0m19 1h0m4 1h0m10-2h0m19 1h0m6 0h0m7 2h0m4-1h0m0 1h0m20 1h0m4 1h0m2-2h0m7-2h0m14 3h0m1-4h0m11 3h0m2-2h0m3-1h0m0 6h0m3-5h0m0 4h0m1-4h0m0 2h0m44-1h0m2 1h0m14-2h0m5 1h0m9-2h0m0 2h0m3-2h0m5 2h0m3 1h0m2-2h0m15 0h0m1-1h0m0 2h0m8 0h0m8-2h0m5 0h0m5 1h0m1 0h0m5-1h0m0 1h0m4 1h0m3-2h0m4 3h0m2 1h0m14-3h0m1-1h0m7 2h0m3 0h0m4 3h0m8-2h0m1-1h0m2 2h0m15 0h0m1-2h0m0 1h0m3-1h0m4-1h0m0 3h0m5 1h0m3-3h0m9-1h0m1-1h0m9 1h0m9-1h0m5 2h0m3 0h0m1-1h0m1-1h0m7 1h0m7 2h0m1 1h0m14-4h0m37 1h0m9 0h0m1 2h0m2-3h0m0 1h0m1 1h0m0 2h0m6-3h0m8 1h0m1-2h0m5 2h0m2 0h0m4-2h0m1 3h0m1-2h0m1 1h0m4-1h0m4-1h0m9 1h0m0 1h0m1-2h0m5 3h0m16-2h0m12 2h0m1-3h0m6 0h0m1 2h0m1-2h0m20 0h0m2 1h0m14 2h0m2-3h0m6 0h0m3 2h0m15 5h0" stroke="#009e73" stroke-width="14.0" stroke-linecap="round" fill="none"/>
<path transform="scale(.1)" d="M2695 3351h0m22-17h0m9 16h0m1-31h0m24 27h0m5-1h0m0 2h0m1 3h0m7-38h0m0 16h0m30-4h0m21 23h0m2-13h0m5 13h0m5-22h0m21 19h0m1 0h0m0 4h0m1 3h0m1-8h0m5 3h0m3 5h0m6-18h0m0 13h0m5-6h0m1-21h0m4 27h0m11 1h0m17-5h0m7 3h0m1 6h0m3-30h0m14-2h0m0 24h0m3-12h0m2 8h0m2 8h0m7-34h0m10 38h0m24-2h0m5-2h0m6-8h0m3 10h0m7-5h0m15-7h0m23-23h0m3 14h0m29-10h0m0 34h0m5-7h0m6-4h0m3 10h0m5-13h0m14 13h0m18-26h0m31-3h0m7 25h0m1-6h0m8 9h0m10-44h0m15 36h0m46 0h0m7-2h0m2 6h0m2-22h0m1 14h0m6-30h0m9-13h0m0 51h0m7-1h0m9 3h0m1-12h0m21-11h0m9 23h0m11 1h0m6 2h0m19-15h0m1 11h0m5-6h0m5 3h0m4-27h0m3 31h0m9-3h0m6 1h0m21-8h0m2 13h0m1-3h0m1-4h0m1 6h0m0 1h0m1-42h0m2 27h0m1-5h0m2 20h0m2 0h0m1-59h0m9 41h0m5 9h0m4 3h0m18-1h0m67-7h0m7-27h0m5 28h0m4 9h0m1 3h0m34-5h0m5 4h0m15-3h0m1-1h0" stroke="#009e73" stroke-width="14.0" stroke-linecap="round" fill="none"/>
</g>
<g>
<rect x="12.00" y="370.50" width="103.50" height="78.85" fill="none" stroke="#8a8a8a" stroke-width="0.35"/>
<text transform="translate(12.00 453.55) scale(.1)" text-anchor="middle">0</text>
<text transform="translate(23.50 453.55) scale(.1)" text-anchor="middle">2000</text>
<text transform="translate(35.00 453.55) scale(.1)" text-anchor="middle">4000</text>
<text transform="translate(46.50 453.55) scale(.1)" text-anchor="middle">6000</text>
<text transform="translate(58.00 453.55) scale(.1)" text-anchor="middle">8000</text>
<text transform="translate(69.50 453.55) scale(.1)" text-anchor="middle">10000</text>
<text transform="translate(81.00 453.55) scale(.1)" text-anchor="middle">12000</text>
<text transform="translate(92.50 453.55) scale(.1)" text-anchor="middle">14000</text>
<text transform="translate(104.00 453.55) scale(.1)" text-anchor="middle">16000</text>
<text transform="translate(115.50 453.55) scale(.1)" text-anchor="middle">18000</text>
<text transform="translate(9.10 450.40) scale(.1)" text-anchor="end">0</text>
<text transform="translate(9.10 442.52) scale(.1)" text-anchor="end">0.01</text>
<text transform="translate(9.10 434.63) scale(.1)" text-anchor="end">0.02</text>
<text transform="translate(9.10 426.75) scale(.1)" text-anchor="end">0.03</text>
<text transform="translate(9.10 418.86) scale(.1)" text-anchor="end">0.04</text>
<text transform="translate(9.10 410.98) scale(.1)" text-anchor="end">0.05</text>
<text transform="translate(9.10 403.09) scale(.1)" text-anchor="end">0.06</text>
<text transform="translate(9.10 395.21) scale(.1)" text-anchor="end">0.07</text>
<text transform="translate(9.10 387.32) scale(.1)" text-anchor="end">0.08</text>
<text transform="translate(9.10 379.44) scale(.1)" text-anchor="end">0.09</text>
<text transform="translate(9.10 371.55) scale(.1)" text-anchor="end">0.1</text>
<path d="M23.50 449.35v-1M23.50 370.50v1M35.00 449.35v-1M35.00 370.50v1M46.50 449.35v-1M46.50 370.50v1M58.00 449.35v-1M58.00 370.50v1M69.50 449.35v-1M69.50 370.50v1M81.00 449.35v-1M81.00 370.50v1M92.50 449.35v-1M92.50 370.50v1M104.00 449.35v-1M104.00 370.50v1M12.00 441.47h1M115.50 441.47h-1M12.00 433.58h1M115.50 433.58h-1M12.00 425.69h1M115.50 425.69h-1M12.00 417.81h1M115.50 417.81h-1M12.00 409.93h1M115.50 409.93h-1M12.00 402.04h1M115.50 402.04h-1M12.00 394.16h1M115.50 394.16h-1M12.00 386.27h1M115.50 386.27h-1M12.00 378.38h1M115.50 378.38h-1" stroke="#8a8a8a" stroke-width="0.3" fill="none"/>
<polygon points="12.3,449 84,436.8 105.5,432.6 105.5,432.8 84,437 12.3,449.2" fill="#9400d3" stroke="none"/>
<path transform="scale(.1)" d="M136 4488h0m2-2h0m0 1h0m7-3h0m5 2h0m2 0h0m2-7h0m9 5h0m2-4h0m0 3h0m4-3h0m1 0h0m4-2h0m4 3h0m2-1h0m25-10h0m3 2h0m16 1h0m2-2h0m12-1h0m2-1h0m4 1h0m3-3h0m2 1h0m2-1h0m5 1h0m4-3h0m7-4h0m1 5h0m14-5h0m6 0h0m1 0h0m6-4h0m4 4h0m8-2h0m17-3h0m3-3h0m0 2h0m3-5h0m4 3h0m14-4h0m5 2h0m7 0h0m2-6h0m2 3h0m1-2h0m2-1h0m2 3h0m1-1h0m2-1h0m7-1h0m2 1h0m2 0h0m1-1h0m5-4h0m2 3h0m3-2h0m1 0h0m1 1h0m5-1h0m1 0h0m6 0h0m2-3h0m2 2h0m12-6h0m19-3h0m6-2h0m4 0h0m0 4h0m1-1h0m1 0h0m1-3h0m11 0h0m3 1h0m2 0h0m5-6h0m5 2h0m2 3h0m5-4h0m5 1h0m3 0h0m5-1h0m3 0h0m2-1h0m4-2h0m12-5h0m5 1h0m17-6h0m7 1h0m2-2h0m2 5h0m5-1h0m5-2h0m5 0h0m1-2h0m0 2h0m14-10h0m6 7h0m2-7h0m2 1h0m3 4h0m3 0h0m1-1h0m1-3h0m3 1h0m18-2h0m1-4h0m17-1h0m2 2h0m2 0h0m3 0h0m6-1h0m3 0h0m11-2h0m3-3h0m4-2h0m4 3h0m3-1h0m2-3h0m6-2h0m1 2h0m4 0h0m3-1h0m7 0h0m5-3h0m2 1h0m11-1h0m2-5h0m3 3h0m2-3h0m1 2h0m1-1h0m7 0h0m2-4h0m5 4h0m4-2h0m3-4h0m1 5h0m6-2h0m8-1h0m6-4h0m0 1h0m1 0h0m3 2h0m7-5h0m4 3h0m22-4h0m4-2h0m1 0h0m20-5h0m8 1h0m3-1h0m2-2h0m1 0h0m2-3h0m4 2h0m1 2h0m4-3h0m7-3h0m6-1h0m1 1h0m7-2h0m0 2h0m6 0h0m11-4h0m0 1h0m1-1h0m5-5h0m1 5h0m5-3h0m3 0h0m14-3h0m9-2h0m14-10h0m0 7h0m1-1h0m0 2h0m16-2h0m1-3h0m2 2h0m4-4h0m4-5h0m4 4h0m5 0h0m5 1h0m6-2h0m6-3h0m1 3h0m1-1h0m2 0h0m9-1h0m11-3h0m4-2h0m2-3h0m5-3h0m0 5h0m0 1h0m2-6h0m1-3h0m6 4h0" stroke="#9400d3" stroke-width="14.0" stroke-linecap="round" fill="none"/>
<path transform="scale(.1)" d="M147 4487h0m44-6h0m4-2h0m5 3h0m4-5h0m1 0h0m9-1h0m5-1h0m25-3h0m2-2h0m7-1h0m4-1h0m0 1h0m2-1h0m17-3h0m1-1h0m30 0h0m8-3h0m4-1h0m1-3h0m15-1h0m9-1h0m1 0h0m10-1h0m9-4h0m7 1h0m2-3h0m28-4h0m10-1h0m1-2h0m10 0h0m6-2h0m13-2h0m9 0h0m2-2h0m15-3h0m2 2h0m4-3h0m7 0h0m7-1h0m1-1h0m48-7h0m2 1h0m10-4h0m29-6h0m3 2h0m15-4h0m19-3h0m12-3h0m20-2h0m10-2h0m3 0h0m7 2h0m12-3h0m2-3h0m0 2h0m8-4h0m19-1h0m1-3h0m9 0h0m2 2h0m5-5h0m12-1h0m2 1h0m8-3h0m19-1h0m2-3h0m0 3h0m15-4h0m7-3h0m39-6h0m6-1h0m1 2h0m10-3h0m12-1h0m2-1h0m2-1h0m14-3h0m2-1h0m3 0h0m0 1h0m10-3h0m15-3h0m7-3h0m4 3h0m11-5h0m16-3h0m7-2h0m7-1h0m5 1h0m2 0h0m6-4h0m3 0h0m0 1h0m1-1h0m5 1h0m1 0h0m6-3h0m2-1h0m11-2h0" stroke="#9400d3" stroke-width="14.0" stroke-linecap="round" fill="none"/>
<path transform="scale(.1)" d="M140 4486h0m74-16h0m24-1h0m17-4h0m51-8h0m78-24h0m19 2h0m3-1h0m7 0h0m136-17h0m44-25h0m40 6h0m69-11h0m1 3h0m14-2h0m22-8h0m22-1h0m25-7h0m23-20h0m35 9h0m17-12h0m7 11h0m56-25h0m6-6h0m8-7h0m12 7h0m9 0h0m10 12h0m45-44h0m24 30h0" stroke="#9400d3" stroke-width="14.0" stroke-linecap="round" fill="none"/>
<polygon points="12.3,437.2 13.8,432.7 16,427.5 19,426.4 33.4,425.6 44.6,423.3 55.7,420.2 66.8,417.4 78,414.1 86.6,412 97.7,406.7 100.4,402.8 101.9,403.4 105.5,404.3 105.5,407.2 101.9,406.3 100.4,404.3 97.7,407.9 86.6,413.2 78,415.3 66.8,418.2 55.7,421.1 44.6,423.9 33.4,426.1 19,427 16,428 13.8,433 12.3,437.5" fill="#9400d3" stroke="none"/>
<path transform="scale(.1)" d="M128 4355h0m0 1h0m7-21h0m17-43h0m4-12h0m3-1h0m3-13h0m1 9h0m1-3h0m1-3h0m2-1h0m1 1h0m1 2h0m0 2h0m1 0h0m20-7h0m4-4h0m5 0h0m6 0h0m12-3h0m1 5h0m1-7h0m7 1h0m1 0h0m1 2h0m1 2h0m2 1h0m2-2h0m1-4h0m1 6h0m3-2h0m3-3h0m9 4h0m4-1h0m5-11h0m9 2h0m4 7h0m1 0h0m4 0h0m2-4h0m6 4h0m3-2h0m4-2h0m5 3h0m1-1h0m2-3h0m2-1h0m0 5h0m6-7h0m2 4h0m1 0h0m5 3h0m1-2h0m1-4h0m0 1h0m4 1h0m1 0h0m4 1h0m7 0h0m1-3h0m3 2h0m5 0h0m1 1h0m3-13h0m4 12h0m4-9h0m4 4h0m2 2h0m1-1h0m3 0h0m9-9h0m0 3h0m0 4h0m8-6h0m1 2h0m3-4h0m11 2h0m2 0h0m3 0h0m4-1h0m2-2h0m0 1h0m1-5h0m4 5h0m7-4h0m10 1h0m8-1h0m3-3h0m5-8h0m1 5h0m6-2h0m0 3h0m1 1h0m1-5h0m1-3h0m8-1h0m3 3h0m1-5h0m1 6h0m17-13h0m2 4h0m10 0h0m6-10h0m6 8h0m1-2h0m10-2h0m5-2h0m0 2h0m2-4h0m5 3h0m2-7h0m3-2h0m1 1h0m0 4h0m3-7h0m4 4h0m5 0h0m2 0h0m3-7h0m3-3h0m6 6h0m9-8h0m9 4h0m2-3h0m1-1h0m3 1h0m6-4h0m0 1h0m1 4h0m1-2h0m8-4h0m5-5h0m1 3h0m2 4h0m1-2h0m1 0h0m11-10h0m7 3h0m2 0h0m1 0h0m2 1h0m3-2h0m4-2h0m12-10h0m0 7h0m5-5h0m2 3h0m3-6h0m12-2h0m3 1h0m5-3h0m3-2h0m10-1h0m1 2h0m6-8h0m1 7h0m10-5h0m6 0h0m5 1h0m2-9h0m3 7h0m12-7h0m4 0h0m1-2h0m2 0h0m3 2h0m2-1h0m1-3h0m6-4h0m3 4h0m2-3h0m3-5h0m6 4h0m11-2h0m4-9h0m7 3h0m1 4h0m2-2h0m8-6h0m4 3h0m1-2h0m4-3h0m4 3h0m1-4h0m4-5h0m0 8h0m1 0h0m0 1h0m5-3h0m2 2h0m3-5h0m1 0h0m4 1h0m2-3h0m4-4h0m11-1h0m1 5h0m3-3h0m1 0h0m1 0h0m2 1h0m5-9h0m1 1h0m12-7h0m9-7h0m0 8h0m2-1h0m11-11h0m0 3h0m2 2h0m1-10h0m0 6h0m1-3h0m2 5h0m3-2h0m3-3h0m8-1h0m1-2h0m0 1h0m6-6h0m3 0h0m1-1h0m0 2h0m1-4h0m3-2h0m2 4h0m4-9h0m1-1h0m1 4h0m3-1h0m7 0h0m6-5h0m1 1h0m6-11h0m8-7h0m2-13h0m3 3h0m1-3h0m4 2h0m6-12h0m0 3h0m1-1h0m8-2h0m1 1h0m2-6h0m9 5h0m4 5h0m5 1h0m1 2h0m4-5h0m0 3h0m3 2h0m4-1h0m0 2h0m5 3h0m1-2h0m3-4h0m1 6h0m2-10h0" stroke="#9400d3" stroke-width="14.0" stroke-linecap="round" fill="none"/>
<path transform="scale(.1)" d="M134 4348h0m8-28h0m1-3h0m11-23h0m1 1h0m1-4h0m0 1h0m13-8h0m10-7h0m1-6h0m4 0h0m1 1h0m10-3h0m4 2h0m1-3h0m5-1h0m3 1h0m9-1h0m2-1h0m7 1h0m2 1h0m31-3h0m8 2h0m17-2h0m6-2h0m16 0h0m6-2h0m16 0h0m5 1h0m1 1h0m15-6h0m1-1h0m27-4h0m1 2h0m4-2h0m3 1h0m3-4h0m2 1h0m6 0h0m1 2h0m7-4h0m3-3h0m2 6h0m9-5h0m11 1h0m6-6h0m7-1h0m1-1h0m1-1h0m1 1h0m6-4h0m8 1h0m8-2h0m7-2h0m0 2h0m4-5h0m23-1h0m2 0h0m1-5h0m3 2h0m5 0h0m1 2h0m5-7h0m3 3h0m3-4h0m17-2h0m12-5h0m5-1h0m5 1h0m10-6h0m12 0h0m7-5h0m4-1h0m7-1h0m13-1h0m9-2h0m10-4h0m24-7h0m4-2h0m10-2h0m25-8h0m9-2h0m13 0h0m33-12h0m33-6h0m20-5h0m23-8h0m5 1h0m7 0h0m7-2h0m13-7h0m1-1h0m1 6h0m17-13h0m0 2h0m6-3h0m5-5h0m0 5h0m23-14h0m0 1h0m1 0h0m1-4h0m3-1h0m5 1h0m5-5h0m0 1h0m8-5h0m7-4h0m3 0h0m6-2h0m14-7h0m3-3h0m3 2h0m3 0h0m2-6h0m3-3h0m14-18h0m4-8h0m0 3h0m3-1h0m3-7h0m9 13h0m7 7h0m2 2h0m5-1h0m6 3h0m11 2h0" stroke="#9400d3" stroke-width="14.0" stroke-linecap="round" fill="none"/>
<path transform="scale(.1)" d="M146 4304h0m22-46h0m0 10h0m1-47h0m24 14h0m8 23h0m29-29h0m13 1h0m5 25h0m14 0h0m44-15h0m0 2h0m11 0h0m10 0h0m36-6h0m5 1h0m5-32h0m4 31h0m0 9h0m29-51h0m3 11h0m11 23h0m0 10h0m4-8h0m14 3h0m28-38h0m12 16h0m1-32h0m15 30h0m0 5h0m16-8h0m18-81h0m1 74h0m11 7h0m21-7h0m54-20h0m17 1h0m8-6h0m2 3h0m4-2h0m24-14h0m11-51h0m5 43h0m4-38h0m6 36h0m29-15h0m23 10h0m8-4h0m5 2h0m0 2h0m4-5h0m22-17h0m9 1h0m51-4h0m2-19h0m20 12h0m18-14h0m24-10h0m2-10h0m22 1h0m28-10h0m16-24h0m13-16h0m0 2h0m4-3h0m14-9h0m2 4h0m16-8h0m3 6h0m20 15h0" stroke="#9400d3" stroke-width="14.0" stroke-linecap="round" fill="none"/>
<polygon points="12.3,448.3 42,435.4 84,418.3 97.7,411 105.5,408.3 105.5,408.7 97.7,411.4 84,418.8 42,435.8 12.3,448.8" fill="#009e73" stroke="none"/>
<path transform="scale(.1)" d="M130 4475h0m1 4h0m4-2h0m1-1h0m1 1h0m1 0h0m6-2h0m2-1h0m3-7h0m5 3h0m2-3h0m5-1h0m1 1h0m3-8h0m7 3h0m3-2h0m5-3h0m9-3h0m3-3h0m8-3h0m0 1h0m4-2h0m6-3h0m4-3h0m21-8h0m8-7h0m1 0h0m1 3h0m1 0h0m9-3h0m5-1h0m8-5h0m4-2h0m12-4h0m6-5h0m7-3h0m7-3h0m5 0h0m2-5h0m11-4h0m1 3h0m1-7h0m10 0h0m5-2h0m2-3h0m1 0h0m5-3h0m2 0h0m0 3h0m28-14h0m2 2h0m12-9h0m5 1h0m2-8h0m1 5h0m7-3h0m4-3h0m5-5h0m1 5h0m1-1h0m3-3h0m6-2h0m10-3h0m1-3h0m9-2h0m5-4h0m1-1h0m1 1h0m0 2h0m6-1h0m6-3h0m9-4h0m7-6h0m2 2h0m16-5h0m4-3h0m1 1h0m1-5h0m0 4h0m3-1h0m2-6h0m2 4h0m7-5h0m2 1h0m4-5h0m2 3h0m7-7h0m4 2h0m1-5h0m0 2h0m3 2h0m5-4h0m1-4h0m1-2h0m2 3h0m2 1h0m1-4h0m0 5h0m4-4h0m5-2h0m0 1h0m2-2h0m11-4h0m11-2h0m10-6h0m14-7h0m4-3h0m3-1h0m1-4h0m12-5h0m0 5h0m1 2h0m4-3h0m7-3h0m0 2h0m6-8h0m7 3h0m3-1h0m2-2h0m4-3h0m8-4h0m5 0h0m2-2h0m5-2h0m6 0h0m4-3h0m4-2h0m0 2h0m8-10h0m4 2h0m2 1h0m13-5h0m3-8h0m1 3h0m0 1h0m3 2h0m4-5h0m3 1h0m0 1h0m4-3h0m3-3h0m1 2h0m2-2h0m5-4h0m13-3h0m2-7h0m3 5h0m4-1h0m12-6h0m3-4h0m5 2h0m5-2h0m2 0h0m3-3h0m10-5h0m1 2h0m5-4h0m6-3h0m0 1h0m2-3h0m2 2h0m1 0h0m2-9h0m3 7h0m2-2h0m9-6h0m9-4h0m5-4h0m2 2h0m2-2h0m1-4h0m2 4h0m4-2h0m8-7h0m7-4h0m3 0h0m2-6h0m1 2h0m2 0h0m2-1h0m0 1h0m2-4h0m1 4h0m13-8h0m6-2h0m2-6h0m0 3h0m11-7h0m1-5h0m3 2h0m3-9h0m2 9h0m1-2h0m9-5h0m7-5h0m2-1h0m0 1h0m14-7h0m5-1h0m9-3h0m2-1h0m2 0h0m1-2h0m10-3h0m1-2h0m0 3h0m5-1h0m1-2h0m11-6h0m2-2h0m17-3h0m2-1h0m2 0h0m2 1h0m1-8h0m3 0h0" stroke="#009e73" stroke-width="14.0" stroke-linecap="round" fill="none"/>
<path transform="scale(.1)" d="M133 4482h0m2-1h0m9-1h0m17-8h0m2-1h0m7-4h0m7-5h0m1 0h0m6-2h0m7-1h0m4-4h0m5 0h0m5-3h0m13-7h0m7-2h0m7-1h0m14-9h0m11-4h0m10-5h0m9-3h0m0 1h0m1-1h0m4-1h0m14-7h0m4-4h0m6-2h0m4-2h0m5-2h0m3 2h0m5-4h0m12-7h0m8-2h0m5-1h0m3-3h0m3-2h0m1-1h0m21-8h0m7-1h0m27-13h0m1-1h0m24-9h0m3-3h0m5-1h0m2-2h0m4-1h0m12-5h0m13-4h0m6-1h0m8-6h0m7-1h0m24-10h0m8-3h0m10-1h0m2-4h0m2-1h0m1-2h0m11-1h0m10-7h0m16-7h0m2 3h0m2-4h0m22-8h0m0 4h0m4-8h0m7-2h0m20-7h0m13-7h0m1 3h0m14-9h0m7-2h0m4-2h0m4 0h0m6-3h0m21-9h0m8-4h0m25-7h0m2-4h0m1 1h0m1 1h0m4-5h0m5 4h0m1-5h0m22-9h0m55-23h0m4-2h0m8 2h0m1-5h0m3 1h0m6-5h0m3-2h0m47-23h0m33-19h0m2 1h0m4-6h0m2 0h0m1-2h0m29-13h0m14-6h0m6-3h0m3-2h0m23-8h0m7-1h0m6-3h0m2 0h0m8-1h0m2-3h0m1 0h0m7-3h0m3 1h0" stroke="#009e73" stroke-width="14.0" stroke-linecap="round" fill="none"/>
<path transform="scale(.1)" d="M158 4459h0m27-17h0m11 4h0m1-8h0m8-1h0m15-10h0m11-11h0m13 2h0m29-23h0m17 12h0m8-2h0m1-5h0m5-3h0m15-15h0m38-45h0m36 23h0m49-23h0m31-7h0m13-12h0m143-51h0m3-5h0m41-11h0m28-22h0m39-49h0m11 39h0m36-17h0m46-20h0m11-8h0m143-72h0m65-27h0" stroke="#009e73" stroke-width="14.0" stroke-linecap="round" fill="none"/>
<polygon points="12.3,431.6 13.4,429.4 15.1,425.6 17.8,423.4 22.3,422 33.4,419.3 44.6,414.2 55.7,407.8 66.8,401 78,394 84,390.5 97.7,383.2 99.3,382.5 99.3,385.8 97.7,386.4 84,393 78,396.2 66.8,402.5 55.7,409 44.6,415.1 33.4,419.8 22.3,422.5 17.8,423.7 15.1,425.9 13.4,429.6 12.3,431.8" fill="#009e73" stroke="none"/>
<path transform="scale(.1)" d="M123 4314h0m2-2h0m2-4h0m1-4h0m2-2h0m10-21h0m1-5h0m1-9h0m0 10h0m1-3h0m1-1h0m3-15h0m1 4h0m1-1h0m2-5h0m4-8h0m1 3h0m2-2h0m1-4h0m0 1h0m2 2h0m3-8h0m5-1h0m1-1h0m10-10h0m0 6h0m2-4h0m4-5h0m1 5h0m6-2h0m5-7h0m5-5h0m1 11h0m10-4h0m4-7h0m1 4h0m1-4h0m3 2h0m8-2h0m3-3h0m0 4h0m8-2h0m0 1h0m2-3h0m3-5h0m11-4h0m2 5h0m2 1h0m1-1h0m5-3h0m0 3h0m6-4h0m5-6h0m0 7h0m1 1h0m21-8h0m1 1h0m7-9h0m0 4h0m4 5h0m4-11h0m8-1h0m4 0h0m0 5h0m0 2h0m6-2h0m7-10h0m2-1h0m7-2h0m0 7h0m1-4h0m0 3h0m3-7h0m7 3h0m1-3h0m1-1h0m1 0h0m1 1h0m1-3h0m2-1h0m8 0h0m1-5h0m2 4h0m5-4h0m2-11h0m8 6h0m7-5h0m1 3h0m2-2h0m1-6h0m1 1h0m0 5h0m1 0h0m4-2h0m3-5h0m1-11h0m1 9h0m10-4h0m1 2h0m8-6h0m2-1h0m3 0h0m1 2h0m5-9h0m3-3h0m0 7h0m2-1h0m4-5h0m2 2h0m2-2h0m2-2h0m2-1h0m6-5h0m0 4h0m4-7h0m5 1h0m9-9h0m5-4h0m6-1h0m2 0h0m2 0h0m5-4h0m1-2h0m0 3h0m2-1h0m1-6h0m4-5h0m2-3h0m0 6h0m1 4h0m10-13h0m0 7h0m7-9h0m2 3h0m4-3h0m2-4h0m0 4h0m2-9h0m0 3h0m2-1h0m1 4h0m6-6h0m3 0h0m6-3h0m13-10h0m4-2h0m3-8h0m3 4h0m3-6h0m2 5h0m3-9h0m2 5h0m2 0h0m2-17h0m0 10h0m1 2h0m4-6h0m1 4h0m1 0h0m5-7h0m0 4h0m10-8h0m3-6h0m0 5h0m6-10h0m1 5h0m5-7h0m2 5h0m1-6h0m0 4h0m2 0h0m3-9h0m7 0h0m1-1h0m3 2h0m11-7h0m7-6h0m3-10h0m0 9h0m4-5h0m1-6h0m4 0h0m3-4h0m3 0h0m0 4h0m3-1h0m3-6h0m10-13h0m2 2h0m0 9h0m2-12h0m2 9h0m1-11h0m0 6h0m1-7h0m1 9h0m3-3h0m2 1h0m3-5h0m3 2h0m1-8h0m1-1h0m8-4h0m6 2h0m0 1h0m1-7h0m0 3h0m1 1h0m4-4h0m4 0h0m3-4h0m1 1h0m4-3h0m1-4h0m2 1h0m3 1h0m2-10h0m1 7h0m4-2h0m4-5h0m0 1h0m3-1h0m1-2h0m3 0h0m7-7h0m1 3h0m3-11h0m1 1h0m0 2h0m1 2h0m3-6h0m8-3h0m0 6h0m1-2h0m11-6h0m1-5h0m1-3h0m2 3h0m2 2h0m1-4h0m0 2h0m8-3h0m1-4h0m3-2h0m5-3h0m1 4h0m3-2h0m2-4h0m2 1h0m5-4h0m1 1h0m3-1h0m4-3h0m2-1h0m3-3h0m1-2h0m1 2h0m1-9h0m2 8h0m1-2h0m7-2h0m2-2h0m5-7h0m2 5h0m4-4h0m1 0h0m0 1h0m2-9h0m0 6h0m12-8h0m0 1h0m1-1h0m9-8h0m1 0h0m1 5h0m0 1h0m4-8h0m4-6h0m0 6h0m12-9h0m0 1h0m3 3h0m10-8h0m6-2h0m0 1h0m1-6h0m1 5h0m3-4h0m4-1h0m2-2h0m3-4h0m4 0h0m5-2h0m3 1h0" stroke="#009e73" stroke-width="14.0" stroke-linecap="round" fill="none"/>
<path transform="scale(.1)" d="M127 4314h0m2-8h0m2-5h0m3-6h0m2-3h0m1 2h0m12-32h0m5-5h0m30-23h0m9-3h0m10 1h0m2-4h0m24-1h0m4-3h0m11-3h0m2-2h0m6-2h0m3 1h0m10-1h0m5-3h0m1-2h0m17-4h0m6 1h0m20-7h0m1 2h0m0 5h0m17-7h0m9-7h0m2-2h0m4 1h0m9-6h0m6-2h0m12-5h0m0 3h0m3-3h0m8-4h0m4-2h0m5-1h0m16-9h0m1 5h0m2-6h0m7-3h0m4 0h0m1-3h0m2 2h0m10-5h0m0 1h0m0 2h0m4-6h0m5-2h0m1 2h0m1-3h0m4-3h0m2 0h0m11-7h0m1 0h0m6 0h0m2 1h0m6-5h0m21-15h0m0 1h0m4-4h0m1 0h0m9-2h0m3-3h0m7-3h0m9-6h0m4-2h0m9-5h0m9-4h0m15-9h0m12-9h0m1 6h0m14-14h0m1 1h0m1 0h0m7-6h0m0 2h0m28-18h0m4 4h0m1-9h0m4-1h0m2 0h0m25-16h0m9-3h0m7-6h0m5 1h0m3-6h0m0 2h0m9-7h0m4 1h0m3-5h0m0 2h0m3-4h0m4-2h0m0 1h0m3 0h0m4-5h0m8-5h0m19-11h0m3-1h0m2-1h0m1-1h0m1 0h0m8-5h0m8-5h0m3-1h0m2-2h0m6-3h0m0 2h0m0 2h0m5-7h0m2 0h0m1 0h0m4-3h0m0 2h0m3-3h0m7-2h0m4-1h0m11-8h0m6-3h0m0 3h0m9-9h0m1 3h0m2 6h0m6-10h0m5-5h0m19-10h0m2 0h0m1 0h0m4-4h0m4-2h0m2 2h0m6-5h0m8 1h0m15-12h0m3 1h0m8-7h0m5-2h0m11-2h0m1 0h0m23-15h0m2 1h0m1 1h0m1 0h0m2-5h0" stroke="#009e73" stroke-width="14.0" stroke-linecap="round" fill="none"/>
<path transform="scale(.1)" d="M146 4219h0m49-3h0m5 9h0m34-10h0m13-7h0m32-3h0m11-47h0m13 42h0m33-20h0m10 4h0m3-2h0m9 0h0m10-13h0m20-13h0m29-15h0m0 3h0m16 2h0m8-8h0m7-6h0m6-14h0m6 13h0m14-18h0m14-1h0m2-5h0m10-36h0m23 27h0m10-7h0m11-10h0m2 4h0m7-5h0m32-29h0m20-11h0m1-1h0m4 2h0m6-4h0m14-5h0m13-15h0m11-32h0m0 29h0m4-9h0m7 1h0m5-1h0m10-19h0m44-13h0m12-6h0m16-22h0m29-6h0m13-19h0m32-8h0m3-4h0m13-39h0m1 34h0m5-4h0m19-24h0m4-3h0m1 8h0m27-20h0m31-6h0m45-29h0" stroke="#009e73" stroke-width="14.0" stroke-linecap="round" fill="none"/>
<polygon points="101.1,379.7 105.5,379.7 105.5,385.3 101.1,385.3" fill="#009e73" stroke="none"/>
<path transform="scale(.1)" d="M1012 3792h0m0 2h0m2 3h0m1-4h0m1 6h0m2-5h0m0 3h0m2-5h0m0 1h0m1 5h0m0 1h0m1-1h0m1-5h0m3 4h0m3 2h0m1-1h0m2-3h0m1 2h0m1 1h0m1-7h0m0 1h0m0 3h0m1-6h0m0 3h0m0 4h0m0 1h0m4 2h0m5-10h0m0 4h0m1 4h0m1-3h0m1-5h0m1 8h0m0 1h0m1-4h0m1 2h0m1-2h0m1 3h0m1 0h0" stroke="#009e73" stroke-width="14.0" stroke-linecap="round" fill="none"/>
<path transform="scale(.1)" d="M1011 3853h0m2-1h0m3 3h0m1-3h0m1 1h0m1-2h0m3 3h0m5-1h0m1 1h0m5-1h0m1 1h0m7 1h0m2-1h0m1 1h0m2-3h0m3 1h0m1-1h0m2-1h0m0 5h0" stroke="#009e73" stroke-width="14.0" stroke-linecap="round" fill="none"/>
<path transform="scale(.1)" d="M244 4384h0m134-52h0m40 70h0m27-97h0m90-40h0m67-20h0m66-251h0m77-57h0" stroke="#009e73" stroke-width="14.0" stroke-linecap="round" fill="none"/>
<path transform="scale(.1)" d="M411 4405h0m358-67h0" stroke="#9400d3" stroke-width="14.0" stroke-linecap="round" fill="none"/>
</g>
<g>
<rect x="140.10" y="370.50" width="102.05" height="78.85" fill="none" stroke="#8a8a8a" stroke-width="0.35"/>
<text transform="translate(140.10 453.55) scale(.1)" text-anchor="middle">0</text>
<text transform="translate(151.44 453.55) scale(.1)" text-anchor="middle">2000</text>
<text transform="translate(162.78 453.55) scale(.1)" text-anchor="middle">4000</text>
<text transform="translate(174.12 453.55) scale(.1)" text-anchor="middle">6000</text>
<text transform="translate(185.46 453.55) scale(.1)" text-anchor="middle">8000</text>
<text transform="translate(196.79 453.55) scale(.1)" text-anchor="middle">10000</text>
<text transform="translate(208.13 453.55) scale(.1)" text-anchor="middle">12000</text>
<text transform="translate(219.47 453.55) scale(.1)" text-anchor="middle">14000</text>
<text transform="translate(230.81 453.55) scale(.1)" text-anchor="middle">16000</text>
<text transform="translate(242.15 453.55) scale(.1)" text-anchor="middle">18000</text>
<text transform="translate(137.20 450.40) scale(.1)" text-anchor="end">0</text>
<text transform="translate(137.20 437.26) scale(.1)" text-anchor="end">0.0002</text>
<text transform="translate(137.20 424.12) scale(.1)" text-anchor="end">0.0004</text>
<text transform="translate(137.20 410.98) scale(.1)" text-anchor="end">0.0006</text>
<text transform="translate(137.20 397.83) scale(.1)" text-anchor="end">0.0008</text>
<text transform="translate(137.20 384.69) scale(.1)" text-anchor="end">0.001</text>
<text transform="translate(137.20 371.55) scale(.1)" text-anchor="end">0.0012</text>
<path d="M151.44 449.35v-1M151.44 370.50v1M162.78 449.35v-1M162.78 370.50v1M174.12 449.35v-1M174.12 370.50v1M185.46 449.35v-1M185.46 370.50v1M196.79 449.35v-1M196.79 370.50v1M208.13 449.35v-1M208.13 370.50v1M219.47 449.35v-1M219.47 370.50v1M230.81 449.35v-1M230.81 370.50v1M140.10 436.21h1M242.15 436.21h-1M140.10 423.07h1M242.15 423.07h-1M140.10 409.93h1M242.15 409.93h-1M140.10 396.78h1M242.15 396.78h-1M140.10 383.64h1M242.15 383.64h-1" stroke="#8a8a8a" stroke-width="0.3" fill="none"/>
<polygon points="140.7,447.8 159.4,436.7 188.8,416 210.6,403.9 232.6,393.9 232.6,399.1 206.2,414.4 188.8,421.8 140.7,448" fill="#9400d3" stroke="none"/>
<path transform="scale(.1)" d="M1407 4477h0m4-9h0m7-3h0m4 2h0m3 1h0m13-9h0m0 1h0m2-8h0m3-6h0m1 11h0m2-11h0m4 7h0m2-9h0m0 4h0m3 0h0m2 0h0m5-2h0m1-5h0m5 0h0m5-8h0m1-8h0m2 12h0m0 1h0m7-9h0m2-2h0m2-3h0m1-2h0m4 6h0m1-8h0m1-4h0m0 9h0m7-10h0m4 4h0m1-8h0m0 5h0m2-3h0m2 4h0m3-7h0m0 5h0m4-10h0m5-5h0m5 8h0m5-5h0m0 2h0m14-9h0m7-16h0m1 6h0m0 5h0m1-16h0m1 11h0m2-8h0m3 8h0m0 1h0m2-9h0m8-1h0m9-5h0m3 2h0m1-5h0m5-16h0m2 15h0m2-4h0m1-4h0m1 5h0m0 1h0m1 1h0m3-10h0m0 2h0m2 5h0m1-1h0m2-4h0m3-14h0m0 13h0m3-7h0m0 4h0m5-12h0m2 3h0m18-14h0m2 0h0m0 1h0m1-1h0m1 2h0m1-13h0m7 8h0m2-7h0m1 5h0m0 2h0m2-4h0m11-9h0m23-17h0m0 3h0m6-9h0m2 0h0m1-5h0m7-2h0m5 1h0m6-3h0m4-8h0m5-4h0m2-1h0m3 2h0m3-3h0m1-1h0m10-14h0m0 4h0m1 3h0m6-4h0m1-1h0m4-1h0m1-3h0m1 1h0m3-7h0m1-16h0m3 17h0m7-6h0m1-10h0m0 5h0m1 1h0m1 2h0m3 1h0m2-9h0m4 3h0m3-2h0m5-17h0m1 10h0m5 1h0m6-19h0m2 4h0m0 8h0m3-13h0m2 7h0m1 2h0m1-5h0m8-5h0m7-8h0m0 2h0m1-1h0m7-8h0m2 5h0m5-17h0m0 14h0m1 1h0m6-13h0m0 2h0m0 2h0m1-6h0m4-2h0m4 1h0m0 6h0m3-7h0m4-5h0m2-6h0m10-14h0m3 13h0m4-3h0m3 1h0m1-3h0m9-5h0m1-4h0m12-7h0m1 6h0m5-5h0m1-6h0m2 2h0m4-10h0m0 1h0m0 6h0m2-5h0m1-1h0m0 4h0m6-15h0m0 14h0m0 1h0m7-3h0m5-4h0m5-5h0m6 2h0m1-2h0m7-9h0m4 0h0m3-4h0m0 3h0m6-1h0m1-4h0m0 1h0m0 1h0m2 0h0m4-3h0m4-10h0m0 10h0m3-6h0m10-8h0m1 0h0m2-2h0m5 3h0m2-8h0m1-1h0m13 0h0m10-6h0m1-9h0m5 1h0m7-2h0m2-6h0m3 1h0m1 4h0m2-3h0m2 1h0m8-9h0m1 1h0m2 0h0m5-7h0m4-2h0m2-4h0m1 5h0m8-14h0m2 4h0m9-1h0m2 1h0m4-7h0m3 6h0m1-6h0m1-1h0m4-14h0m0 11h0m5-4h0m0 6h0m5-21h0m2 20h0m6-11h0m2 5h0m1-11h0m1 10h0m1-1h0m1-7h0m0 3h0m0 1h0m2-6h0m4 3h0m1 4h0m4-5h0m1 1h0m2-1h0m1 4h0m5-6h0m5 1h0m2-10h0m2 2h0m0 5h0m7-9h0m2-4h0m0 5h0m6-5h0m2 6h0m2-4h0m1 2h0m2-9h0m2 0h0m2 8h0m1-2h0m12-5h0m1-14h0m1 9h0m1 4h0m4-9h0m14 1h0m2-5h0m0 3h0m1-2h0m1-11h0m3 3h0m1-1h0m3-2h0m1 3h0m0 5h0m11-6h0m0 3h0m2-5h0m4 0h0m1-3h0m2 2h0m1-6h0m0 6h0m1-4h0m3 2h0m6-1h0m1 0h0m3-6h0m2 0h0m3 0h0m4-7h0m2 6h0m4-4h0m5-4h0m2 1h0m4-1h0m6-2h0m4-7h0m8-1h0m7-5h0m2 2h0" stroke="#9400d3" stroke-width="14.0" stroke-linecap="round" fill="none"/>
<path transform="scale(.1)" d="M1412 4476h0m4-2h0m4 0h0m2-2h0m15-9h0m1 0h0m1-2h0m2 0h0m26-15h0m1 0h0m15-8h0m1 0h0m4-3h0m14-5h0m5-6h0m24-11h0m6-2h0m4-3h0m5-5h0m3-1h0m4-2h0m2-2h0m3 2h0m12-8h0m6-4h0m2-2h0m2-2h0m8-1h0m2-1h0m2-4h0m20-11h0m3 1h0m1-2h0m2-2h0m0 1h0m5-2h0m6-5h0m11-5h0m2-1h0m8-6h0m6-3h0m10-5h0m4 0h0m5-5h0m1 2h0m19-10h0m5-6h0m7-4h0m2-1h0m3 4h0m14-13h0m6-3h0m2-2h0m5 0h0m2-1h0m4-2h0m5-5h0m2 2h0m4-4h0m1-2h0m28-12h0m8-7h0m31-18h0m17-8h0m15-5h0m4-3h0m6-6h0m8-1h0m3-4h0m2-2h0m7-1h0m4-5h0m7-3h0m13-4h0m3-3h0m15-6h0m1 1h0m9-5h0m12-5h0m10 1h0m8-5h0m1-4h0m5-2h0m9-4h0m6-1h0m5-5h0m1 1h0m3-2h0m15-5h0m4-3h0m1 2h0m11-5h0m4-3h0m9-4h0m2 1h0m1-3h0m12-5h0m2 2h0m15-9h0m3-3h0m2 0h0m7-6h0m5-2h0m9-4h0m11-7h0m3-4h0m3 0h0m3-1h0m10-7h0m2 1h0m4-4h0m12-7h0m4-2h0m2 0h0m1-2h0m1-2h0m3-1h0m1-1h0m7-1h0m7-6h0m3-2h0m12-6h0m8-6h0m11-6h0m7-5h0m2-1h0m1 0h0m6-5h0m8-3h0m2-2h0m0 1h0m2-1h0m5-4h0m2 1h0m7-5h0m9-5h0m3-3h0m2 2h0m13-10h0m2 1h0m8-7h0m0 1h0m13-9h0m2 0h0m5-2h0m2-3h0m10-6h0m2 0h0m3-2h0" stroke="#9400d3" stroke-width="14.0" stroke-linecap="round" fill="none"/>
<path transform="scale(.1)" d="M1411 4473h0m6-2h0m4-2h0m29-18h0m3-2h0m2-2h0m6-2h0m1 0h0m7-8h0m0 2h0m10-4h0m29-25h0m1 6h0m14-12h0m4-11h0m2-4h0m6 11h0m3-4h0m25-22h0m35-11h0m30-30h0m6-2h0m0 6h0m8-4h0m2-9h0m5-2h0m3 3h0m1-3h0m16-11h0m1-14h0m4 13h0m18-21h0m14-1h0m1-3h0m2-5h0m0 3h0m5-1h0m3-14h0m1 0h0m4 5h0m0 2h0m28-33h0m3 7h0m10-3h0m12-43h0m24 6h0m10-1h0m1-2h0m7-20h0m2 21h0m15-31h0m13 8h0m7-41h0m13 30h0m7-4h0m1-34h0m11-20h0m2 40h0m2-4h0m3 1h0m2-1h0m15-4h0m12-42h0m13 17h0m0 8h0m3-16h0m6-2h0m14 5h0m16-13h0m2-15h0m6 1h0m24-16h0m7 13h0m8-17h0m3-5h0m10-12h0m17 7h0m2 5h0m5-3h0m7-16h0m19 2h0m1-1h0m7-13h0m41-15h0m3 4h0m46-45h0m4 21h0m8-1h0m3-17h0m3-25h0m1 26h0m17-11h0m7-8h0m20 3h0m39-8h0m20-21h0m1-2h0m1-3h0m3 4h0" stroke="#9400d3" stroke-width="14.0" stroke-linecap="round" fill="none"/>
<path transform="scale(.1)" d="M1989 3931h0m170-171h0m37 62h0m53 112h0m44-204h0m0 147h0" stroke="#9400d3" stroke-width="14.0" stroke-linecap="round" fill="none"/>
<polygon points="140.7,448.6 188.8,424.1 206.2,416.4 232.6,408 232.6,412.8 188.8,430.2 140.7,448.8" fill="#009e73" stroke="none"/>
<path transform="scale(.1)" d="M1410 4482h0m4 2h0m4-5h0m2-1h0m4-5h0m1 3h0m4-3h0m0 1h0m3 1h0m4-5h0m1 0h0m0 2h0m1-1h0m1-4h0m2 0h0m0 1h0m7-5h0m1-1h0m6-3h0m0 1h0m3-6h0m4 5h0m6-6h0m3 2h0m3-9h0m2 6h0m1-2h0m2-3h0m0 4h0m9-11h0m3-2h0m12-2h0m10-3h0m2-3h0m2-4h0m4 3h0m3-10h0m3 6h0m1 0h0m4-8h0m0 1h0m3 4h0m2-6h0m5 2h0m3-4h0m3 1h0m4-6h0m0 4h0m1-3h0m2 1h0m3 0h0m4-5h0m2-1h0m1-8h0m0 3h0m0 6h0m2-8h0m3-3h0m2 0h0m4 6h0m17-12h0m3 0h0m2-1h0m1-5h0m2 6h0m1-1h0m5-5h0m2 1h0m4-5h0m1 0h0m3-4h0m6 3h0m1-4h0m1-9h0m1 3h0m3 6h0m4-3h0m1-2h0m5-4h0m10-3h0m2-3h0m0 4h0m1-5h0m1 4h0m9-7h0m3-5h0m5 0h0m3-4h0m1 2h0m0 2h0m0 1h0m2-9h0m0 3h0m4-8h0m4 5h0m3-7h0m4 3h0m3-5h0m1 8h0m1-6h0m4 3h0m6-9h0m5-2h0m4 2h0m1-2h0m1-8h0m0 10h0m5-5h0m2 0h0m1 1h0m1-7h0m0 5h0m1-2h0m2-4h0m18-2h0m2-3h0m5-1h0m3-8h0m9 0h0m0 2h0m4-7h0m0 5h0m1-9h0m0 6h0m2-3h0m0 3h0m5-3h0m1-3h0m2 1h0m2-2h0m3 0h0m0 1h0m2-3h0m1-2h0m6-3h0m3-1h0m1-1h0m7-1h0m2 0h0m3-5h0m5 1h0m2-4h0m2 0h0m10-10h0m3-2h0m1 5h0m3-5h0m1 2h0m1-6h0m0 8h0m1 0h0m5-5h0m1-1h0m5-4h0m1-11h0m13 7h0m0 1h0m6-4h0m4-2h0m6-7h0m4 0h0m6-3h0m1-3h0m0 3h0m2-7h0m6-4h0m1 1h0m1 2h0m3 2h0m4 1h0m6-5h0m1-5h0m4 0h0m1-7h0m6 5h0m2-7h0m7 4h0m18-9h0m2 3h0m6-4h0m3-1h0m0 1h0m5-7h0m1 2h0m1-3h0m4-1h0m1 1h0m3 2h0m11-9h0m1 3h0m11-9h0m0 2h0m1 1h0m1-4h0m1 1h0m1 0h0m3-3h0m6-1h0m6-4h0m3 0h0m3 0h0m6-6h0m0 4h0m3 0h0m7-7h0m1 0h0m1-2h0m3-5h0m2 7h0m1-1h0m4-2h0m1-3h0m3-3h0m2 4h0m4-2h0m2-1h0m2-2h0m13-3h0m8-3h0m2 2h0m1-4h0m14-1h0m2-3h0m2-3h0m0 4h0m1-3h0m0 1h0m9-9h0m3-6h0m1 9h0m3 0h0m11-3h0m2-1h0m2 0h0m3-6h0m0 6h0m1-3h0m0 1h0m2-2h0m2-3h0m0 4h0m7 1h0m10-7h0m6 2h0m13-8h0m2-4h0m2 0h0m3-2h0m0 3h0m1 1h0m2 0h0m6-2h0m1 1h0m2-5h0m0 4h0m6-5h0m5 1h0m1 1h0m3-6h0m1 1h0m1 2h0m0 1h0m3-2h0m2-5h0m4 5h0m2-5h0m7 2h0m12-3h0m1-7h0m2 0h0m0 6h0m3-7h0m9 0h0m6-1h0m0 1h0m1-3h0m3 0h0m1 2h0m1-8h0m0 1h0m2 3h0m2 0h0m1 3h0m3-2h0m4-6h0m3 3h0m3-4h0m6-1h0m9-1h0m1-4h0m1-3h0m0 3h0m0 4h0m1 0h0m1-1h0" stroke="#009e73" stroke-width="14.0" stroke-linecap="round" fill="none"/>
<path transform="scale(.1)" d="M1428 4479h0m0 1h0m1-1h0m3-2h0m10-1h0m7-6h0m11-2h0m2-2h0m1 0h0m2-1h0m14-6h0m0 1h0m6-2h0m1-2h0m16-6h0m3-1h0m2 2h0m2-3h0m3-1h0m1-1h0m7 0h0m6-4h0m9-5h0m11-2h0m3-1h0m1-2h0m3-1h0m5-2h0m2 0h0m2-2h0m5-2h0m3-1h0m12-3h0m5-3h0m24-9h0m5-2h0m4-3h0m10-3h0m7-3h0m5-1h0m2-1h0m1 0h0m6-3h0m1 0h0m1 0h0m10-4h0m11-5h0m9-4h0m30-11h0m2-1h0m3-1h0m7-3h0m8-3h0m4-2h0m1 0h0m1-1h0m10-3h0m5-1h0m1 1h0m11-7h0m12-5h0m2-1h0m0 1h0m2 0h0m6-3h0m5-1h0m1-1h0m4-2h0m6-3h0m2 1h0m8-4h0m3-1h0m7-3h0m5-1h0m10-5h0m7-1h0m16-8h0m3 1h0m7-5h0m6-1h0m4 0h0m10-5h0m11-4h0m2-3h0m10-3h0m12-5h0m9-4h0m6-2h0m6-2h0m3-3h0m5 0h0m10-4h0m3-1h0m6-2h0m2-2h0m13-5h0m1-1h0m2 1h0m7-5h0m5-2h0m45-17h0m1-1h0m1 0h0m1-1h0m0 1h0m10-4h0m1-1h0m4-1h0m0 1h0m15-7h0m7-2h0m5-3h0m3-1h0m1-1h0m16-7h0m4-1h0m6 0h0m24-11h0m19-7h0m15-7h0m7-2h0m2-1h0m1 0h0m9-3h0m2-1h0m13-6h0m10-3h0m2 0h0m12-6h0m13-6h0m3 1h0m2-1h0m12-4h0m7-3h0m4-4h0m2-1h0m1 0h0m1 0h0m4 0h0m21-9h0" stroke="#009e73" stroke-width="14.0" stroke-linecap="round" fill="none"/>
<path transform="scale(.1)" d="M1433 4472h0m18-10h0m9-7h0m30-16h0m6 1h0m14-10h0m46-25h0m5-1h0m4 1h0m3-2h0m3-1h0m12-7h0m6-2h0m1-1h0m9-6h0m14-6h0m8-3h0m8-4h0m10-10h0m5-1h0m0 3h0m4-3h0m35-21h0m6-2h0m12-4h0m17-8h0m1-3h0m13-7h0m6-2h0m13-6h0m2-4h0m19-7h0m5-12h0m8-1h0m27-9h0m28-12h0m6-5h0m9-1h0m3-2h0m25-16h0m33-16h0m3-5h0m4-2h0m6 4h0m38-44h0m1 16h0m5-9h0m7-4h0m9 11h0m17-16h0m8 9h0m34-21h0m4-4h0m5 3h0m7 1h0m10-17h0m13 10h0m48-35h0m10 5h0m8-9h0m19-30h0m9 35h0m41-31h0m28 11h0m28-15h0m4-5h0m15-3h0m4 6h0m20-19h0" stroke="#009e73" stroke-width="14.0" stroke-linecap="round" fill="none"/>
<path transform="scale(.1)" d="M2176 3957h0m23-33h0m47-17h0" stroke="#009e73" stroke-width="14.0" stroke-linecap="round" fill="none"/>
</g>
<g>
<rect x="268.20" y="370.50" width="100.60" height="78.85" fill="none" stroke="#8a8a8a" stroke-width="0.35"/>
<text transform="translate(268.20 453.55) scale(.1)" text-anchor="middle">0</text>
<text transform="translate(279.38 453.55) scale(.1)" text-anchor="middle">2000</text>
<text transform="translate(290.56 453.55) scale(.1)" text-anchor="middle">4000</text>
<text transform="translate(301.73 453.55) scale(.1)" text-anchor="middle">6000</text>
<text transform="translate(312.91 453.55) scale(.1)" text-anchor="middle">8000</text>
<text transform="translate(324.09 453.55) scale(.1)" text-anchor="middle">10000</text>
<text transform="translate(335.27 453.55) scale(.1)" text-anchor="middle">12000</text>
<text transform="translate(346.44 453.55) scale(.1)" text-anchor="middle">14000</text>
<text transform="translate(357.62 453.55) scale(.1)" text-anchor="middle">16000</text>
<text transform="translate(368.80 453.55) scale(.1)" text-anchor="middle">18000</text>
<text transform="translate(265.30 450.40) scale(.1)" text-anchor="end">0</text>
<text transform="translate(265.30 434.63) scale(.1)" text-anchor="end">0.0005</text>
<text transform="translate(265.30 418.86) scale(.1)" text-anchor="end">0.001</text>
<text transform="translate(265.30 403.09) scale(.1)" text-anchor="end">0.0015</text>
<text transform="translate(265.30 387.32) scale(.1)" text-anchor="end">0.002</text>
<text transform="translate(265.30 371.55) scale(.1)" text-anchor="end">0.0025</text>
<path d="M279.38 449.35v-1M279.38 370.50v1M290.56 449.35v-1M290.56 370.50v1M301.73 449.35v-1M301.73 370.50v1M312.91 449.35v-1M312.91 370.50v1M324.09 449.35v-1M324.09 370.50v1M335.27 449.35v-1M335.27 370.50v1M346.44 449.35v-1M346.44 370.50v1M357.62 449.35v-1M357.62 370.50v1M268.20 433.58h1M368.80 433.58h-1M268.20 417.81h1M368.80 417.81h-1M268.20 402.04h1M368.80 402.04h-1M268.20 386.27h1M368.80 386.27h-1" stroke="#8a8a8a" stroke-width="0.3" fill="none"/>
<polygon points="269.4,447.6 284.4,442.8 293,437.5 304.1,431.9 315.3,426.3 326.4,419.3 337.6,412.1 348.7,404.5 355.4,399.8 357.6,393.1 359,388.5 359.6,395.3 358.7,405.4 356.5,408 348.7,413 337.6,419.1 326.4,425 315.3,429.9 304.1,434.8 293,439.2 286.1,442.8 281.1,444.8 269.4,447.8" fill="#9400d3" stroke="none"/>
<path transform="scale(.1)" d="M2694 4477h0m4-4h0m1 2h0m7-4h0m3 1h0m1-1h0m0 1h0m4-2h0m10-4h0m2-5h0m1 1h0m3 0h0m0 3h0m1 0h0m3-5h0m0 4h0m3-2h0m2-1h0m5-2h0m5 0h0m2-2h0m1 1h0m1-3h0m1 2h0m3-2h0m3-6h0m0 2h0m5 2h0m0 2h0m1-4h0m0 3h0m2 0h0m2-6h0m2 3h0m0 2h0m4-11h0m0 8h0m3-3h0m2-3h0m1 1h0m0 3h0m4-3h0m3-1h0m1 0h0m0 2h0m1-7h0m0 2h0m3-2h0m10-5h0m0 2h0m0 5h0m1-1h0m1-4h0m1 5h0m2-8h0m1 3h0m1-3h0m0 2h0m1-2h0m0 6h0m1 0h0m2-3h0m0 3h0m3-4h0m13-4h0m0 2h0m1-1h0m1 1h0m5-9h0m1 3h0m1 1h0m2-1h0m0 3h0m3-1h0m1-4h0m3-2h0m0 3h0m1-8h0m0 8h0m1-1h0m2-4h0m1-7h0m0 6h0m4-4h0m2 3h0m4-7h0m1 2h0m1 0h0m1-1h0m1-1h0m3 0h0m10-7h0m4-1h0m1-4h0m2 1h0m2-4h0m2-2h0m7-2h0m1-2h0m1-1h0m1 1h0m0 1h0m3 0h0m1-8h0m2-1h0m0 6h0m2-2h0m2 1h0m1-2h0m2 0h0m2-3h0m1-1h0m2-1h0m1-5h0m1 3h0m4-4h0m3-7h0m1 3h0m1 1h0m1-4h0m3 5h0m1 1h0m1-5h0m4 0h0m0 1h0m3-1h0m1-3h0m3 1h0m4-6h0m0 4h0m1-5h0m1 2h0m0 1h0m6-5h0m0 4h0m1-2h0m11-7h0m1-5h0m5 4h0m4-5h0m1 2h0m3-7h0m1 5h0m3-4h0m0 2h0m0 1h0m1-8h0m4 1h0m2-5h0m3 4h0m1-3h0m0 4h0m1-2h0m1-3h0m0 5h0m2-14h0m0 6h0m0 3h0m1 0h0m4 0h0m5-9h0m1 6h0m4-7h0m1 0h0m0 1h0m3-4h0m0 8h0m2-1h0m1-2h0m0 2h0m1-5h0m2 0h0m1 1h0m3-3h0m3 0h0m2 1h0m1-8h0m4 2h0m2-6h0m6-4h0m1 0h0m0 5h0m1 1h0m1-4h0m0 5h0m6-6h0m2-2h0m4-2h0m0 3h0m1-7h0m2 1h0m0 4h0m1-2h0m1 2h0m1 1h0m1-15h0m0 10h0m4 2h0m1-8h0m1 3h0m0 4h0m8-6h0m1-1h0m1-4h0m2-4h0m2 5h0m1-1h0m0 3h0m1-6h0m1-2h0m3 6h0m3-5h0m5-1h0m1-5h0m4 3h0m2-6h0m2 4h0m4-5h0m1-2h0m0 6h0m2-8h0m1 0h0m0 6h0m2-8h0m2-4h0m0 5h0m2-1h0m0 4h0m1-1h0m5-2h0m2-6h0m0 4h0m6-10h0m4 2h0m1-11h0m0 8h0m2-6h0m0 3h0m1 6h0m1-3h0m0 5h0m1-5h0m5 1h0m1-3h0m4-9h0m0 7h0m1-12h0m0 8h0m2 3h0m0 2h0m2-11h0m0 7h0m2-11h0m2 5h0m0 2h0m0 3h0m1 0h0m1-4h0m3-4h0m0 5h0m1-6h0m0 2h0m0 3h0m2-8h0m4-5h0m0 3h0m4 1h0m4-4h0m0 4h0m3-4h0m0 1h0m2-9h0m1 6h0m1-3h0m0 1h0m1-4h0m0 2h0m2 0h0m4-1h0m4-11h0m0 9h0m2-10h0m0 12h0m3-2h0m2-8h0m0 5h0m2-11h0m0 3h0m1-2h0m0 3h0m0 4h0m0 3h0m1-4h0m1-6h0m1 1h0m1-7h0m0 9h0m0 3h0m1-3h0m1-5h0m3-1h0m0 3h0m1-3h0m2-2h0m1 4h0m2-11h0m2 11h0m4-7h0m2 2h0m6-3h0m2-5h0m4-2h0m2-6h0m5 4h0m4-1h0m2-1h0m2-15h0m2 7h0m1-1h0m1-10h0m1 11h0m3-10h0m1 11h0m1-6h0m6 1h0m1-4h0m4-1h0m1-3h0m0 2h0m1-2h0m2-7h0m1 7h0m1-5h0m2-6h0m3 9h0m2-9h0m0 3h0m1-11h0m0 9h0m2 0h0m2-4h0m5 0h0m8-5h0m2-5h0m4 4h0m2-4h0m8-8h0m1 2h0m4 0h0m1-1h0m1-7h0m0 2h0m3 1h0m6-7h0m1-1h0m2 1h0m2 0h0m1-2h0m1-9h0m3 9h0m1-10h0m1 5h0m0 5h0m3-7h0m0 3h0m2-8h0m2 2h0m0 4h0m1-7h0m2 1h0m1-3h0m4 1h0m1-2h0m1-8h0m0 6h0m2 0h0m0 4h0m2-2h0m2-8h0m0 7h0m2-4h0m4-15h0m1 12h0m1-4h0m1 1h0m2-1h0m1 2h0m4-2h0m0 2h0m2-12h0m2 6h0m6-12h0m6 3h0m0 2h0m1-5h0m2-8h0m0 4h0m1-16h0m4 15h0m0 6h0m5-7h0m1-2h0m1-2h0m1-12h0m1 16h0m1 0h0m1-1h0m1-7h0m1-5h0m3 9h0m1-4h0m1-3h0m1 3h0m2-5h0m3-6h0m0 3h0m3-2h0m4 3h0m6-4h0m3-7h0m2-1h0m0 3h0m0 2h0m4-11h0m1 3h0m3-10h0m1 1h0m1 9h0m1-15h0m1 14h0m4-15h0m0 10h0m2-5h0m4-3h0m1 1h0m2-3h0m2-4h0m1 9h0m13-27h0m0 9h0m1-5h0m0 9h0m0 2h0m1-4h0m1 4h0m1-5h0m1 2h0m11-6h0m3-2h0m1-4h0m1-17h0m1 1h0m0 8h0m0 6h0m1-1h0m2-13h0m0 14h0m3-4h0m2-6h0m1 3h0m0 6h0m1-10h0m0 3h0m0 2h0m3-4h0m0 1h0m1-2h0m2 0h0m4-9h0m1-9h0m4-8h0m5-8h0m1-20h0m2 5h0m1 5h0m1-15h0m3-8h0m4-13h0m0 5h0m1-17h0m1 10h0m1-11h0m1-3h0m0 10h0m3-12h0m1-8h0m1-3h0" stroke="#9400d3" stroke-width="14.0" stroke-linecap="round" fill="none"/>
<path transform="scale(.1)" d="M2698 4478h0m20-7h0m3-1h0m2-1h0m6 0h0m21-6h0m4 0h0m4-3h0m8 0h0m2 1h0m5-3h0m5-1h0m4-2h0m4-2h0m5-1h0m0 1h0m1-2h0m6 3h0m12-6h0m7 3h0m10-10h0m2-1h0m0 2h0m1-2h0m1 0h0m3-1h0m12-4h0m1 0h0m2-2h0m4 0h0m3-4h0m0 2h0m7-6h0m0 2h0m3-2h0m2-1h0m3 3h0m4-6h0m6-5h0m0 1h0m4-2h0m1-1h0m0 5h0m1-4h0m8-2h0m8-8h0m3 1h0m2-2h0m0 1h0m3-3h0m4-3h0m2-1h0m1 0h0m1 0h0m1-2h0m1 0h0m4-2h0m5-3h0m2 2h0m5-5h0m0 1h0m6 0h0m2-2h0m1-3h0m1 2h0m6 0h0m6-6h0m0 1h0m4-3h0m0 2h0m1-2h0m6-3h0m8-4h0m7-1h0m0 4h0m5-5h0m2-3h0m0 1h0m3-2h0m8-1h0m15-8h0m0 2h0m4-2h0m4-2h0m5-3h0m2 2h0m0 3h0m2-6h0m0 1h0m3 3h0m6-8h0m5-1h0m2-3h0m2 1h0m9-2h0m3-3h0m2-2h0m3 2h0m14-10h0m8-2h0m16-9h0m8-3h0m13-5h0m3-2h0m5-2h0m2-2h0m4 0h0m1-1h0m3-1h0m1-2h0m1 2h0m4-3h0m3 0h0m0 2h0m1-5h0m3-1h0m6 0h0m6-1h0m1-4h0m3-1h0m6-2h0m0 1h0m4-2h0m4-2h0m5 0h0m4-3h0m5-5h0m1-1h0m6 1h0m6-4h0m8-2h0m9-5h0m5-5h0m1 0h0m2 3h0m6-4h0m2-2h0m0 1h0m4-4h0m8-3h0m1 2h0m9-5h0m2-3h0m3 3h0m3-4h0m1 0h0m1-4h0m2-1h0m5-1h0m2-3h0m0 1h0m1 0h0m0 2h0m2-3h0m3-2h0m5-4h0m0 2h0m3-1h0m1 0h0m1-1h0m4-4h0m12-6h0m2-1h0m1-1h0m1 0h0m2 0h0m8-5h0m6-4h0m1 0h0m2-1h0m7-1h0m7-1h0m2-7h0m5-2h0m2 0h0m1-2h0m0 1h0m4-4h0m9-4h0m7 1h0m2-4h0m1-3h0m0 1h0m2-1h0m2-2h0m17-9h0m2 3h0m6-7h0m5-4h0m2 0h0m0 2h0m0 2h0m1-3h0m2-2h0m16-10h0m9-4h0m0 3h0m5-6h0m6-4h0m3 1h0m5-5h0m1 0h0m0 2h0m2-2h0m1-1h0m1 1h0m2-1h0m3-3h0m3-2h0m1 0h0m1 2h0m8-9h0m6-4h0m6-4h0m3 4h0m3-6h0m5-4h0m0 1h0m3-5h0m2-1h0m1 0h0m1-1h0m1 0h0m2-1h0m4-3h0m3-1h0m1 2h0m2-5h0m1 1h0m2-3h0m1 2h0m9-7h0m3-4h0m1 1h0m3-2h0m1 4h0m2-7h0m2-1h0m5-4h0m3-4h0m1-1h0m1-5h0m2 0h0m4-5h0" stroke="#9400d3" stroke-width="14.0" stroke-linecap="round" fill="none"/>
<path transform="scale(.1)" d="M2699 4471h0m5 1h0m2-4h0m0 3h0m2-2h0m10-7h0m3 5h0m2-2h0m9-4h0m4 2h0m2-8h0m10 1h0m16-5h0m2 0h0m10-7h0m11-7h0m3-22h0m2 29h0m4-7h0m3-7h0m0 10h0m11-6h0m3 0h0m2 0h0m1 2h0m5-5h0m8 1h0m2 0h0m7-10h0m13-11h0m19-3h0m2 1h0m0 1h0m1 0h0m11-19h0m3 1h0m27-25h0m5 8h0m4-9h0m1 10h0m4-7h0m4 2h0m8-6h0m0 2h0m1 0h0m3-4h0m4-10h0m2-8h0m0 1h0m0 19h0m7-15h0m10 5h0m16-9h0m4-1h0m2 0h0m6-4h0m2-1h0m2-37h0m3 32h0m20-12h0m0 5h0m24-36h0m3 23h0m3-22h0m10 13h0m7-27h0m3 22h0m4-27h0m1 18h0m7 3h0m5-2h0m24-22h0m3-10h0m6 16h0m2-6h0m1-18h0m0 6h0m5-21h0m31 3h0m1-1h0m10 11h0m7-11h0m4-16h0m1 11h0m0 4h0m15-96h0m16 70h0m11-18h0m2-19h0m11 19h0m1-14h0m2 13h0m2 7h0m7-4h0m7-32h0m0 16h0m5-9h0m0 12h0m4-11h0m1 9h0m3-22h0m4-6h0m6 24h0m17-22h0m5 10h0m2-5h0m5 2h0m1-2h0m16-27h0m3-8h0m2-23h0m7 23h0m0 7h0m19-57h0m2 38h0m3 12h0m11-24h0m2 10h0m5-81h0m2 52h0m8 22h0m5-122h0m0 88h0m17 9h0m6-12h0m3 21h0m9-9h0m4-28h0m17-30h0m3 20h0m0 9h0m17-33h0m2-38h0m8 57h0m1-39h0m8-37h0m4 69h0m3-22h0m2-19h0m4 25h0m8 6h0m0 2h0m4-1h0m14-29h0m4-76h0m5 20h0m13 48h0m22-79h0m2-75h0m11 55h0" stroke="#9400d3" stroke-width="14.0" stroke-linecap="round" fill="none"/>
<path transform="scale(.1)" d="M2997 4195h0m11 11h0m51 45h0m139-56h0m22-45h0m55-78h0m23-11h0m22-73h0m67 6h0m78-49h0m33-51h0m34-60h0m4-29h0" stroke="#9400d3" stroke-width="14.0" stroke-linecap="round" fill="none"/>
<polygon points="268.7,441.4 359.6,441.4 359.6,443.2 268.7,443.2" fill="#009e73" stroke="none"/>
<path transform="scale(.1)" d="M2693 4415h0m2-1h0m10 1h0m4-1h0m5 1h0m1-1h0m14 0h0m10 0h0m18 1h0m3-3h0m14 1h0m3 1h0m17 0h0m6 1h0m1 0h0m7-4h0m1 1h0m3 3h0m2-4h0m0 1h0m0 2h0m0 1h0m2-1h0m8-3h0m1 4h0m5-3h0m2 1h0m0 2h0m2 0h0m1-1h0m3 1h0m4-3h0m6 2h0m7-1h0m21 0h0m13 2h0m13-1h0m0 1h0m26-3h0m2 1h0m1 0h0m4 0h0m0 1h0m1-1h0m14 0h0m13 2h0m22-2h0m11-2h0m7 4h0m4 0h0m1-2h0m2 2h0m13-1h0m22 0h0m4 0h0m1 1h0m18 0h0m6-1h0m6 0h0m11 1h0m7 0h0m30-2h0m1-1h0m4 3h0m1-4h0m0 2h0m0 1h0m3 0h0m2 0h0m12 0h0m2 1h0m1 0h0m3-1h0m2 1h0m11-2h0m3 2h0m1-1h0m3 1h0m4 0h0m4 0h0m5 0h0m1-2h0m5 2h0m5 0h0m2-1h0m1-1h0m3 2h0m4-4h0m0 4h0m3-1h0m9 0h0m4 0h0m3-1h0m3 2h0m5-1h0m3 1h0m9-2h0m7 2h0m1 0h0m1 0h0m3-2h0m0 1h0m29 0h0m1 0h0m1 0h0m3-1h0m5 2h0m2 0h0m24-2h0m2 2h0m6-2h0m3 1h0m10 0h0m5 1h0m11-1h0m2-2h0m20 3h0m15-2h0m5-1h0m10 1h0m3 2h0m4-1h0m4-1h0m3 1h0m17-1h0m4-3h0m8 4h0m3 0h0m5 0h0m4-3h0m7 4h0m7-2h0m1 2h0m4-2h0m0 1h0m4 1h0m2 0h0m7-1h0m0 1h0m1-3h0m2 0h0m4 0h0m13 1h0m1 1h0m1-1h0m7 2h0m4-2h0m2-1h0m3 1h0m4-2h0m10 2h0m2 1h0m2-2h0m3 1h0m6-3h0m1 3h0m12 2h0m4 0h0m2 0h0" stroke="#009e73" stroke-width="14.0" stroke-linecap="round" fill="none"/>
<path transform="scale(.1)" d="M2688 4432h0m3-1h0m2 1h0m34-2h0m74 0h0m3 1h0m18-1h0m17 0h0m6 1h0m16 0h0m12 2h0m1-3h0m9 0h0m2 2h0m6-2h0m2 1h0m7 1h0m12-2h0m2 1h0m8-1h0m0 3h0m28 0h0m11-2h0m12 0h0m3-1h0m2 1h0m8-1h0m16 0h0m8 1h0m8-1h0m1 1h0m8-1h0m7 1h0m4 2h0m9-2h0m3-1h0m3 1h0m5 1h0m8 1h0m12-3h0m24 1h0m6 0h0m1-1h0m18 0h0m25 1h0m14 0h0m13 0h0m14 0h0m0 1h0m13-1h0m5-1h0m4 2h0m2-1h0m0 1h0m1-1h0m13-1h0m19 1h0m1 1h0m12 0h0m26-1h0m54 0h0m7 0h0m2 0h0m16 0h0m15 1h0m41 0h0m11-1h0m24 0h0m23 2h0m3-2h0m2 0h0m33-1h0m2 3h0m7-3h0m1 1h0m5 1h0m17-1h0m26 0h0m6 0h0m10-1h0" stroke="#009e73" stroke-width="14.0" stroke-linecap="round" fill="none"/>
<path transform="scale(.1)" d="M2713 4397h0m8 9h0m24-1h0m112-3h0m79 8h0m20 2h0m67-26h0m66 23h0m33 4h0m20-1h0m80-4h0m52 4h0m11-15h0m28 11h0m21 6h0m31-7h0m70-37h0m26 36h0m2 7h0m28-5h0m8-19h0m13 22h0m16-11h0m24 9h0m17-14h0" stroke="#009e73" stroke-width="14.0" stroke-linecap="round" fill="none"/>
<path transform="scale(.1)" d="M2684 4278h0m33-43h0m144 33h0m274 49h0m103-66h0m37 71h0m11-78h0m41-9h0m60-14h0m78 14h0" stroke="#009e73" stroke-width="14.0" stroke-linecap="round" fill="none"/>
</g>
<g>
<rect x="11.70" y="461.25" width="103.80" height="78.85" fill="none" stroke="#8a8a8a" stroke-width="0.35"/>
<text transform="translate(11.70 544.30) scale(.1)" text-anchor="middle">0</text>
<text transform="translate(26.53 544.30) scale(.1)" text-anchor="middle">10000</text>
<text transform="translate(41.36 544.30) scale(.1)" text-anchor="middle">20000</text>
<text transform="translate(56.19 544.30) scale(.1)" text-anchor="middle">30000</text>
<text transform="translate(71.01 544.30) scale(.1)" text-anchor="middle">40000</text>
<text transform="translate(85.84 544.30) scale(.1)" text-anchor="middle">50000</text>
<text transform="translate(100.67 544.30) scale(.1)" text-anchor="middle">60000</text>
<text transform="translate(115.50 544.30) scale(.1)" text-anchor="middle">70000</text>
<text transform="translate(8.80 541.15) scale(.1)" text-anchor="end">0</text>
<text transform="translate(8.80 532.39) scale(.1)" text-anchor="end">0.05</text>
<text transform="translate(8.80 523.63) scale(.1)" text-anchor="end">0.1</text>
<text transform="translate(8.80 514.87) scale(.1)" text-anchor="end">0.15</text>
<text transform="translate(8.80 506.11) scale(.1)" text-anchor="end">0.2</text>
<text transform="translate(8.80 497.34) scale(.1)" text-anchor="end">0.25</text>
<text transform="translate(8.80 488.58) scale(.1)" text-anchor="end">0.3</text>
<text transform="translate(8.80 479.82) scale(.1)" text-anchor="end">0.35</text>
<text transform="translate(8.80 471.06) scale(.1)" text-anchor="end">0.4</text>
<text transform="translate(8.80 462.30) scale(.1)" text-anchor="end">0.45</text>
<path d="M26.53 540.10v-1M26.53 461.25v1M41.36 540.10v-1M41.36 461.25v1M56.19 540.10v-1M56.19 461.25v1M71.01 540.10v-1M71.01 461.25v1M85.84 540.10v-1M85.84 461.25v1M100.67 540.10v-1M100.67 461.25v1M11.70 531.34h1M115.50 531.34h-1M11.70 522.58h1M115.50 522.58h-1M11.70 513.82h1M115.50 513.82h-1M11.70 505.06h1M115.50 505.06h-1M11.70 496.29h1M115.50 496.29h-1M11.70 487.53h1M115.50 487.53h-1M11.70 478.77h1M115.50 478.77h-1M11.70 470.01h1M115.50 470.01h-1" stroke="#8a8a8a" stroke-width="0.3" fill="none"/>
<polygon points="11.7,539.5 56.8,532.4 56.8,532.6 11.7,539.7" fill="#9400d3" stroke="none"/>
<path transform="scale(.1)" d="M119 5395h0m1 0h0m14-9h0m0 6h0m5-5h0m5 2h0m2 1h0m3-8h0m4 5h0m1 3h0m4-2h0m6 0h0m9-4h0m3 3h0m3-3h0m6 1h0m4-2h0m2-1h0m10-5h0m10 3h0m4 1h0m7-2h0m3 0h0m1-2h0m5-8h0m1 8h0m6-5h0m12 3h0m3-4h0m1-1h0m0 4h0m2-1h0m10-7h0m1 2h0m15-1h0m15-1h0m2 0h0m3 0h0m3 0h0m3-1h0m2-1h0m3 2h0m6-2h0m3-4h0m0 2h0m6-1h0m12-1h0m2-1h0m23-4h0m5 1h0m4-7h0m5 6h0m2-2h0m9-1h0m11-2h0m3 0h0m5-2h0m6-1h0m7-4h0m5 1h0m7 0h0m6 0h0m3-2h0m4 3h0m2-4h0m0 3h0m3-2h0m1 0h0m9-1h0m2-3h0m17-2h0m4 1h0m7 0h0m4 0h0m8-2h0m1-1h0m1 0h0m2 1h0m3-1h0m1-1h0m1 1h0m2-3h0m0 2h0m3 0h0m1-6h0m3 6h0m2-1h0m7-4h0m6-2h0m1 4h0m2-1h0m4-3h0m1 0h0m6 0h0m3 2h0m7-3h0m2-3h0m0 3h0" stroke="#9400d3" stroke-width="14.0" stroke-linecap="round" fill="none"/>
<path transform="scale(.1)" d="M121 5396h0m11-3h0m0 1h0m5 0h0m13-2h0m4 0h0m1-3h0m21-1h0m6-2h0m9-2h0m51-8h0m11-2h0m29-5h0m5 1h0m8-2h0m2-1h0m8 0h0m7-1h0m30-5h0m2 0h0m1-1h0m15-3h0m13 0h0m8-3h0m0 1h0m7-1h0m3 0h0m4 0h0m3 0h0m11-2h0m13-2h0m8-1h0m12-4h0m3 3h0m4-3h0m1-1h0m22-4h0m15-2h0m16-3h0m9 0h0m6 1h0m18-4h0m7-2h0m1 1h0m6-3h0m9 1h0m6-2h0m3-2h0" stroke="#9400d3" stroke-width="14.0" stroke-linecap="round" fill="none"/>
<path transform="scale(.1)" d="M605 5319h0m30 0h0" stroke="#9400d3" stroke-width="14.0" stroke-linecap="round" fill="none"/>
<polygon points="11.7,536.4 56.8,525.7 56.8,526.8 11.7,537.5" fill="#9400d3" stroke="none"/>
<path transform="scale(.1)" d="M121 5362h0m8-6h0m10 1h0m7-1h0m6 1h0m3-3h0m2-4h0m3 3h0m2 1h0m15-5h0m5-4h0m3 3h0m3 0h0m3-4h0m0 2h0m4-6h0m3 1h0m0 1h0m2 0h0m11-4h0m8 1h0m5-1h0m9-3h0m2 0h0m5-3h0m3 0h0m1-3h0m2 4h0m20-4h0m5-5h0m1 2h0m2-1h0m1-1h0m2 2h0m3 0h0m8-1h0m2-5h0m6 2h0m4 0h0m1-8h0m3 6h0m2-2h0m1-1h0m0 3h0m8-4h0m11-4h0m3 2h0m1 1h0m8-3h0m5-2h0m1-2h0m6 1h0m7-4h0m0 2h0m2 0h0m2-4h0m1 2h0m1-4h0m2 5h0m4-5h0m1 4h0m6-3h0m2 1h0m5-3h0m4 1h0m3-3h0m0 1h0m2-2h0m3-1h0m4 2h0m5-3h0m14-9h0m0 4h0m1 2h0m5-1h0m8-2h0m1 1h0m4-3h0m2 0h0m8-2h0m6-2h0m2-1h0m2 1h0m0 1h0m1-6h0m1 2h0m1 3h0m9-4h0m1 2h0m4-1h0m2 0h0m2-3h0m3 2h0m11-3h0m1-7h0m1 7h0m3-4h0m0 1h0m8 0h0m8-4h0m1-3h0m6-2h0m4 2h0m0 3h0m9-10h0m0 7h0m2-3h0m3 1h0m2-1h0m4-4h0m8 1h0m0 2h0m3-7h0m1 6h0m1-2h0m3 1h0" stroke="#9400d3" stroke-width="14.0" stroke-linecap="round" fill="none"/>
<path transform="scale(.1)" d="M121 5376h0m2-3h0m0 3h0m6-4h0m11-3h0m7-2h0m2-1h0m5 0h0m26-3h0m4-3h0m21-7h0m0 2h0m17-6h0m0 2h0m4-3h0m2 2h0m12-4h0m2-1h0m7-2h0m9-3h0m1 1h0m2-1h0m3-1h0m10-2h0m15-2h0m22-5h0m8-3h0m4 0h0m6-3h0m3 1h0m9-4h0m9-2h0m5 1h0m3-3h0m0 1h0m7 2h0m2-4h0m10 1h0m2-4h0m1 4h0m12-8h0m7-1h0m16-5h0m9 2h0m12-7h0m2 0h0m2-1h0m7 2h0m1-1h0m8-4h0m16-3h0m33-8h0m10-4h0m16-2h0m0 2h0m6-4h0m1-1h0m1 0h0m2 0h0m10-3h0" stroke="#9400d3" stroke-width="14.0" stroke-linecap="round" fill="none"/>
<polygon points="58.2,523.2 80.9,513.8 80.9,517.4 58.2,526.7" fill="#9400d3" stroke="none"/>
<path transform="scale(.1)" d="M582 5226h0m0 2h0m1 4h0m0 1h0m7-4h0m5-8h0m3-2h0m0 4h0m3-8h0m0 9h0m6-3h0m6-2h0m2-1h0m0 1h0m3-3h0m3-3h0m2-1h0m2 1h0m1-7h0m5 2h0m1 1h0m0 2h0m1-11h0m1 8h0m0 3h0m1-2h0m3-2h0m2-1h0m1 3h0m1-7h0m0 3h0m2 0h0m1-3h0m0 1h0m1-10h0m1 9h0m0 1h0m8-1h0m1-1h0m5-1h0m4-8h0m0 6h0m4-1h0m2-1h0m2-6h0m0 3h0m0 1h0m2-6h0m1 4h0m0 1h0m8-7h0m0 5h0m1-3h0m1 1h0m2-12h0m1 10h0m0 1h0m2-8h0m0 7h0m1-3h0m4 1h0m1-4h0m5 0h0m3 0h0m8-3h0m2 0h0m2-3h0m5-7h0m0 6h0m1-5h0m3-4h0m2 7h0m6-2h0m0 1h0m5-8h0m5-4h0m0 5h0m9-3h0m1 0h0m5-14h0m2 5h0m1 1h0m2-3h0m4 2h0m1-6h0m3 7h0m2-3h0m0 2h0m1-4h0m3-1h0m1 0h0m1 0h0m1 0h0m1-2h0m0 5h0m3-6h0m1 2h0m0 1h0m1-5h0m1 6h0m1-5h0m0 2h0m1-4h0m1 2h0m2-3h0m1 2h0m0 2h0m0 2h0m2-7h0m2 4h0m0 1h0m1-1h0m1-2h0m1 1h0m3-5h0m1-7h0m2 2h0m0 4h0" stroke="#9400d3" stroke-width="14.0" stroke-linecap="round" fill="none"/>
<path transform="scale(.1)" d="M583 5270h0m1-4h0m4 3h0m3 3h0m1-9h0m2-3h0m15-4h0m2-1h0m1 0h0m2-2h0m4-2h0m7-3h0m4 0h0m8-4h0m0 1h0m0 1h0m5-3h0m2-1h0m2-2h0m12-4h0m5 0h0m29-15h0m7-4h0m0 1h0m6-3h0m0 2h0m1 1h0m3-4h0m2 0h0m5 2h0m5-7h0m0 1h0m0 1h0m3-2h0m3-3h0m0 1h0m1 2h0m9-7h0m1 0h0m3-2h0m8 0h0m2 0h0m3-3h0m5-5h0m3 6h0m7-9h0m5 3h0m1-4h0m2-1h0m6-3h0m1 1h0m4 2h0m1-6h0m1-1h0m3 3h0m5-4h0m2-1h0m3-2h0m4 0h0m1-1h0" stroke="#9400d3" stroke-width="14.0" stroke-linecap="round" fill="none"/>
<path transform="scale(.1)" d="M582 5227h0m20-12h0m16-9h0m0 3h0m7 0h0m1 1h0m7-9h0m24-17h0m3 3h0m1-3h0m1 7h0m12 1h0m3-20h0m6 10h0m2 3h0m8-13h0m1-5h0m14 12h0m4-13h0m19-2h0m11-4h0m2 1h0m8-32h0m4 5h0m14 16h0m1-1h0m27-7h0m4-19h0m2 16h0m1-2h0" stroke="#9400d3" stroke-width="14.0" stroke-linecap="round" fill="none"/>
<polygon points="81.9,505.1 108.3,497.1 108.3,498.6 81.9,506.7" fill="#9400d3" stroke="none"/>
<path transform="scale(.1)" d="M821 5044h0m5-4h0m4-4h0m1 9h0m1-6h0m3 6h0m1 0h0m0 1h0m0 1h0m4-2h0m0 1h0m2-2h0m3-5h0m0 3h0m3-1h0m2-3h0m2-5h0m0 4h0m2 1h0m1 1h0m4 1h0m2-1h0m2 1h0m11-8h0m5 1h0m4-10h0m6 5h0m5-4h0m1-4h0m0 3h0m0 4h0m2 1h0m1-5h0m1 4h0m1 1h0m3-10h0m0 9h0m4-4h0m2-5h0m0 3h0m0 4h0m1-8h0m3 7h0m5-6h0m0 1h0m13-5h0m1 1h0m5-5h0m5 2h0m1-4h0m3-1h0m0 2h0m0 2h0m2 2h0m1-2h0m4 0h0m3-8h0m2 2h0m1 2h0m3-1h0m0 1h0m1 1h0m3-5h0m2 0h0m1 2h0m1 0h0m7-7h0m0 3h0m1-3h0m4 5h0m1-4h0m4-1h0m1-7h0m9 7h0m3-5h0m8-5h0m2-1h0m0 5h0m1 1h0m1-1h0m2-2h0m5-1h0m1-1h0m0 4h0m2-7h0m0 1h0m1-1h0m2 4h0m1 0h0m3-1h0m2-6h0m0 6h0m3-4h0m1 1h0m2-4h0m3 2h0m4-9h0m0 3h0m0 7h0m5-7h0m0 6h0m2-1h0m1-4h0m2-3h0m2 1h0m1 1h0m1-2h0m4-10h0m4 8h0m1 1h0m0 2h0m1-2h0m0 3h0m2-7h0m1 1h0m3 3h0m3-2h0" stroke="#9400d3" stroke-width="14.0" stroke-linecap="round" fill="none"/>
<path transform="scale(.1)" d="M820 5065h0m5 1h0m2 1h0m1 2h0m2-6h0m4 0h0m3 2h0m2-3h0m2-1h0m0 2h0m5-5h0m3 3h0m3-5h0m24-8h0m8-1h0m2 1h0m3 1h0m6-4h0m3 0h0m1 0h0m1-2h0m9-1h0m3-2h0m0 1h0m2-3h0m1-2h0m1 3h0m5-2h0m8-4h0m1 2h0m1-2h0m0 3h0m2-3h0m3 1h0m1 1h0m3-3h0m1-3h0m1 1h0m2-3h0m13-1h0m3-1h0m10-6h0m6 1h0m17-7h0m2 3h0m6-6h0m2-1h0m10-3h0m0 1h0m7-1h0m1 0h0m4-1h0m11-1h0m14-5h0m9-4h0m3-3h0m0 3h0m1-4h0m4 2h0" stroke="#9400d3" stroke-width="14.0" stroke-linecap="round" fill="none"/>
<path transform="scale(.1)" d="M823 5044h0m4-5h0m11-17h0m24 11h0m7-26h0m7 24h0m6 0h0m17-15h0m4-3h0m1-3h0m5 9h0m8-41h0m16-1h0m12-37h0m0 52h0m10 0h0m14 6h0m1 7h0m7-7h0m3-17h0m8 9h0m11 0h0m6-20h0m22 7h0m0 8h0m6-7h0m8 3h0m25-12h0m4 1h0m3-10h0" stroke="#9400d3" stroke-width="14.0" stroke-linecap="round" fill="none"/>
<polygon points="80.9,513.4 108.3,508.4 108.3,509.4 80.9,514.4" fill="#9400d3" stroke="none"/>
<path transform="scale(.1)" d="M810 5133h0m2-1h0m8-2h0m2-2h0m14 2h0m3-6h0m0 4h0m4-2h0m1 1h0m1-1h0m4-4h0m1 3h0m1 3h0m1-2h0m1-6h0m0 5h0m3-3h0m3 3h0m3-1h0m2-2h0m1 0h0m0 3h0m11-7h0m2 1h0m1-1h0m2 3h0m4-7h0m2 6h0m2-11h0m0 12h0m4-2h0m2-4h0m9-6h0m4 4h0m1 1h0m0 2h0m1-6h0m2 2h0m3 0h0m3 1h0m4-3h0m0 2h0m1 3h0m6-5h0m2 1h0m3-1h0m4-2h0m10-6h0m2 7h0m3-2h0m2-1h0m1 1h0m2 0h0m4-3h0m1-1h0m0 4h0m2-1h0m1-2h0m2 1h0m4-6h0m1 4h0m2-7h0m1 6h0m8 1h0m4-7h0m0 6h0m3-9h0m5 5h0m5 1h0m2-4h0m1 4h0m5-3h0m2-1h0m0 3h0m1-1h0m0 1h0m4-6h0m3 4h0m1-4h0m6-6h0m2 3h0m1 4h0m7-2h0m3 2h0m2-4h0m6 1h0m0 2h0m5-3h0m4-10h0m4 7h0m1-2h0m0 3h0m3-4h0m2 2h0m1 1h0m1-1h0m2 0h0m1 0h0m12-4h0" stroke="#9400d3" stroke-width="14.0" stroke-linecap="round" fill="none"/>
<path transform="scale(.1)" d="M816 5141h0m2 0h0m3-1h0m1 1h0m2-1h0m36-3h0m4-3h0m1 1h0m6-1h0m9-3h0m0 2h0m3-3h0m2-1h0m2 4h0m2-1h0m8-4h0m15-3h0m5-2h0m1 0h0m10 1h0m14-6h0m5 0h0m1 0h0m1-1h0m5 1h0m3 1h0m7-4h0m10-3h0m3 3h0m1-2h0m1-1h0m1 0h0m2 2h0m20-5h0m2 0h0m10-3h0m4 0h0m15-3h0m4 1h0m4-2h0m1 0h0m7-3h0m2 2h0m12-4h0m1 2h0m2-3h0m5 1h0m0 1h0m1-2h0m4 0h0" stroke="#9400d3" stroke-width="14.0" stroke-linecap="round" fill="none"/>
<path transform="scale(.1)" d="M814 5130h0m18-32h0m47 12h0m2-9h0m8 12h0m5-46h0m26 32h0m3 10h0m1 4h0m4-24h0m2 20h0m13-11h0m9 7h0m5-10h0m31-2h0m24 1h0m18-19h0m12-9h0m9 5h0m4 10h0" stroke="#9400d3" stroke-width="14.0" stroke-linecap="round" fill="none"/>
<polygon points="80.9,517.7 108.3,513.6 108.3,514.1 80.9,518.1" fill="#9400d3" stroke="none"/>
<path transform="scale(.1)" d="M813 5177h0m1-2h0m0 1h0m1-1h0m4-2h0m5 2h0m11-8h0m2 7h0m4-4h0m0 1h0m3 2h0m2 0h0m4-4h0m1 0h0m8-4h0m0 1h0m0 3h0m4-1h0m2 0h0m2 0h0m0 1h0m1-3h0m5 0h0m4 1h0m1-5h0m4 1h0m1 3h0m1-1h0m0 1h0m3-1h0m1 0h0m0 2h0m2-1h0m1-5h0m1 1h0m1 0h0m2 3h0m2-5h0m3 3h0m1-1h0m2 0h0m0 2h0m5-5h0m0 3h0m3-4h0m4 5h0m1-1h0m5-3h0m4-2h0m0 2h0m1-2h0m0 1h0m0 3h0m1-2h0m4-2h0m11 0h0m2 1h0m3-5h0m2 4h0m3-3h0m3-2h0m8-1h0m7 0h0m3 0h0m2-3h0m2 3h0m4 0h0m2 0h0m1 2h0m3-4h0m1 1h0m1 1h0m4-2h0m0 2h0m1-5h0m3 2h0m2-2h0m2 4h0m7-2h0m3-1h0m5-4h0m0 4h0m4-1h0m2-1h0m2-1h0m1-1h0m6-2h0m4 3h0m4-5h0m9 4h0m2-4h0m6 3h0m3-7h0m13 3h0m4-2h0m4-1h0m0 3h0m1-3h0" stroke="#9400d3" stroke-width="14.0" stroke-linecap="round" fill="none"/>
<path transform="scale(.1)" d="M813 5183h0m1-1h0m11-4h0m3-1h0m1 1h0m3-1h0m4 0h0m6-2h0m6 0h0m12 1h0m12-4h0m7-2h0m1 0h0m1 0h0m12-1h0m15-2h0m1 0h0m3-1h0m4-2h0m4 0h0m12-2h0m3 0h0m10-1h0m9-2h0m5-1h0m6 0h0m11-2h0m4 1h0m5-2h0m10-2h0m0 1h0m6-2h0m2-1h0m3 1h0m7 1h0m1-3h0m9 2h0m3-4h0m0 2h0m13-4h0m7 1h0m4-2h0m2 2h0m0 2h0m1-3h0m11-2h0m13-1h0m4-2h0" stroke="#9400d3" stroke-width="14.0" stroke-linecap="round" fill="none"/>
<path transform="scale(.1)" d="M401 5299h0m184-117h0m217-101h0m10 34h0m4-34h0m60-33h0" stroke="#9400d3" stroke-width="14.0" stroke-linecap="round" fill="none"/>
<polygon points="11.7,537.4 56.8,522 56.8,523.1 11.7,538.5" fill="#009e73" stroke="none"/>
<path transform="scale(.1)" d="M128 5369h0m1 0h0m1 1h0m0 1h0m8-5h0m1 1h0m3-8h0m5 2h0m14-2h0m2 1h0m2-7h0m0 4h0m5-1h0m3 0h0m6-2h0m1-3h0m0 1h0m2 0h0m3-2h0m5-1h0m1 0h0m0 1h0m1-3h0m16-4h0m4-1h0m3-1h0m4-3h0m10-1h0m4-2h0m16-7h0m6-2h0m7-2h0m1 1h0m2-1h0m3-6h0m2-1h0m1-1h0m2 2h0m1-1h0m0 4h0m20-6h0m1-6h0m0 2h0m6-1h0m3-3h0m2 2h0m1 0h0m5-3h0m0 1h0m1 0h0m2-7h0m2 6h0m0 1h0m1-2h0m2 1h0m2-1h0m4-6h0m3 1h0m3-5h0m0 4h0m9-6h0m4 5h0m5-5h0m3-5h0m0 5h0m1-1h0m2-2h0m3 0h0m1 1h0m12-4h0m2-3h0m1-1h0m0 4h0m1-2h0m2-4h0m1 5h0m1-2h0m5 0h0m2-4h0m0 3h0m2-6h0m1 3h0m3 0h0m5-3h0m2-1h0m2 1h0m5-7h0m1 3h0m7 0h0m3-9h0m4 0h0m3 6h0m4-4h0m3-4h0m5 4h0m3-7h0m4 1h0m4 1h0m2 0h0m1-4h0m4 0h0m1 1h0m2 0h0m3-4h0m2 2h0m9-3h0m1-4h0m4 0h0m7 2h0m2-1h0m2-3h0m7-6h0m1 3h0m10-3h0m0 2h0m1-4h0m2-2h0m4 3h0m1-5h0m3 3h0m4-2h0m5-3h0m6 0h0m1-9h0m0 8h0m2-2h0m6 0h0m2-3h0m2-1h0m0 1h0m2-4h0m2 5h0m1-2h0m8-1h0m5-10h0m5 6h0" stroke="#009e73" stroke-width="14.0" stroke-linecap="round" fill="none"/>
<path transform="scale(.1)" d="M128 5380h0m5-2h0m7-2h0m11-3h0m2-1h0m12-5h0m1 4h0m1-4h0m5-1h0m5-1h0m1-1h0m7-3h0m1 1h0m3-3h0m11-4h0m13-3h0m9-4h0m5-1h0m7-1h0m3-2h0m1-2h0m10-2h0m4-2h0m5-1h0m4-3h0m4 0h0m6-3h0m4 2h0m15-6h0m2-2h0m5-1h0m1-1h0m6-3h0m2 1h0m3-1h0m8-1h0m1-3h0m8-3h0m5-2h0m5 0h0m8-4h0m15-4h0m2 0h0m4-1h0m7-5h0m6 1h0m11-6h0m6-1h0m1-2h0m8-2h0m4-2h0m20-5h0m4-2h0m4-2h0m7 0h0m14-7h0m2 2h0m18-10h0m0 2h0m30-12h0m0 1h0m0 1h0m16-6h0m3-1h0m12-5h0m1-1h0m1 3h0m11-6h0m6 0h0m1-2h0" stroke="#009e73" stroke-width="14.0" stroke-linecap="round" fill="none"/>
<polygon points="56.8,522.2 70.9,517.5 70.9,518.3 56.8,523" fill="#009e73" stroke="none"/>
<path transform="scale(.1)" d="M569 5223h0m1-3h0m5-1h0m3-1h0m2-2h0m3 0h0m0 2h0m1-4h0m11 0h0m3-2h0m8-2h0m0 1h0m1-2h0m0 1h0m9-9h0m0 6h0m6-4h0m2-1h0m1-2h0m3 0h0m4-2h0m1-1h0m14-4h0m1 2h0m2-1h0m3-6h0m5 3h0m0 2h0m1-3h0m0 1h0m8-5h0m1-1h0m1 3h0m1-1h0m6 0h0m4-9h0m14 2h0m6-2h0m1-3h0m3-2h0" stroke="#009e73" stroke-width="14.0" stroke-linecap="round" fill="none"/>
<path transform="scale(.1)" d="M573 5232h0m2-5h0m7-2h0m11-5h0m3 0h0m2-1h0m3-1h0m2-1h0m3-1h0m9-3h0m16-6h0m7-2h0m2-1h0m4 0h0m40-11h0m2-4h0m1 2h0m8-3h0m4-2h0m8-4h0" stroke="#009e73" stroke-width="14.0" stroke-linecap="round" fill="none"/>
<polygon points="11.7,534.3 56.8,515.9 56.8,517.3 11.7,535.6" fill="#009e73" stroke="none"/>
<path transform="scale(.1)" d="M119 5342h0m1-2h0m2-6h0m3 4h0m2-3h0m0 4h0m1-1h0m2-5h0m1 2h0m0 2h0m0 1h0m1-3h0m2-2h0m1 2h0m3-4h0m1 4h0m6-7h0m0 4h0m2-6h0m2 5h0m3-5h0m5-1h0m4-7h0m5 5h0m4-5h0m5 0h0m5-1h0m3-2h0m2 1h0m1-2h0m1-1h0m5-7h0m8 2h0m2 1h0m1-6h0m0 5h0m9-5h0m1-3h0m0 1h0m4-3h0m3 4h0m2-2h0m1 1h0m1-2h0m3-3h0m0 1h0m3-1h0m3-1h0m9-4h0m0 1h0m5-1h0m5-3h0m2-5h0m2 2h0m0 2h0m4-2h0m1-1h0m1-2h0m4-3h0m0 4h0m1-1h0m1 1h0m3-2h0m4-2h0m4-2h0m1-3h0m7-10h0m1 4h0m0 6h0m12-5h0m4-4h0m4-2h0m1-1h0m2 3h0m1-3h0m0 2h0m3-4h0m0 3h0m3-11h0m0 3h0m13-4h0m0 2h0m1 1h0m0 1h0m7-6h0m3 2h0m5-2h0m2-7h0m1 5h0m7-2h0m3-4h0m1 3h0m3-4h0m5 1h0m1 0h0m6-6h0m1 0h0m1-2h0m5-3h0m6 1h0m6-3h0m0 3h0m9-12h0m0 4h0m2 1h0m18-7h0m1-4h0m7-1h0m5 0h0m2 1h0m6-8h0m8-3h0m2 1h0m1-2h0m3 1h0m2-9h0m0 6h0m0 3h0m3-3h0m3-1h0m0 1h0m7-6h0m7-4h0m0 2h0m0 3h0m1 1h0m3-3h0m1 1h0m1-1h0m5-5h0m4 3h0m5-6h0m1 2h0m2-4h0m1 4h0m2-2h0m10-4h0m1-2h0m2 0h0m3-3h0m2-4h0m5 3h0m1-7h0m2 3h0m11-4h0m1 1h0m4-2h0m1 2h0m4-4h0m2 0h0m1-5h0m1 5h0m1-3h0m6-1h0" stroke="#009e73" stroke-width="14.0" stroke-linecap="round" fill="none"/>
<path transform="scale(.1)" d="M122 5355h0m6-4h0m12-5h0m2 0h0m13-7h0m2 1h0m7-1h0m8-7h0m3-1h0m2 1h0m4-2h0m5-3h0m4 2h0m6-3h0m2-4h0m0 2h0m12-5h0m2 0h0m4-3h0m5-3h0m10-3h0m20-8h0m0 1h0m4-1h0m1-2h0m8-5h0m0 2h0m0 2h0m3-3h0m3-4h0m21-5h0m3-3h0m9 1h0m20-10h0m8-6h0m2 2h0m7-7h0m3-1h0m6-3h0m0 2h0m16-8h0m5 1h0m7-5h0m1-1h0m0 4h0m4-5h0m9-1h0m4-4h0m2-1h0m2 2h0m14-10h0m13-1h0m1-4h0m11-5h0m4-1h0m5-2h0m1 0h0m4-2h0m5 1h0m3-2h0m13-7h0m3-2h0m4-1h0m3-2h0m8-3h0m1 2h0m1-3h0m3-1h0m0 2h0m8-5h0m4-1h0m3-1h0m14-7h0m22-9h0m4-2h0m6-2h0m2-1h0m2 1h0m4-2h0" stroke="#009e73" stroke-width="14.0" stroke-linecap="round" fill="none"/>
<polygon points="60.2,510.9 79.9,503.9 79.9,505.3 60.2,512.3" fill="#009e73" stroke="none"/>
<path transform="scale(.1)" d="M602 5102h0m0 8h0m3-7h0m1 1h0m2 2h0m1-1h0m1 2h0m3-3h0m0 1h0m4-3h0m0 2h0m2-4h0m2-2h0m1 0h0m0 5h0m3-7h0m0 6h0m2-2h0m1-1h0m3 1h0m1 0h0m7-7h0m2 2h0m4-7h0m3 5h0m2-3h0m3 0h0m3-2h0m2-3h0m7 2h0m8-9h0m0 5h0m0 1h0m3-4h0m0 4h0m1-1h0m2-10h0m1-7h0m0 12h0m3 0h0m1-9h0m2 6h0m3 2h0m1-7h0m3-5h0m1 2h0m1 4h0m3-1h0m1 3h0m5-2h0m1-2h0m3 1h0m0 2h0m6-7h0m1 2h0m2 0h0m1-3h0m5-11h0m3 11h0m1-14h0m3 10h0m1 2h0m1-5h0m2 0h0m4-5h0m3 1h0m1 5h0m0 1h0m1-2h0m1-1h0m0 1h0m4-10h0m5 6h0m2-4h0m1 1h0m3-1h0m2 0h0m1 4h0m1-1h0m3-13h0m1 9h0m3-12h0m0 3h0m0 12h0m1-6h0m1 2h0m3-2h0m3 0h0m5-5h0m1 2h0m4-7h0m3 1h0m0 6h0m0 1h0m3-12h0m1 8h0m1 1h0m1-11h0m0 10h0" stroke="#009e73" stroke-width="14.0" stroke-linecap="round" fill="none"/>
<path transform="scale(.1)" d="M602 5125h0m1-2h0m8-3h0m9-1h0m1-2h0m1-2h0m7 0h0m3-4h0m0 7h0m3-7h0m15-7h0m1 0h0m3 3h0m2 3h0m11-6h0m3-5h0m1-1h0m2 4h0m1-4h0m6-4h0m0 5h0m4-4h0m14-8h0m14-2h0m0 1h0m1-5h0m0 1h0m11 0h0m1-5h0m1 0h0m2 1h0m2 0h0m1-1h0m5-3h0m3 2h0m10-4h0m0 3h0m4-2h0m1-1h0m6-6h0m2 0h0m9-2h0m8-5h0m2-2h0m2 7h0m4-5h0m1 3h0m1-5h0m5-1h0" stroke="#009e73" stroke-width="14.0" stroke-linecap="round" fill="none"/>
<path transform="scale(.1)" d="M604 5102h0m5 4h0m21-29h0m2 12h0m2 7h0m6-22h0m14 12h0m1-2h0m1-5h0m1-53h0m1 60h0m10-5h0m1 3h0m5-36h0m0 27h0m3 7h0m9-19h0m7 12h0m5-20h0m0 8h0m1 9h0m6-17h0m7 8h0m2 2h0m5-43h0m3 35h0m4-1h0m2-6h0m8 3h0m5-3h0m4-18h0m7-9h0m0 26h0m0 5h0m17-19h0m7 10h0m3-15h0m2 13h0m9-1h0m4-7h0" stroke="#009e73" stroke-width="14.0" stroke-linecap="round" fill="none"/>
<polygon points="80.9,498.7 108.3,488.7 108.3,489.7 80.9,499.8" fill="#009e73" stroke="none"/>
<path transform="scale(.1)" d="M814 4986h0m2-10h0m0 7h0m3-3h0m1 0h0m6 0h0m1 1h0m6-8h0m3 3h0m1-5h0m5-10h0m2 11h0m2 1h0m3-8h0m4 4h0m1-2h0m0 1h0m7 0h0m1-8h0m1 2h0m2-6h0m0 2h0m1 8h0m1-2h0m2-4h0m0 6h0m11-4h0m1-5h0m2 3h0m2-5h0m2 3h0m1 1h0m5-15h0m2 11h0m4-3h0m1 1h0m4-1h0m1-13h0m5 7h0m2-3h0m3-6h0m0 8h0m2 3h0m1-5h0m0 2h0m2 2h0m1-1h0m1-3h0m13-1h0m1 0h0m2-2h0m1-6h0m4 2h0m9-5h0m1-1h0m6-1h0m1-5h0m4 2h0m1-4h0m2 4h0m1-3h0m0 5h0m4-7h0m0 6h0m0 2h0m1-4h0m0 1h0m3-5h0m1-6h0m1 12h0m5-2h0m1-1h0m4-3h0m1-7h0m4 6h0m3-1h0m2-6h0m1-4h0m2 5h0m0 2h0m2 0h0m4 0h0m3-2h0m1-6h0m1 4h0m1-4h0m1 4h0m1-5h0m0 4h0m1-2h0m0 1h0m1-5h0m0 3h0m0 3h0m5-4h0m1-5h0m1 6h0m4 0h0m1-2h0m2-3h0m2 2h0m2-17h0m1 11h0m1 2h0m1-1h0m3-1h0m3-6h0m2 9h0m6-8h0m6 3h0m3-15h0m0 4h0m2-2h0m3 8h0m5-7h0m6 2h0m2-7h0m1-3h0" stroke="#009e73" stroke-width="14.0" stroke-linecap="round" fill="none"/>
<path transform="scale(.1)" d="M814 4996h0m1-2h0m1 1h0m0 5h0m6-4h0m17-11h0m3-1h0m0 3h0m1 0h0m5-5h0m1 2h0m5 4h0m7-6h0m2-4h0m0 1h0m5-1h0m2-3h0m3-2h0m3-2h0m7-1h0m28-6h0m8-8h0m0 2h0m18-7h0m7-4h0m2-1h0m4 3h0m1 4h0m9-7h0m3-3h0m16-5h0m3-4h0m3-1h0m6 0h0m9-2h0m4-5h0m5 3h0m8-7h0m1 4h0m1-2h0m3-1h0m4-5h0m6-3h0m0 1h0m4-2h0m5 2h0m5-4h0m0 1h0m3-4h0m0 4h0m3-1h0m1-5h0m1 5h0m2 0h0m3-6h0m5-1h0m7-3h0m4-1h0m4-3h0m3 3h0" stroke="#009e73" stroke-width="14.0" stroke-linecap="round" fill="none"/>
<path transform="scale(.1)" d="M811 4982h0m11-5h0m5-33h0m18 25h0m3-3h0m8 2h0m1-12h0m7-3h0m9 3h0m11 4h0m5-6h0m33-13h0m11-3h0m7 1h0m8-25h0m2 6h0m0 12h0m14-55h0m1 45h0m0 7h0m2-27h0m1 17h0m10 5h0m2-8h0m4-17h0m26 13h0m6-23h0m1-6h0m10 9h0m15-20h0m1 22h0m5-6h0m1-32h0m1 37h0m1 1h0m2-4h0m6 5h0m10-27h0m2 15h0m6 0h0" stroke="#009e73" stroke-width="14.0" stroke-linecap="round" fill="none"/>
<polygon points="87.6,487.7 108.3,477.7 108.3,478.7 87.6,488.7" fill="#009e73" stroke="none"/>
<path transform="scale(.1)" d="M882 4866h0m0 9h0m1-7h0m6 4h0m1-6h0m0 2h0m1 3h0m3-6h0m2-1h0m1-8h0m0 2h0m1 4h0m2 2h0m0 2h0m1-3h0m5-5h0m0 2h0m0 1h0m3-14h0m1 15h0m2-4h0m0 3h0m2-19h0m0 16h0m2-7h0m2 0h0m2 4h0m1-15h0m2 10h0m1-3h0m2 3h0m2 2h0m3-5h0m2 1h0m1-7h0m0 5h0m4 2h0m6-10h0m1 6h0m1-5h0m3 3h0m1-7h0m3 3h0m0 2h0m5-11h0m0 9h0m1-6h0m6-9h0m0 8h0m3-2h0m1 3h0m2-8h0m0 1h0m3 0h0m1-1h0m1 6h0m3-2h0m1-5h0m12-4h0m0 2h0m4-3h0m1 0h0m1-18h0m0 13h0m0 1h0m2-5h0m2 3h0m3-6h0m2 3h0m0 3h0m0 1h0m5-5h0m6-6h0m0 5h0m2-5h0m1 6h0m5-12h0m0 9h0m2-4h0m5-10h0m3 10h0m2-2h0m4-3h0m2-1h0m8-6h0m5 0h0m1-3h0m1 3h0m9-14h0m1 0h0m0 4h0m0 2h0m5-9h0m3 5h0m0 1h0m1-1h0m2-6h0m2 2h0" stroke="#009e73" stroke-width="14.0" stroke-linecap="round" fill="none"/>
<path transform="scale(.1)" d="M877 4885h0m7 4h0m3-6h0m0 1h0m3-4h0m0 1h0m1 0h0m6-5h0m0 3h0m6-6h0m6-1h0m8-2h0m6-7h0m1 1h0m3-2h0m2 2h0m1-1h0m4-3h0m4 4h0m3-7h0m1-2h0m2-3h0m2 0h0m2 3h0m1-1h0m0 3h0m3-1h0m8-5h0m1-3h0m1-2h0m1 7h0m5-9h0m17-10h0m8-4h0m1 0h0m13-3h0m1-5h0m6-1h0m4-2h0m0 2h0m2-3h0m1 5h0m15-15h0m4 2h0m2-1h0m13-10h0m0 3h0m3-3h0m9-5h0m8-3h0" stroke="#009e73" stroke-width="14.0" stroke-linecap="round" fill="none"/>
<path transform="scale(.1)" d="M877 4850h0m3 22h0m1 1h0m6-3h0m8-28h0m2 12h0m15-4h0m13 2h0m8-22h0m2 17h0m6-16h0m2 0h0m7-20h0m1-5h0m8 17h0m1 8h0m6-28h0m0 19h0m6 5h0m1-14h0m1 15h0m4-6h0m2-6h0m5-1h0m0 6h0m1-25h0m2 16h0m1-1h0m2-6h0m6 7h0m2-10h0m7 6h0m10-20h0m6 4h0m2-37h0m7 18h0m25 4h0m7 1h0m11-7h0m5 1h0" stroke="#009e73" stroke-width="14.0" stroke-linecap="round" fill="none"/>
<path transform="scale(.1)" d="M401 4690h0m0 408h0m404-341h0m0 157h0m4-150h0m3 134h0m7 26h0m13 14h0m4-27h0m16-13h0m10-17h0m101-224h0m60-13h0m47-31h0" stroke="#009e73" stroke-width="14.0" stroke-linecap="round" fill="none"/>
</g>
<g>
<rect x="140.10" y="461.25" width="102.05" height="78.85" fill="none" stroke="#8a8a8a" stroke-width="0.35"/>
<text transform="translate(140.10 544.30) scale(.1)" text-anchor="middle">0</text>
<text transform="translate(154.68 544.30) scale(.1)" text-anchor="middle">10000</text>
<text transform="translate(169.26 544.30) scale(.1)" text-anchor="middle">20000</text>
<text transform="translate(183.84 544.30) scale(.1)" text-anchor="middle">30000</text>
<text transform="translate(198.41 544.30) scale(.1)" text-anchor="middle">40000</text>
<text transform="translate(212.99 544.30) scale(.1)" text-anchor="middle">50000</text>
<text transform="translate(227.57 544.30) scale(.1)" text-anchor="middle">60000</text>
<text transform="translate(242.15 544.30) scale(.1)" text-anchor="middle">70000</text>
<text transform="translate(137.20 541.15) scale(.1)" text-anchor="end">0</text>
<text transform="translate(137.20 531.29) scale(.1)" text-anchor="end">0.005</text>
<text transform="translate(137.20 521.44) scale(.1)" text-anchor="end">0.01</text>
<text transform="translate(137.20 511.58) scale(.1)" text-anchor="end">0.015</text>
<text transform="translate(137.20 501.73) scale(.1)" text-anchor="end">0.02</text>
<text transform="translate(137.20 491.87) scale(.1)" text-anchor="end">0.025</text>
<text transform="translate(137.20 482.01) scale(.1)" text-anchor="end">0.03</text>
<text transform="translate(137.20 472.16) scale(.1)" text-anchor="end">0.035</text>
<text transform="translate(137.20 462.30) scale(.1)" text-anchor="end">0.04</text>
<path d="M154.68 540.10v-1M154.68 461.25v1M169.26 540.10v-1M169.26 461.25v1M183.84 540.10v-1M183.84 461.25v1M198.41 540.10v-1M198.41 461.25v1M212.99 540.10v-1M212.99 461.25v1M227.57 540.10v-1M227.57 461.25v1M140.10 530.24h1M242.15 530.24h-1M140.10 520.39h1M242.15 520.39h-1M140.10 510.53h1M242.15 510.53h-1M140.10 500.68h1M242.15 500.68h-1M140.10 490.82h1M242.15 490.82h-1M140.10 480.96h1M242.15 480.96h-1M140.10 471.11h1M242.15 471.11h-1" stroke="#8a8a8a" stroke-width="0.3" fill="none"/>
<polygon points="140,539.6 168,517.7 183.6,505 185.8,499 192.5,497.2 204.8,492.8 207,485 221.5,480.5 222.6,477.2 234.9,469.4 235.3,477.6 221.5,485.3 208.1,492 207,495.3 188.1,506.4 185.8,510.4 168,519.7 140,539.8" fill="#9400d3" stroke="none"/>
<path transform="scale(.1)" d="M1401 5391h0m1 5h0m1-2h0m2-8h0m0 2h0m0 5h0m2-4h0m4 0h0m2-6h0m3-9h0m0 8h0m1-9h0m3 2h0m0 6h0m1-4h0m5-5h0m0 3h0m1-3h0m1-5h0m1 3h0m5-8h0m15-4h0m1 1h0m4-7h0m0 3h0m1-5h0m1-3h0m1-8h0m0 6h0m1 7h0m2-4h0m1-13h0m6 1h0m0 2h0m1 6h0m1-3h0m0 2h0m1-9h0m3 0h0m1-1h0m5-12h0m0 12h0m5-8h0m1-7h0m3-4h0m1 7h0m0 1h0m3 3h0m1 0h0m2-2h0m1-7h0m1 3h0m1-3h0m2 1h0m1 0h0m5-12h0m0 7h0m0 1h0m1-9h0m8-8h0m4 2h0m1-4h0m0 10h0m1-2h0m5-16h0m0 8h0m0 2h0m1-4h0m1-3h0m1-1h0m4-2h0m3 4h0m1-3h0m1 0h0m0 1h0m4-7h0m1 0h0m1 2h0m1-6h0m0 3h0m0 2h0m3-10h0m1 7h0m6-5h0m5-8h0m1 3h0m2 1h0m1-3h0m1-1h0m2-11h0m4 4h0m0 2h0m2 0h0m4-13h0m0 5h0m0 6h0m1-18h0m9 8h0m1 1h0m1-5h0m1-4h0m1 3h0m3-4h0m1 0h0m1-1h0m1-8h0m0 9h0m1-10h0m3-1h0m7-6h0m2-1h0m6 5h0m1-9h0m1 1h0m11-15h0m0 14h0m1 0h0m1-11h0m0 11h0m3-19h0m1 7h0m2 1h0m2-3h0m3-3h0m7-5h0m3-7h0m0 7h0m3 2h0m2-10h0m6-7h0m1 8h0m0 2h0m2-3h0m1-7h0m0 6h0m4-4h0m1-5h0m1 1h0m0 2h0m0 3h0m5-16h0m2 11h0m7-18h0m2 5h0m3-2h0m4-4h0m1-1h0m2 4h0m2-10h0m6-10h0m1 8h0m3 2h0m8-15h0m1 6h0m4-11h0m3 6h0m6-8h0m5-6h0m3-10h0m1 5h0m2 0h0m3 1h0m1-11h0m1 12h0m1-17h0m0 12h0m4-16h0m0 14h0m0 2h0m1-14h0m0 7h0m1 7h0m1-2h0m2-14h0m0 13h0m4-3h0m2-5h0m1-8h0m0 2h0m7 0h0m2-7h0m6-3h0m1-5h0m3-7h0m4-2h0m0 5h0m0 4h0m1 0h0m1-9h0m0 8h0m3 2h0m2-8h0m1-7h0m1 6h0m2-17h0m0 17h0m2-20h0m0 22h0m1-19h0m1 7h0m1 9h0m2-11h0m1 6h0m1-14h0m2 11h0m1-3h0m0 5h0m1-22h0m0 12h0m5 5h0m2-13h0m4-3h0m2 7h0m1-1h0m4-4h0m1 2h0m1-4h0m0 2h0m5-12h0m0 4h0m5-12h0m1-9h0m1-3h0m3-8h0m1-8h0m2-10h0m0 18h0m7-28h0m0 6h0m1-7h0m5 1h0m4 4h0m3-7h0m0 1h0m2 1h0m0 3h0m1-2h0m1-4h0m1-1h0m1 5h0m1 1h0m1-9h0m6-2h0m2 4h0m1 2h0m6 3h0m6-4h0m1-8h0m0 4h0m1 4h0m1-2h0m1-5h0m1 2h0m1 0h0m2-5h0m1 8h0m2-10h0m0 10h0m5 0h0m6-24h0m4 14h0m1 4h0m0 2h0m1-6h0m3 3h0m1-2h0m6-10h0m0 5h0m1 1h0m2-4h0m0 3h0m1 1h0m4-11h0m2 8h0m2 3h0m2-5h0m1-1h0m5-8h0m0 7h0m1-1h0m1-12h0m4 3h0m2 9h0m1 3h0m4-4h0m1 0h0m2-6h0m2-8h0m2 4h0m0 1h0m0 6h0m4-6h0m1-4h0m1 8h0m1-1h0m0 4h0m1-7h0m0 2h0m0 2h0m0 1h0m6-14h0m0 9h0m0 4h0m4-15h0m2 9h0m4-16h0m5 11h0m1-9h0m2 6h0m3-1h0m0 6h0m2-4h0m0 4h0m7-3h0m1-2h0m1-3h0m2 3h0m1-6h0m1-3h0m0 3h0m7-3h0m1-3h0m1-3h0m3 7h0m4-3h0m0 5h0m1-7h0m0 2h0m1 4h0m4-23h0m1 12h0m4-21h0m1 0h0m0 3h0m2-19h0m1-1h0m2-4h0m3-11h0m2-12h0m3-9h0m2 3h0m1-1h0m1-2h0m0 3h0m1-1h0m3 2h0m3-13h0m1 6h0m2-14h0m2 15h0m1-5h0m3 7h0m1-4h0m3-6h0m1 5h0m1 3h0m4 1h0m5-15h0m0 1h0m2 10h0m1-4h0m0 2h0m0 2h0m1-20h0m1 19h0m0 1h0m2-3h0m3-17h0m1 14h0m5-1h0m0 3h0m1-3h0m0 2h0m1 2h0m8-5h0m1-8h0m1 10h0m2-13h0m4 6h0m3-10h0m2 8h0m0 3h0m7-9h0m1 3h0m2-2h0m0 3h0m4-13h0m0 4h0m0 12h0m1-2h0m2-5h0m5-20h0m1 19h0m3 1h0m5-4h0m5 0h0m2-21h0m4 23h0m3-18h0m3 6h0m1 10h0m1-5h0m1 2h0m1-12h0m1 5h0m1 0h0m2 7h0m0 1h0m3-3h0m4-5h0m6 3h0m3-4h0m4-23h0m3-10h0m0 6h0m2-3h0m1 3h0m1-8h0m1 5h0m1-11h0m1-9h0m0 14h0m0 4h0m2-12h0m1-5h0m0 7h0m1 4h0m1-5h0m2 3h0m1 4h0m6-20h0m0 16h0m2-8h0m1-9h0m1-1h0m1 7h0m3-9h0m0 2h0m1 4h0m2 0h0m5-3h0m4 0h0m0 4h0m2-4h0m2-1h0m1-2h0m1-6h0m1 9h0m1-7h0m1-5h0m0 3h0m1-3h0m2 1h0m1 5h0m1-2h0m2-3h0m5-6h0m0 1h0m1-4h0m0 7h0m2-1h0m5-19h0m1 15h0m1 0h0m1-14h0m0 1h0m0 11h0m4-4h0m0 3h0m0 3h0m7-14h0m3 1h0m1 5h0m4-5h0m3-3h0m1-11h0m0 6h0m2 6h0m2-8h0m0 7h0m1 0h0m1-14h0m5-2h0m0 1h0m0 11h0m3-18h0m3 10h0m2-4h0m2 0h0m0 3h0m3-3h0m1-8h0m1-2h0m0 10h0m1-17h0" stroke="#9400d3" stroke-width="14.0" stroke-linecap="round" fill="none"/>
<path transform="scale(.1)" d="M1410 5390h0m0 3h0m2-3h0m1-2h0m3-1h0m2 0h0m4-3h0m6-3h0m10-10h0m1-2h0m3-2h0m5-2h0m7-5h0m3-2h0m10-8h0m2 0h0m1-3h0m0 2h0m13-10h0m0 3h0m2-4h0m14-11h0m9-5h0m1-1h0m3-4h0m2-1h0m11-9h0m7-5h0m1 0h0m0 1h0m10-5h0m2-2h0m2-2h0m1-3h0m4-1h0m3-4h0m2 0h0m1-1h0m1 3h0m1-6h0m1 4h0m3-1h0m1-7h0m0 7h0m7-8h0m8-8h0m6-1h0m7-9h0m4-1h0m2-1h0m3-2h0m0 1h0m3-5h0m2-2h0m0 1h0m1-1h0m3-3h0m2 0h0m9-8h0m3-1h0m13-7h0m2-4h0m1-2h0m7-5h0m4-1h0m4-2h0m5-6h0m8-5h0m6 0h0m6-10h0m4 0h0m0 5h0m1-7h0m6-1h0m2-1h0m1-3h0m0 2h0m3-2h0m4-2h0m2 3h0m26-16h0m2-3h0m4-2h0m4-3h0m4 0h0m3-3h0m3-3h0m0 4h0m6-4h0m5-6h0m7-3h0m3 0h0m5-4h0m3 1h0m6-2h0m2-4h0m1 0h0m1 0h0m4-1h0m2-4h0m2 0h0m2 0h0m9-3h0m5-6h0m2-1h0m3 2h0m3-6h0m1 0h0m1 1h0m9-5h0m1 1h0m2 0h0m7-6h0m2-3h0m6-2h0m5-4h0m8-7h0m8-17h0m0 1h0m4-6h0m0 1h0m2-7h0m0 3h0m2-5h0m0 1h0m8-9h0m4-2h0m1-1h0m0 1h0m7-5h0m5-2h0m1-1h0m2-2h0m1 0h0m16-8h0m2 2h0m3-5h0m9-7h0m3-2h0m5-1h0m1 3h0m1-1h0m1-4h0m6-5h0m8-5h0m3 0h0m5-3h0m1-2h0m7-1h0m6-6h0m8-1h0m1-2h0m0 1h0m1-4h0m3 1h0m1 0h0m2-4h0m0 4h0m8-7h0m3-5h0m4-1h0m3-2h0m4-2h0m7-4h0m5-2h0m2-3h0m10 2h0m2-9h0m2 0h0m4-3h0m1 1h0m1-1h0m5-3h0m4-3h0m3 2h0m16-40h0m1 0h0m3 2h0m6-6h0m4-3h0m3-1h0m2 0h0m1-1h0m7-1h0m0 3h0m4-8h0m2-2h0m0 2h0m1 2h0m1-4h0m3 0h0m1-2h0m10-4h0m4-1h0m2-1h0m8-2h0m9-8h0m7-3h0m5-4h0m0 3h0m15-5h0m2-5h0m1-1h0m1-2h0m8 0h0m2-2h0m21-10h0m1-2h0m5-5h0m2-1h0m11-2h0m2-4h0m3-2h0m1 1h0m3-3h0m9-5h0m2-1h0m1 2h0m2-4h0m2 0h0m3-2h0m10-3h0m15-12h0m5-3h0m6-3h0m0 2h0m6-4h0m2 0h0m1-3h0m4-3h0m0 5h0m10-11h0m0 1h0m0 2h0m1 2h0m2-6h0m1 0h0m1-1h0m5-2h0m10-6h0m0 3h0" stroke="#9400d3" stroke-width="14.0" stroke-linecap="round" fill="none"/>
<path transform="scale(.1)" d="M1409 5387h0m9-6h0m4-2h0m2-7h0m0 3h0m20-21h0m0 6h0m2-1h0m3-4h0m7-3h0m6-6h0m27-20h0m6-8h0m10-9h0m0 1h0m11-10h0m12-10h0m9-1h0m5-16h0m17-5h0m0 1h0m2-8h0m3 6h0m2-5h0m2 1h0m4-2h0m2-3h0m13-10h0m0 2h0m5-6h0m10-24h0m0 16h0m10-17h0m0 5h0m9-6h0m8-7h0m1 3h0m0 2h0m2-2h0m5-12h0m3-2h0m12-14h0m50-29h0m15-20h0m1 2h0m1 6h0m5-10h0m3 1h0m1 2h0m4-13h0m2 2h0m0 3h0m1-10h0m0 5h0m13-5h0m6-7h0m5-10h0m18-7h0m1 0h0m13-12h0m6-16h0m6 6h0m11-9h0m5-9h0m7-14h0m4 8h0m3-9h0m17-42h0m2-48h0m4 6h0m5 19h0m9 1h0m28-7h0m1-32h0m16 14h0m3 22h0m8-3h0m1-5h0m20-2h0m6-16h0m3 9h0m2-2h0m7-4h0m1 1h0m20-7h0m2 0h0m9-22h0m2 17h0m4 1h0m10-1h0m1-26h0m7 20h0m9-41h0m7 33h0m36-78h0m1-3h0m7-8h0m6-3h0m4 2h0m7-66h0m2 70h0m1-49h0m7 44h0m15-13h0m4-14h0m4-4h0m1 22h0m3 2h0m24-30h0m7 9h0m6 0h0m3-4h0m8-1h0m7-14h0m19 9h0m4-4h0m3-12h0m0 16h0m1-12h0m7-11h0m1-15h0m0 4h0m3 2h0m5-59h0m0 56h0m6-16h0m2 11h0m3-3h0m5-24h0m3 4h0m2 11h0m5 2h0m19-11h0m6-22h0m3 2h0m1 2h0m8 1h0m3 0h0m1-1h0m11-12h0m3-4h0m4 10h0m8-18h0m6-15h0m2 16h0m0 1h0m1 3h0m6-7h0m4-10h0m3-15h0" stroke="#9400d3" stroke-width="14.0" stroke-linecap="round" fill="none"/>
<path transform="scale(.1)" d="M1644 5131h0m117-50h0m585-461h0" stroke="#9400d3" stroke-width="14.0" stroke-linecap="round" fill="none"/>
<polygon points="140,540.6 168,522.9 185.8,513.8 188.1,510.2 205.9,500.8 208.1,497.8 221.5,489.8 234.9,482.8 235.3,490.6 221.5,496.9 207,505.1 188.1,514 185.8,515.6 168,525.1 140,540.8" fill="#009e73" stroke="none"/>
<path transform="scale(.1)" d="M1403 5403h0m4-9h0m0 9h0m1-2h0m1-5h0m0 1h0m1 0h0m0 2h0m0 3h0m2-4h0m2-6h0m3 3h0m2-3h0m0 2h0m3-7h0m2 3h0m1-1h0m2 2h0m2-6h0m1-4h0m1 7h0m6-13h0m2 5h0m0 3h0m4-4h0m1-7h0m7-4h0m0 2h0m4-2h0m1 4h0m2-8h0m1 1h0m0 3h0m1-3h0m0 3h0m1-6h0m0 6h0m0 1h0m3-3h0m2-10h0m4 2h0m2 1h0m1-2h0m4-4h0m1 4h0m1-2h0m3-9h0m0 8h0m0 1h0m2-4h0m1 1h0m1-9h0m3 8h0m1-3h0m1 0h0m0 2h0m1-5h0m2-3h0m2 4h0m1-14h0m3 8h0m1 3h0m0 1h0m1-9h0m1-1h0m0 3h0m1-1h0m0 3h0m2 1h0m4-11h0m7-10h0m7 10h0m2-2h0m4-6h0m0 2h0m3-13h0m3 10h0m2-5h0m14-6h0m12-19h0m1 13h0m2-4h0m1-9h0m2 6h0m0 1h0m2-3h0m1 3h0m1-7h0m1-1h0m4-5h0m3 7h0m6-14h0m0 3h0m0 8h0m1-3h0m1-2h0m1 2h0m2-4h0m8-4h0m0 3h0m1-5h0m4-2h0m0 2h0m4-1h0m3-4h0m2-2h0m0 3h0m6-11h0m1-1h0m1 6h0m2-3h0m0 3h0m1-4h0m2 1h0m1-3h0m5-9h0m2 4h0m1-1h0m0 1h0m1 1h0m4-16h0m2 13h0m1-3h0m2-1h0m3-4h0m5 1h0m1-3h0m0 4h0m5-17h0m2 9h0m0 3h0m2-4h0m3-2h0m3 0h0m1-2h0m0 1h0m2-4h0m2-6h0m1 4h0m3-2h0m3-5h0m1 2h0m3 3h0m4-8h0m4 2h0m2-5h0m0 5h0m1 1h0m2-5h0m5 0h0m1 1h0m1-12h0m1 8h0m5-6h0m0 1h0m1 5h0m1-6h0m1 0h0m2-3h0m2 6h0m2-15h0m2 8h0m0 3h0m2-6h0m0 3h0m1-4h0m2 3h0m1-2h0m1 1h0m5-6h0m1-3h0m8 2h0m4-11h0m3 7h0m1-1h0m1-3h0m0 3h0m1 0h0m1-1h0m0 1h0m3-5h0m2 0h0m1 0h0m4-2h0m4 1h0m3-8h0m0 7h0m4-2h0m1-9h0m3 1h0m2 3h0m0 1h0m2-1h0m3 0h0m3-9h0m2 7h0m4-9h0m0 6h0m2-11h0m2 2h0m2 5h0m1-1h0m2-5h0m1-3h0m5 0h0m2 5h0m2-1h0m4-7h0m1-2h0m0 4h0m1-1h0m0 1h0m1 1h0m7-8h0m1 4h0m2-7h0m1-4h0m0 4h0m4 3h0m1-7h0m0 7h0m3-1h0m1-1h0m1-1h0m1-4h0m1-3h0m0 5h0m2-12h0m0 10h0m7-9h0m1 7h0m1-13h0m1 10h0m1-3h0m4-3h0m2-4h0m2-5h0m2-9h0m2-18h0m1 16h0m3 0h0m2-9h0m0 2h0m5-2h0m1-8h0m0 3h0m0 2h0m0 2h0m1-1h0m1-1h0m1-1h0m2-3h0m8-8h0m2 5h0m2-4h0m1 2h0m4-1h0m1-8h0m3 7h0m2-6h0m2 1h0m3-14h0m10 10h0m1-3h0m2-1h0m0 3h0m2-4h0m3-3h0m1 0h0m1-1h0m0 3h0m1-2h0m2-3h0m2 2h0m1-4h0m1 2h0m2 1h0m1-4h0m0 3h0m2-5h0m3 0h0m0 2h0m1-2h0m4-7h0m0 5h0m1-2h0m4-6h0m1-3h0m0 7h0m3-5h0m0 3h0m0 1h0m0 2h0m2-4h0m2-2h0m2 4h0m2-5h0m1 2h0m2-5h0m1 2h0m1-4h0m1 4h0m2-6h0m0 1h0m1-3h0m3 6h0m2-6h0m0 1h0m1 3h0m1-3h0m1 3h0m4-10h0m0 7h0m6-4h0m1 0h0m2-1h0m1-3h0m1-3h0m0 4h0m3-2h0m7-6h0m1-8h0m0 9h0m8-3h0m2-7h0m0 6h0m2 0h0m4-5h0m1 2h0m1-1h0m1-2h0m6-2h0m6-5h0m1 0h0m4-1h0m2 1h0m2-3h0m0 2h0m5-7h0m1-2h0m2-9h0m4 2h0m1-4h0m1 2h0m0 1h0m6-9h0m0 2h0m2-4h0m6-7h0m2-3h0m4-3h0m0 4h0m1-6h0m6-5h0m0 6h0m2-3h0m0 3h0m1-11h0m1 8h0m1-2h0m0 3h0m2-3h0m0 1h0m1 0h0m2-7h0m1 5h0m4-4h0m2-8h0m4 7h0m1-2h0m1-8h0m0 4h0m0 3h0m3-2h0m2-4h0m1 3h0m1-5h0m0 3h0m4-4h0m1 3h0m2-3h0m1-4h0m7-3h0m1-6h0m1 5h0m3-2h0m2-8h0m0 3h0m1 6h0m1 1h0m4-4h0m6-4h0m4-8h0m3 1h0m2-6h0m0 3h0m2-2h0m0 6h0m1-5h0m4 1h0m8-4h0m6-9h0m1 1h0m0 3h0m2-5h0m1-1h0m0 1h0m0 4h0m7-6h0m1-7h0m3 5h0m2-4h0m3 0h0m3-4h0m5-2h0m1 3h0m1-3h0m4-5h0m3-7h0m0 12h0m9-5h0m1-1h0m1 0h0m4-4h0m1 1h0m1-2h0m0 2h0m1-7h0m0 5h0m1-4h0m10-5h0m0 3h0m7-4h0m5-7h0m0 2h0m1-7h0m8 1h0m0 2h0m0 1h0m4 1h0m5-5h0m4 0h0m1-3h0m2-1h0m0 2h0m5-8h0m2 3h0m1-4h0m1 0h0m1 0h0m0 4h0m2-11h0m0 7h0m0 1h0m3-1h0m1-5h0m1 5h0m1-10h0m0 5h0m0 3h0m1-1h0m1-1h0m1-7h0m0 4h0m4-2h0m1 4h0m2-1h0m2-6h0m1-3h0m5-4h0m0 1h0m0 8h0m1-3h0m1-12h0m0 10h0m0 5h0m1-2h0m2-5h0m1-1h0m0 2h0m0 1h0m1 1h0m1 0h0m5-4h0m3-1h0" stroke="#009e73" stroke-width="14.0" stroke-linecap="round" fill="none"/>
<path transform="scale(.1)" d="M1401 5408h0m7-5h0m1 0h0m5-2h0m0 3h0m4-6h0m14-9h0m4-1h0m0 2h0m1-3h0m5-3h0m2 0h0m3 2h0m1 0h0m1-5h0m3 3h0m3-6h0m6-4h0m3-3h0m4 0h0m1-3h0m1 4h0m4-4h0m4-2h0m4-5h0m4 4h0m1-6h0m4-3h0m3-1h0m3-3h0m6-3h0m16-7h0m9-6h0m0 3h0m3-4h0m2-1h0m2 1h0m4-3h0m13-6h0m2-4h0m6-3h0m5-4h0m7-2h0m3-1h0m1-1h0m3-3h0m3-3h0m3-1h0m2-1h0m9-6h0m6-1h0m3-1h0m4-5h0m1-1h0m3 0h0m2-1h0m0 1h0m7-6h0m2 1h0m2-1h0m8-7h0m7-4h0m2 1h0m8-5h0m4-1h0m1-2h0m2-3h0m7-2h0m15-10h0m0 1h0m4-2h0m0 1h0m2-3h0m1-1h0m0 5h0m2-3h0m7-7h0m4 0h0m5-1h0m1-3h0m6-2h0m3-2h0m1 3h0m2-7h0m12-4h0m5-4h0m2 2h0m1 0h0m6-4h0m21-13h0m4-1h0m4-5h0m0 1h0m4-3h0m0 3h0m2-1h0m3 0h0m2-6h0m7 0h0m15-6h0m1-4h0m1-2h0m3 4h0m6-10h0m2 4h0m3-6h0m3 0h0m7-6h0m3 4h0m3-2h0m11-8h0m4-1h0m1-5h0m1 3h0m5-3h0m5-4h0m2-4h0m2 1h0m3 0h0m1-5h0m6-3h0m1 2h0m3-2h0m1-2h0m6-2h0m2-3h0m3-1h0m4-2h0m1 1h0m10-6h0m3-1h0m8-5h0m1 0h0m2 0h0m11-6h0m1 2h0m7-4h0m3-4h0m14-7h0m0 1h0m1 7h0m9-9h0m2-3h0m1 2h0m5-4h0m1-3h0m2 5h0m1-6h0m0 5h0m5-7h0m0 5h0m1 0h0m1-3h0m1-3h0m6 3h0m3-8h0m0 3h0m7-6h0m1-1h0m7-2h0m15-6h0m3-2h0m2 0h0m1-2h0m5-2h0m7 0h0m3-6h0m2 3h0m1-5h0m3 0h0m4 3h0m4-4h0m14-5h0m4-7h0m6 2h0m2-7h0m1-1h0m4-1h0m1-2h0m0 7h0m1-8h0m3 3h0m16-13h0m0 2h0m17-11h0m1 5h0m7-10h0m2-1h0m11-6h0m2 0h0m3 2h0m4-7h0m6 0h0m3-4h0m5-4h0m4-2h0m2-2h0m2 2h0m4-6h0m0 2h0m2-3h0m1-1h0m2 0h0m1 0h0m1-1h0m1-1h0m1 0h0m10-5h0m5-4h0m1-1h0m1 0h0m4 1h0m2-3h0m2 0h0m3-4h0m15-4h0m0 1h0m2 3h0m1-8h0m5-1h0m1 1h0m1-1h0m2-3h0m1 4h0m1-3h0m10-6h0m6 3h0m5-8h0m1 0h0m2-1h0m0 4h0m2-1h0m23-15h0m5-1h0m2-1h0m1 1h0m5-5h0m4 1h0m3-4h0m2 1h0m7-1h0m3-4h0m3-1h0m1-2h0m3 1h0m4-1h0" stroke="#009e73" stroke-width="14.0" stroke-linecap="round" fill="none"/>
<path transform="scale(.1)" d="M1402 5405h0m59-41h0m49-27h0m15-15h0m2 3h0m2-1h0m8-7h0m5-4h0m0 3h0m3-4h0m4-4h0m12-7h0m11-11h0m24-12h0m11-5h0m51-34h0m43-33h0m3 10h0m4-2h0m7-8h0m4 1h0m1-2h0m14-7h0m7-6h0m3-1h0m3 3h0m3-40h0m20 25h0m29-22h0m19 1h0m9-13h0m2 6h0m56-59h0m15-6h0m2 4h0m14-7h0m6-14h0m6-20h0m19 16h0m25-11h0m10-64h0m14 51h0m12-15h0m1 4h0m0 2h0m25-18h0m6-4h0m2 5h0m11-5h0m1-2h0m2-2h0m1 1h0m18-22h0m8-31h0m25 6h0m9-18h0m27-3h0m7-3h0m16-15h0m10-9h0m17-8h0m0 3h0m2 1h0m5-86h0m1 78h0m8-19h0m21 4h0m20-7h0m11-20h0m10 5h0m4-5h0m8-15h0m5 16h0m1-4h0m1-17h0m14 6h0m3-37h0m7 36h0m1-3h0m30-46h0" stroke="#009e73" stroke-width="14.0" stroke-linecap="round" fill="none"/>
</g>
<g>
<rect x="266.90" y="461.25" width="101.90" height="78.85" fill="none" stroke="#8a8a8a" stroke-width="0.35"/>
<text transform="translate(266.90 544.30) scale(.1)" text-anchor="middle">0</text>
<text transform="translate(281.46 544.30) scale(.1)" text-anchor="middle">10000</text>
<text transform="translate(296.01 544.30) scale(.1)" text-anchor="middle">20000</text>
<text transform="translate(310.57 544.30) scale(.1)" text-anchor="middle">30000</text>
<text transform="translate(325.13 544.30) scale(.1)" text-anchor="middle">40000</text>
<text transform="translate(339.69 544.30) scale(.1)" text-anchor="middle">50000</text>
<text transform="translate(354.24 544.30) scale(.1)" text-anchor="middle">60000</text>
<text transform="translate(368.80 544.30) scale(.1)" text-anchor="middle">70000</text>
<text transform="translate(264.00 541.15) scale(.1)" text-anchor="end">0</text>
<text transform="translate(264.00 531.29) scale(.1)" text-anchor="end">0.0002</text>
<text transform="translate(264.00 521.44) scale(.1)" text-anchor="end">0.0004</text>
<text transform="translate(264.00 511.58) scale(.1)" text-anchor="end">0.0006</text>
<text transform="translate(264.00 501.73) scale(.1)" text-anchor="end">0.0008</text>
<text transform="translate(264.00 491.87) scale(.1)" text-anchor="end">0.001</text>
<text transform="translate(264.00 482.01) scale(.1)" text-anchor="end">0.0012</text>
<text transform="translate(264.00 472.16) scale(.1)" text-anchor="end">0.0014</text>
<text transform="translate(264.00 462.30) scale(.1)" text-anchor="end">0.0016</text>
<path d="M281.46 540.10v-1M281.46 461.25v1M296.01 540.10v-1M296.01 461.25v1M310.57 540.10v-1M310.57 461.25v1M325.13 540.10v-1M325.13 461.25v1M339.69 540.10v-1M339.69 461.25v1M354.24 540.10v-1M354.24 461.25v1M266.90 530.24h1M368.80 530.24h-1M266.90 520.39h1M368.80 520.39h-1M266.90 510.53h1M368.80 510.53h-1M266.90 500.68h1M368.80 500.68h-1M266.90 490.82h1M368.80 490.82h-1M266.90 480.96h1M368.80 480.96h-1M266.90 471.11h1M368.80 471.11h-1" stroke="#8a8a8a" stroke-width="0.3" fill="none"/>
<polygon points="267.7,539.3 284.4,534.9 293,529.6 304.1,522.6 315.3,514.7 326.4,506.8 337.6,498.8 348.7,492.3 358.7,487.7 361,479 362.1,472.3 362.5,484.6 361,496 358.7,501.6 353.2,503.7 352,506 348.7,506.7 340.9,510.3 339.8,513.7 336.5,511.3 335.3,515.4 334.2,512.3 326.4,516.3 315.3,521.8 304.1,527.4 293,533 284.4,536.1 267.7,539.5" fill="#9400d3" stroke="none"/>
<path transform="scale(.1)" d="M2678 5390h0m0 2h0m6 0h0m2-2h0m3 1h0m1-2h0m3-1h0m5-5h0m0 5h0m0 1h0m1-6h0m0 4h0m0 1h0m1-3h0m0 3h0m3-4h0m0 2h0m1-2h0m1-1h0m0 4h0m1-3h0m1-2h0m0 1h0m1 0h0m2 2h0m2 0h0m5-4h0m1-2h0m6-5h0m1 6h0m2 1h0m4-5h0m0 3h0m1 1h0m2-2h0m2-9h0m0 5h0m0 5h0m1-1h0m4-8h0m0 5h0m0 1h0m1-4h0m0 1h0m2-1h0m0 4h0m5-2h0m1-1h0m3-1h0m1-3h0m1 3h0m4-6h0m1 5h0m2-4h0m10-1h0m2-6h0m1 2h0m1 5h0m2-5h0m3 3h0m1-1h0m3-4h0m1-3h0m0 6h0m5 1h0m2-5h0m2 1h0m4-4h0m1 6h0m1-3h0m4-1h0m5-1h0m2-5h0m4 1h0m0 1h0m1 0h0m1-12h0m2 5h0m0 2h0m1 6h0m4-1h0m2-9h0m0 6h0m4-2h0m3-6h0m0 7h0m1 0h0m2-9h0m3 8h0m3-3h0m1-4h0m1 4h0m4-2h0m2-4h0m1 2h0m3 1h0m2-2h0m2-1h0m2-2h0m3-5h0m1 4h0m1-3h0m3-4h0m0 1h0m2-1h0m0 2h0m1-4h0m3 0h0m0 3h0m1-1h0m3-7h0m3 3h0m5-6h0m2 2h0m1-6h0m1-2h0m1 7h0m4-4h0m3-2h0m5-5h0m6-12h0m1 7h0m0 4h0m1-4h0m0 1h0m1-3h0m1 3h0m1-3h0m3 1h0m1-1h0m9-6h0m1-4h0m1-2h0m3 1h0m1 1h0m1-6h0m4 1h0m0 1h0m0 2h0m1-5h0m1-2h0m0 4h0m3-10h0m4 4h0m0 2h0m1-2h0m1-3h0m1 3h0m1 1h0m1-1h0m5-3h0m2-3h0m1-4h0m0 4h0m5-3h0m2-5h0m1-2h0m0 5h0m4 0h0m2-3h0m3-5h0m1-2h0m3-1h0m1-3h0m0 7h0m1-9h0m2 7h0m1-10h0m1 7h0m1-13h0m3 7h0m0 4h0m1-5h0m0 1h0m2-1h0m0 2h0m0 2h0m2-12h0m0 11h0m3-2h0m5-5h0m1-1h0m5-6h0m0 4h0m3 0h0m2-12h0m0 5h0m0 5h0m3-2h0m1-5h0m1 3h0m1-7h0m0 7h0m2-3h0m1-4h0m1-1h0m2-2h0m0 4h0m0 1h0m1-4h0m1-8h0m1 8h0m2-2h0m1-1h0m1-4h0m1 6h0m3-1h0m0 1h0m7-28h0m1 18h0m0 2h0m3-4h0m1-2h0m1 3h0m2 0h0m1-16h0m0 6h0m0 3h0m1-1h0m0 6h0m1-8h0m0 9h0m1-6h0m1 0h0m0 1h0m1-8h0m0 4h0m1 2h0m0 4h0m3-12h0m0 3h0m0 2h0m1-9h0m1-1h0m1 8h0m1-2h0m1 5h0m5-7h0m1-3h0m5 1h0m1-8h0m0 4h0m1-5h0m0 6h0m1-4h0m0 1h0m1 1h0m5-8h0m0 2h0m1-8h0m0 9h0m2-6h0m6-4h0m3 3h0m1 1h0m1-1h0m1 0h0m2-12h0m0 7h0m2 2h0m7-5h0m1-7h0m0 5h0m1-8h0m2 8h0m1-12h0m0 12h0m3-7h0m1-4h0m0 1h0m0 1h0m1 1h0m1-12h0m0 14h0m1-5h0m2 1h0m2-4h0m3 1h0m1-5h0m2-1h0m1-5h0m0 11h0m1-3h0m3-10h0m0 9h0m2-7h0m1-2h0m1 3h0m0 4h0m1-15h0m1 11h0m1-3h0m0 2h0m0 1h0m0 1h0m2-5h0m2-5h0m5-7h0m0 5h0m0 5h0m2-4h0m1-4h0m0 5h0m1-1h0m2-3h0m1-6h0m3-1h0m0 4h0m0 3h0m3-1h0m5-16h0m1 7h0m5-8h0m4-8h0m1 12h0m1-1h0m3-10h0m4-3h0m0 1h0m1 9h0m3-15h0m3-4h0m2 3h0m6-5h0m2 1h0m0 2h0m1-1h0m3-1h0m3 4h0m1-9h0m1-4h0m1-4h0m1 8h0m2-2h0m1-10h0m2 13h0m1-3h0m1 0h0m1-7h0m1 2h0m1 5h0m2-10h0m3-1h0m1 1h0m1 0h0m3-1h0m1-9h0m0 8h0m1-1h0m7-13h0m3 1h0m0 8h0m2 1h0m1-8h0m1-1h0m3 4h0m1-1h0m4-5h0m1-10h0m2 11h0m4-5h0m1-5h0m0 1h0m1-1h0m0 1h0m0 2h0m1-4h0m0 5h0m2-3h0m1-10h0m2 1h0m0 2h0m1-1h0m2 0h0m1 6h0m4-14h0m0 4h0m0 2h0m1-10h0m0 11h0m0 3h0m2-4h0m1-13h0m1 6h0m3-2h0m3 5h0m1-3h0m1-13h0m0 16h0m1-13h0m3 4h0m0 5h0m1-13h0m0 2h0m1-2h0m0 7h0m1-7h0m4-1h0m0 2h0m2-3h0m1-2h0m4 6h0m2-4h0m0 3h0m4-2h0m2-8h0m1-9h0m1-5h0m1 13h0m1-2h0m3-2h0m6-5h0m2-12h0m0 16h0m3-2h0m1-3h0m1-6h0m1 6h0m3 1h0m1-10h0m2-4h0m2-7h0m0 12h0m1-8h0m1 4h0m1 2h0m0 1h0m5-6h0m0 6h0m1-17h0m0 17h0m1-8h0m0 1h0m0 2h0m2-1h0m3-7h0m3 7h0m3-15h0m2-5h0m1 16h0m2-2h0m1-4h0m0 3h0m1-15h0m0 10h0m0 1h0m1-2h0m1-18h0m2 18h0m1-3h0m0 2h0m9-1h0m2-2h0m2-10h0m1 7h0m5-17h0m0 11h0m1-2h0m0 2h0m5-8h0m1 6h0m11-9h0m0 2h0m2-7h0m0 6h0m1 3h0m3-6h0m1-2h0m2-8h0m3-3h0m1 2h0m6-8h0m0 6h0m1-14h0m1 13h0m0 7h0m1-18h0m0 5h0m4 10h0m1 1h0m6-8h0m1 3h0m3-6h0m0 4h0m3-2h0m3-7h0m3-6h0m2 6h0m0 4h0m5-20h0m2 13h0m2-9h0m0 11h0m2-17h0m0 14h0m1 0h0m1-8h0m1-3h0m1 10h0m4-4h0m2 1h0m1-5h0m0 4h0m2-2h0m1-7h0m1 2h0m4 1h0m0 1h0m0 3h0m3-16h0m2-7h0m1 19h0m2-6h0m1-4h0m1-4h0m8-4h0m1 10h0m1 0h0m2-9h0m3-2h0m1 8h0m5-10h0m1 6h0m2-1h0m6-8h0m0 10h0m2-8h0m0 2h0m3-2h0m2-7h0m1 10h0m1-4h0m3-9h0m2 9h0m2-2h0m1-6h0m2 1h0m0 3h0m3 0h0m3-1h0m1-3h0m4-3h0m3 3h0m1 0h0m1-10h0m1 1h0m0 3h0m1-13h0m0 1h0m1 4h0m2 1h0m2-2h0m2-18h0m1 16h0m3-21h0m1-17h0m1 11h0m0 4h0m0 3h0m1-10h0m0 3h0m2-27h0m0 17h0m2-19h0m0 3h0m0 3h0m0 8h0m2-23h0m0 10h0m0 2h0m0 1h0m3-17h0m1 8h0m2-25h0m1 6h0m2-17h0m2-17h0m1-1h0m0 1h0m1-5h0m0 4h0m0 3h0m2-13h0m0 1h0m1-4h0m1-15h0" stroke="#9400d3" stroke-width="14.0" stroke-linecap="round" fill="none"/>
<path transform="scale(.1)" d="M2681 5394h0m1 3h0m3-5h0m1 1h0m1 3h0m6-4h0m2 1h0m4 0h0m8 1h0m7-7h0m0 1h0m1 0h0m2-1h0m3-1h0m0 1h0m3-3h0m2 3h0m2-1h0m3 1h0m7-5h0m0 1h0m10-2h0m5 0h0m13-3h0m2-2h0m3-1h0m4 0h0m5-1h0m7-3h0m1 6h0m1-6h0m1 4h0m6 0h0m5-4h0m6-3h0m3-1h0m5-1h0m9-1h0m3-1h0m3 3h0m0 1h0m8-6h0m7-1h0m1 5h0m1-7h0m2 1h0m1 1h0m2-2h0m0 1h0m6-5h0m3-1h0m0 1h0m2 1h0m1-2h0m5-3h0m1 2h0m2-1h0m6-4h0m1 3h0m1-2h0m6 0h0m2-4h0m3 2h0m2-1h0m3 0h0m2-5h0m4-2h0m1-1h0m6-1h0m2 0h0m3 2h0m1-2h0m2-4h0m0 1h0m1 0h0m5 0h0m1 2h0m2-1h0m2-2h0m1-2h0m1-2h0m2 0h0m2 0h0m2-3h0m2 1h0m8 0h0m6-9h0m1 1h0m2-1h0m4-3h0m5-3h0m0 1h0m3 0h0m1 0h0m1-3h0m2-1h0m8-5h0m2 3h0m3-5h0m5 0h0m2-4h0m2 2h0m3-2h0m4-4h0m1-1h0m6-2h0m4 2h0m1-5h0m4 1h0m1-2h0m7 2h0m2-5h0m2-3h0m9-1h0m12-11h0m3 0h0m7-2h0m3-2h0m3-1h0m1-2h0m1-1h0m0 5h0m8-9h0m5-3h0m0 2h0m11-7h0m5 0h0m3-2h0m0 3h0m0 3h0m2-8h0m7-2h0m2 1h0m2-3h0m2-3h0m1 1h0m0 2h0m2-2h0m13-9h0m6-3h0m2-1h0m0 3h0m1-4h0m3-2h0m0 1h0m0 1h0m6-1h0m4-2h0m1-2h0m1-4h0m6-3h0m4 3h0m7-5h0m6-1h0m1-1h0m7-1h0m4-8h0m10-5h0m8 1h0m6-8h0m2 3h0m1 2h0m1-8h0m3-1h0m1 1h0m4-3h0m1-1h0m10-3h0m3-3h0m2 2h0m5-6h0m14-6h0m1-1h0m1 0h0m1 0h0m2 1h0m1 0h0m3-5h0m1-1h0m0 3h0m3-1h0m2-2h0m8-1h0m2-3h0m5-5h0m1-1h0m2-2h0m0 3h0m1-2h0m4 5h0m2-9h0m2-1h0m0 3h0m1-2h0m2 0h0m2-2h0m2-2h0m4-3h0m6 1h0m6-2h0m2-4h0m0 1h0m3-3h0m3 3h0m13-3h0m0 2h0m5 15h0m1-1h0m2 7h0m0 1h0m4-9h0m4-15h0m1-10h0m1-2h0m4-4h0m2 2h0m3 4h0m1-1h0m1-1h0m1 4h0m9 4h0m1 2h0m5 6h0m8 5h0m20-41h0m0 6h0m1-6h0m0 2h0m1-3h0m0 3h0m5-4h0m2 0h0m3-3h0m3 0h0m4 0h0m4-5h0m4-3h0m1 0h0m2-1h0m3-1h0m0 2h0m1-1h0m7-1h0m5-5h0m1-1h0m1 0h0m5-1h0m4-5h0m0 4h0m2-3h0m5-1h0m1-1h0m4-1h0m3-4h0m3 0h0m4 1h0m25-10h0m1-3h0m1 2h0m1-4h0m7-16h0m5 3h0m1-3h0m3-3h0m3 0h0m5 1h0m7-2h0m1-3h0m1-2h0m3 6h0m2-8h0m0 1h0m0 1h0m3-3h0m2 1h0m2-2h0m4-1h0m3 1h0m1-2h0m1-2h0m4 0h0m5-5h0m8-21h0m0 4h0m6-18h0m2-1h0m1-6h0m1 3h0m1-8h0m3-3h0m4-36h0m1-9h0" stroke="#9400d3" stroke-width="14.0" stroke-linecap="round" fill="none"/>
<path transform="scale(.1)" d="M2680 5389h0m18-2h0m4-1h0m7-2h0m1-4h0m4-2h0m5 2h0m5-6h0m6 4h0m9-6h0m5 2h0m13-5h0m2 1h0m7-1h0m5-4h0m10-9h0m10 4h0m6 0h0m1-9h0m11-3h0m3 1h0m7-6h0m3 8h0m6 1h0m7-9h0m2 5h0m4 1h0m4-2h0m3-23h0m5 15h0m1-3h0m3 4h0m2-3h0m5-10h0m15-3h0m2-1h0m25-24h0m6 8h0m6-9h0m4-10h0m2 11h0m11-29h0m1 6h0m1 15h0m3-12h0m8-10h0m10 6h0m1 0h0m9-33h0m17 19h0m7-17h0m7 6h0m3-9h0m5-1h0m3-1h0m24-17h0m8 2h0m5-8h0m5-5h0m12-23h0m9-16h0m2-4h0m0 31h0m10-7h0m4-24h0m2-16h0m1 23h0m3 9h0m20-58h0m2 37h0m5-27h0m24 10h0m10-24h0m2 21h0m8-13h0m8-2h0m2-25h0m1 23h0m2-1h0m2-22h0m6 19h0m1-5h0m6-17h0m1 14h0m2-2h0m5-8h0m7-31h0m2 10h0m2 11h0m2-24h0m2 29h0m3-6h0m1-6h0m11-4h0m10-28h0m0 23h0m4 3h0m13-21h0m1 4h0m8-25h0m10 8h0m8-1h0m1 5h0m8-36h0m3 14h0m1 9h0m2-27h0m0 30h0m3-41h0m1 36h0m6-8h0m5-2h0m9-9h0m2-13h0m3-31h0m2 24h0m1 2h0m10-37h0m4-29h0m8 65h0m6-21h0m6 6h0m3-26h0m9 13h0m6 2h0m1 5h0m4-30h0m0 32h0m10-25h0m0 17h0m1-3h0m3-21h0m0 13h0m4-4h0m9-16h0m2-28h0m0 47h0m4 2h0m6-46h0m13 8h0m5 10h0m7-21h0m8 7h0m22-2h0m14-6h0m10-14h0m20 4h0m31-14h0m3-13h0m14-52h0m3 45h0m1 9h0m6-35h0m7 9h0m1-56h0m14 0h0m1-31h0m2-29h0m9-14h0" stroke="#9400d3" stroke-width="14.0" stroke-linecap="round" fill="none"/>
<path transform="scale(.1)" d="M3220 4963h0m62-60h0m49-33h0m11-18h0m100-49h0m45 67h0m11-107h0m22 95h0m56-122h0m45-62h0" stroke="#9400d3" stroke-width="14.0" stroke-linecap="round" fill="none"/>
<polygon points="267,536.7 362.5,536.7 362.5,538.6 267,538.6" fill="#009e73" stroke="none"/>
<path transform="scale(.1)" d="M2673 5363h0m21 5h0m5-3h0m0 2h0m0 1h0m11-1h0m2 0h0m15 0h0m2 1h0m1-2h0m6 1h0m0 2h0m7-3h0m2 3h0m5-1h0m8 1h0m3-4h0m9 4h0m2-1h0m2 1h0m4-3h0m2 2h0m10-3h0m0 1h0m4-1h0m14 3h0m5 0h0m36-1h0m7 1h0m1-2h0m12 2h0m4-1h0m2 1h0m2 0h0m4-4h0m2 4h0m1-1h0m5 1h0m9-3h0m3 3h0m26 0h0m1 0h0m4-2h0m1 2h0m8 0h0m11 0h0m4-1h0m1 1h0m2 0h0m12-3h0m3 3h0m5-2h0m2 2h0m6-1h0m1 2h0m3 0h0m4-1h0m11-2h0m1-2h0m12 3h0m0 1h0m7-1h0m7 1h0m21 0h0m3 0h0m7 0h0m5 0h0m2-1h0m3-1h0m8 2h0m5-2h0m19 0h0m3 1h0m1 1h0m12 0h0m5-1h0m1 1h0m2 0h0m3-1h0m9 1h0m11 0h0m17-1h0m10-1h0m7 1h0m1 0h0m0 1h0m5-1h0m12 0h0m1 0h0m8 0h0m3-2h0m26 3h0m8-2h0m13 0h0m5 0h0m11 2h0m10-2h0m4 3h0m4-3h0m1 0h0m0 2h0m3 0h0m4 0h0m25-2h0m3 2h0m5 1h0m3-2h0m6 0h0m5 0h0m8 1h0m9 1h0m2-1h0m1 0h0m1 0h0m11-4h0m1 3h0m6 0h0m0 1h0m8-1h0m4-2h0m1 3h0m6-3h0m1 3h0m12 1h0m9-1h0m13-2h0m6 0h0m10 2h0m3 0h0m8-3h0m7 2h0m3 1h0m2 0h0m1-3h0m3 2h0m3 1h0m1 1h0m3-3h0m0 2h0m15-1h0m2 1h0m3 1h0m11-1h0m6 0h0m8 0h0m6-3h0m4 1h0m1 2h0m10 0h0m9-1h0m17 0h0m0 1h0m8 0h0m3-1h0m21 1h0m2-1h0m3 0h0" stroke="#009e73" stroke-width="14.0" stroke-linecap="round" fill="none"/>
<path transform="scale(.1)" d="M2671 5388h0m19-1h0m11-2h0m8 1h0m3 0h0m9 0h0m3 0h0m4-1h0m7 1h0m12-1h0m6 1h0m13 0h0m9 0h0m3-1h0m7 0h0m7 2h0m4-1h0m7 0h0m9-1h0m28 2h0m32-2h0m6 3h0m15-3h0m16 1h0m13-1h0m6 0h0m6 2h0m6 0h0m9-2h0m6 1h0m7-1h0m13 2h0m34-1h0m3-1h0m16 1h0m1 0h0m27 0h0m19 1h0m5-1h0m4 0h0m26-1h0m5 1h0m8-1h0m12 0h0m12 0h0m9 1h0m7 0h0m23-1h0m0 1h0m36 0h0m7-1h0m34 0h0m32 0h0m5 0h0m13 0h0m122 0h0m18 3h0m4-2h0m5 0h0m2 2h0m7-3h0m2 1h0m2 1h0m4 0h0m12-1h0m8 1h0m19-2h0m13 1h0m3-1h0m19 0h0m14 0h0m16 0h0m10 0h0m3 0h0m17 1h0m8 1h0" stroke="#009e73" stroke-width="14.0" stroke-linecap="round" fill="none"/>
<path transform="scale(.1)" d="M2696 5365h0m32 0h0m122-19h0m19 17h0m6 0h0m7-1h0m33-5h0m62 6h0m32-26h0m31 24h0m32 1h0m4-4h0m0 1h0m28-4h0m56 6h0m29-2h0m20 7h0m68-13h0m2 11h0m28-4h0m34 5h0m44-4h0m7 4h0m8-15h0m3 17h0m8-9h0m1 7h0m7 1h0m55 0h0m103 0h0" stroke="#009e73" stroke-width="14.0" stroke-linecap="round" fill="none"/>
<path transform="scale(.1)" d="M2680 5359h0m7 3h0m2 5h0m4-5h0m2 6h0m13-16h0m1 5h0m0 6h0m5 0h0m2 4h0m6-21h0m2 26h0m1-5h0m1 3h0m4-23h0m1 6h0m6 2h0m4 5h0m0 7h0m5 2h0m11-7h0m1 4h0m1-12h0m0 13h0m1-3h0" stroke="#009e73" stroke-width="14.0" stroke-linecap="round" fill="none"/>
<path transform="scale(.1)" d="M2976 5348h0m14 1h0m10-3h0m88-8h0m42 2h0m21 0h0m31-5h0m34-1h0m32 0h0m3-4h0m21 4h0m35-6h0m26-2h0m30 1h0m44-4h0m23-6h0m76 0h0m14-2h0m10 2h0m23-1h0m11-2h0" stroke="#009e73" stroke-width="14.0" stroke-linecap="round" fill="none"/>
</g>
</g></svg></body></html>
